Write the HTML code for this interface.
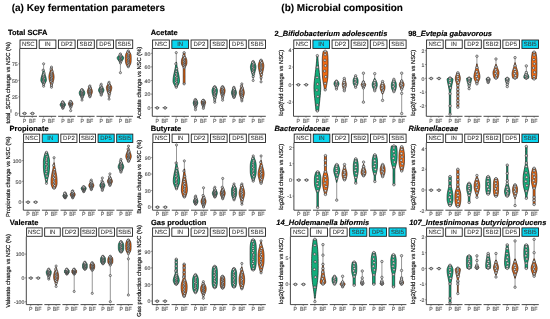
<!DOCTYPE html>
<html><head><meta charset="utf-8"><title>Figure</title><style>
*{margin:0;padding:0}
html,body{width:550px;height:319px;overflow:hidden;background:#fff}
svg{display:block;text-rendering:geometricPrecision;font-family:"Liberation Sans",Arial,sans-serif}
.pt{font-size:7.5px;font-weight:bold;fill:#000;stroke:#000;stroke-width:0.15}
.yl{fill:#111;stroke:#111;stroke-width:0.18;text-anchor:middle}
.ax{stroke:#333;stroke-width:0.9}
.tk{stroke:#444;stroke-width:0.55}
.tl{font-size:5.2px;fill:#555;stroke:#555;stroke-width:0.15;text-anchor:end}
.xl{font-size:5.3px;fill:#666;stroke:#666;stroke-width:0.15;text-anchor:middle}
.sb{stroke:#222;stroke-width:0.9}
.st{font-size:6px;fill:#3a3a3a;stroke:#3a3a3a;stroke-width:0.08;text-anchor:middle}
.vl{stroke:#000;stroke-width:0.6}
.tl2{stroke:#6a6a6a;stroke-width:0.7}
.pp{fill:#d6d6d6;stroke:#2a2a2a;stroke-width:0.55}
.pt0{fill:#d0d0d0;stroke:#2a2a2a;stroke-width:0.7}
</style></head><body>
<svg width="550" height="319" viewBox="0 0 550 319">
<rect width="550" height="319" fill="#fff"/>
<text x="11.7" y="10.9" font-size="10" font-weight="bold" fill="#000" stroke="#000" stroke-width="0.1">(a) Key fermentation parameters</text>
<text x="281.3" y="10.9" font-size="10" font-weight="bold" fill="#000" stroke="#000" stroke-width="0.1">(b) Microbial composition</text>
<text x="8" y="35.3" class="pt">Total SCFA</text>
<text class="yl" font-size="5.8" transform="translate(9.7,82.8) rotate(-90)" x="0" y="0">total_SCFA change vs NSC (%)</text>
<line x1="19.7" y1="48.7" x2="19.7" y2="116.3" class="ax"/>
<line x1="18.3" y1="113.3" x2="19.7" y2="113.3" class="tk"/>
<text x="17.7" y="115.5" class="tl">0</text>
<line x1="18.3" y1="96.8" x2="19.7" y2="96.8" class="tk"/>
<text x="17.7" y="99" class="tl">25</text>
<line x1="18.3" y1="80.3" x2="19.7" y2="80.3" class="tk"/>
<text x="17.7" y="82.5" class="tl">50</text>
<line x1="18.3" y1="63.8" x2="19.7" y2="63.8" class="tk"/>
<text x="17.7" y="66" class="tl">75</text>
<rect x="20" y="40" width="16.7" height="8.4" fill="#fff" class="sb"/>
<text x="28.35" y="46.3" class="st">NSC</text>
<line x1="19.7" y1="116.3" x2="37" y2="116.3" class="ax"/>
<line x1="24.42" y1="116.3" x2="24.42" y2="117.7" class="tk"/>
<text class="xl" transform="translate(24.57,122.5) scale(1,1.12)">P</text>
<line x1="32.28" y1="116.3" x2="32.28" y2="117.7" class="tk"/>
<text class="xl" transform="translate(32.28,122.5) scale(1,1.12)">BF</text>
<line x1="22.02" y1="113.3" x2="26.82" y2="113.3" stroke="#333" stroke-width="0.7"/>
<circle cx="24.62" cy="113.5" r="1.3" class="pt0"/>
<line x1="29.88" y1="113.3" x2="34.68" y2="113.3" stroke="#333" stroke-width="0.7"/>
<circle cx="32.48" cy="113.5" r="1.3" class="pt0"/>
<rect x="39.2" y="40" width="16.7" height="8.4" fill="#fff" class="sb"/>
<text x="47.55" y="46.3" class="st">IN</text>
<line x1="38.9" y1="116.3" x2="56.2" y2="116.3" class="ax"/>
<line x1="43.62" y1="116.3" x2="43.62" y2="117.7" class="tk"/>
<text class="xl" transform="translate(43.77,122.5) scale(1,1.12)">P</text>
<line x1="51.48" y1="116.3" x2="51.48" y2="117.7" class="tk"/>
<text class="xl" transform="translate(51.48,122.5) scale(1,1.12)">BF</text>
<line x1="43.62" y1="86.24" x2="43.62" y2="85.62" class="tl2"/>
<line x1="43.62" y1="69.41" x2="43.62" y2="63.8" class="tl2"/>
<path d="M43.98,85.62 L44.18,84.99 L44.46,84.37 L44.79,83.75 L45.17,83.12 L45.56,82.5 L45.92,81.88 L46.19,81.25 L46.35,80.63 L46.36,80.01 L46.33,79.38 L46.25,78.76 L46.15,78.14 L46.01,77.51 L45.85,76.89 L45.67,76.27 L45.48,75.64 L45.29,75.02 L45.09,74.4 L44.9,73.77 L44.72,73.15 L44.55,72.53 L44.39,71.9 L44.26,71.28 L44.14,70.66 L44.03,70.03 L43.95,69.41 L43.29,69.41 L43.2,70.03 L43.1,70.66 L42.98,71.28 L42.84,71.9 L42.69,72.53 L42.52,73.15 L42.34,73.77 L42.15,74.4 L41.95,75.02 L41.75,75.64 L41.56,76.27 L41.39,76.89 L41.23,77.51 L41.09,78.14 L40.98,78.76 L40.91,79.38 L40.87,80.01 L40.89,80.63 L41.04,81.25 L41.32,81.88 L41.67,82.5 L42.07,83.12 L42.45,83.75 L42.78,84.37 L43.05,84.99 L43.26,85.62Z" fill="#14AD7C" class="vl"/>
<circle cx="43.62" cy="86.24" r="1.1" class="pp"/>
<circle cx="43.62" cy="63.8" r="1.1" class="pp"/>
<circle cx="43.62" cy="84.22" r="1.1" class="pp"/>
<circle cx="44.12" cy="82.69" r="1.1" class="pp"/>
<circle cx="43.12" cy="81.7" r="1.1" class="pp"/>
<circle cx="43.87" cy="80.88" r="1.1" class="pp"/>
<circle cx="43.37" cy="80.12" r="1.1" class="pp"/>
<circle cx="43.62" cy="79.35" r="1.1" class="pp"/>
<circle cx="44.12" cy="78.57" r="1.1" class="pp"/>
<circle cx="43.12" cy="77.74" r="1.1" class="pp"/>
<circle cx="43.87" cy="76.85" r="1.1" class="pp"/>
<circle cx="43.37" cy="75.84" r="1.1" class="pp"/>
<circle cx="43.62" cy="74.64" r="1.1" class="pp"/>
<circle cx="44.12" cy="73.04" r="1.1" class="pp"/>
<circle cx="43.12" cy="70.19" r="1.1" class="pp"/>
<path d="M51.88,87.23 L51.97,86.67 L52.07,86.11 L52.18,85.55 L52.31,84.99 L52.45,84.43 L52.6,83.88 L52.75,83.32 L52.92,82.76 L53.08,82.2 L53.25,81.64 L53.41,81.08 L53.56,80.52 L53.7,79.96 L53.83,79.4 L53.93,78.84 L54.01,78.28 L54.06,77.72 L54.08,77.16 L54.07,76.61 L54.04,76.05 L53.98,75.49 L53.89,74.93 L53.78,74.37 L53.65,73.81 L53.5,73.25 L53.35,72.69 L53.18,72.13 L53.02,71.57 L52.85,71.01 L52.69,70.45 L52.53,69.9 L52.39,69.34 L52.26,68.78 L52.13,68.22 L52.03,67.66 L51.93,67.1 L51.03,67.1 L50.94,67.66 L50.83,68.22 L50.71,68.78 L50.57,69.34 L50.43,69.9 L50.28,70.45 L50.11,71.01 L49.95,71.57 L49.78,72.13 L49.62,72.69 L49.46,73.25 L49.32,73.81 L49.19,74.37 L49.07,74.93 L48.99,75.49 L48.92,76.05 L48.89,76.61 L48.88,77.16 L48.91,77.72 L48.96,78.28 L49.04,78.84 L49.14,79.4 L49.26,79.96 L49.4,80.52 L49.55,81.08 L49.71,81.64 L49.88,82.2 L50.05,82.76 L50.21,83.32 L50.37,83.88 L50.52,84.43 L50.66,84.99 L50.78,85.55 L50.9,86.11 L51,86.67 L51.08,87.23Z" fill="#F06A12" class="vl"/>
<circle cx="51.48" cy="87.23" r="1.1" class="pp"/>
<circle cx="51.48" cy="67.1" r="1.1" class="pp"/>
<circle cx="51.48" cy="85.11" r="1.1" class="pp"/>
<circle cx="51.98" cy="82.84" r="1.1" class="pp"/>
<circle cx="50.98" cy="81.31" r="1.1" class="pp"/>
<circle cx="51.73" cy="80.08" r="1.1" class="pp"/>
<circle cx="51.23" cy="79" r="1.1" class="pp"/>
<circle cx="51.48" cy="78" r="1.1" class="pp"/>
<circle cx="51.98" cy="77.03" r="1.1" class="pp"/>
<circle cx="50.98" cy="76.06" r="1.1" class="pp"/>
<circle cx="51.73" cy="75.06" r="1.1" class="pp"/>
<circle cx="51.23" cy="73.98" r="1.1" class="pp"/>
<circle cx="51.48" cy="72.76" r="1.1" class="pp"/>
<circle cx="51.98" cy="71.26" r="1.1" class="pp"/>
<circle cx="50.98" cy="69.06" r="1.1" class="pp"/>
<rect x="58.4" y="40" width="16.7" height="8.4" fill="#fff" class="sb"/>
<text x="66.75" y="46.3" class="st">DP2</text>
<line x1="58.1" y1="116.3" x2="75.4" y2="116.3" class="ax"/>
<line x1="62.82" y1="116.3" x2="62.82" y2="117.7" class="tk"/>
<text class="xl" transform="translate(62.97,122.5) scale(1,1.12)">P</text>
<line x1="70.68" y1="116.3" x2="70.68" y2="117.7" class="tk"/>
<text class="xl" transform="translate(70.68,122.5) scale(1,1.12)">BF</text>
<path d="M63.32,108.35 L63.41,108.17 L63.51,107.98 L63.62,107.8 L63.74,107.62 L63.87,107.43 L64.01,107.25 L64.16,107.07 L64.3,106.88 L64.46,106.7 L64.61,106.52 L64.76,106.33 L64.9,106.15 L65.03,105.97 L65.16,105.78 L65.26,105.6 L65.36,105.42 L65.43,105.23 L65.48,105.05 L65.51,104.87 L65.52,104.68 L65.5,104.5 L65.46,104.32 L65.4,104.13 L65.32,103.95 L65.22,103.77 L65.11,103.58 L64.98,103.4 L64.84,103.22 L64.7,103.03 L64.55,102.85 L64.4,102.67 L64.24,102.48 L64.1,102.3 L63.96,102.12 L63.82,101.93 L63.69,101.75 L61.94,101.75 L61.82,101.93 L61.68,102.12 L61.54,102.3 L61.39,102.48 L61.24,102.67 L61.09,102.85 L60.94,103.03 L60.79,103.22 L60.66,103.4 L60.53,103.58 L60.41,103.77 L60.31,103.95 L60.23,104.13 L60.17,104.32 L60.13,104.5 L60.12,104.68 L60.13,104.87 L60.16,105.05 L60.21,105.23 L60.28,105.42 L60.37,105.6 L60.48,105.78 L60.6,105.97 L60.74,106.15 L60.88,106.33 L61.03,106.52 L61.18,106.7 L61.33,106.88 L61.48,107.07 L61.62,107.25 L61.76,107.43 L61.89,107.62 L62.01,107.8 L62.12,107.98 L62.22,108.17 L62.32,108.35Z" fill="#14AD7C" class="vl"/>
<circle cx="62.82" cy="108.35" r="1.1" class="pp"/>
<circle cx="62.82" cy="101.75" r="1.1" class="pp"/>
<circle cx="62.82" cy="107.68" r="1.1" class="pp"/>
<circle cx="63.32" cy="106.89" r="1.1" class="pp"/>
<circle cx="62.32" cy="106.35" r="1.1" class="pp"/>
<circle cx="63.07" cy="105.9" r="1.1" class="pp"/>
<circle cx="62.57" cy="105.51" r="1.1" class="pp"/>
<circle cx="62.82" cy="105.15" r="1.1" class="pp"/>
<circle cx="63.32" cy="104.8" r="1.1" class="pp"/>
<circle cx="62.32" cy="104.46" r="1.1" class="pp"/>
<circle cx="63.07" cy="104.11" r="1.1" class="pp"/>
<circle cx="62.57" cy="103.73" r="1.1" class="pp"/>
<circle cx="62.82" cy="103.32" r="1.1" class="pp"/>
<circle cx="63.32" cy="102.83" r="1.1" class="pp"/>
<circle cx="62.32" cy="102.2" r="1.1" class="pp"/>
<line x1="70.68" y1="110.66" x2="70.68" y2="107.58" class="tl2"/>
<path d="M71.02,107.58 L71.12,107.32 L71.23,107.07 L71.35,106.81 L71.5,106.55 L71.65,106.3 L71.82,106.04 L72,105.78 L72.17,105.53 L72.34,105.27 L72.51,105.01 L72.65,104.76 L72.77,104.5 L72.86,104.24 L72.91,103.99 L72.93,103.73 L72.91,103.47 L72.86,103.22 L72.77,102.96 L72.65,102.7 L72.51,102.45 L72.34,102.19 L72.17,101.93 L72,101.68 L71.82,101.42 L69.54,101.42 L69.37,101.68 L69.19,101.93 L69.02,102.19 L68.86,102.45 L68.71,102.7 L68.6,102.96 L68.51,103.22 L68.45,103.47 L68.43,103.73 L68.45,103.99 L68.51,104.24 L68.6,104.5 L68.71,104.76 L68.86,105.01 L69.02,105.27 L69.19,105.53 L69.37,105.78 L69.54,106.04 L69.71,106.3 L69.87,106.55 L70.01,106.81 L70.14,107.07 L70.25,107.32 L70.34,107.58Z" fill="#F06A12" class="vl"/>
<circle cx="70.68" cy="110.66" r="1.1" class="pp"/>
<circle cx="70.68" cy="101.42" r="1.1" class="pp"/>
<circle cx="70.68" cy="107.41" r="1.1" class="pp"/>
<circle cx="71.18" cy="106.28" r="1.1" class="pp"/>
<circle cx="70.18" cy="105.65" r="1.1" class="pp"/>
<circle cx="70.93" cy="105.17" r="1.1" class="pp"/>
<circle cx="70.43" cy="104.76" r="1.1" class="pp"/>
<circle cx="70.68" cy="104.39" r="1.1" class="pp"/>
<circle cx="71.18" cy="104.04" r="1.1" class="pp"/>
<circle cx="70.18" cy="103.7" r="1.1" class="pp"/>
<circle cx="70.93" cy="103.36" r="1.1" class="pp"/>
<circle cx="70.43" cy="103.01" r="1.1" class="pp"/>
<circle cx="70.68" cy="102.64" r="1.1" class="pp"/>
<circle cx="71.18" cy="102.22" r="1.1" class="pp"/>
<circle cx="70.18" cy="101.72" r="1.1" class="pp"/>
<rect x="77.6" y="40" width="16.7" height="8.4" fill="#fff" class="sb"/>
<text x="85.95" y="46.3" class="st">SBI2</text>
<line x1="77.3" y1="116.3" x2="94.6" y2="116.3" class="ax"/>
<line x1="82.02" y1="116.3" x2="82.02" y2="117.7" class="tk"/>
<text class="xl" transform="translate(82.17,122.5) scale(1,1.12)">P</text>
<line x1="89.88" y1="116.3" x2="89.88" y2="117.7" class="tk"/>
<text class="xl" transform="translate(89.88,122.5) scale(1,1.12)">BF</text>
<line x1="82.02" y1="100.1" x2="82.02" y2="98.63" class="tl2"/>
<path d="M82.38,98.63 L82.48,98.34 L82.59,98.05 L82.73,97.75 L82.88,97.46 L83.05,97.17 L83.22,96.87 L83.41,96.58 L83.59,96.29 L83.78,95.99 L83.96,95.7 L84.12,95.41 L84.28,95.11 L84.41,94.82 L84.52,94.53 L84.61,94.23 L84.68,93.94 L84.73,93.65 L84.76,93.35 L84.77,93.06 L84.77,92.77 L84.76,92.47 L84.73,92.18 L84.66,91.89 L84.57,91.59 L84.43,91.3 L84.27,91.01 L84.07,90.71 L83.86,90.42 L83.63,90.13 L83.39,89.83 L83.17,89.54 L80.87,89.54 L80.64,89.83 L80.41,90.13 L80.18,90.42 L79.96,90.71 L79.77,91.01 L79.6,91.3 L79.47,91.59 L79.37,91.89 L79.31,92.18 L79.28,92.47 L79.27,92.77 L79.27,93.06 L79.28,93.35 L79.31,93.65 L79.35,93.94 L79.42,94.23 L79.51,94.53 L79.63,94.82 L79.76,95.11 L79.91,95.41 L80.08,95.7 L80.26,95.99 L80.44,96.29 L80.63,96.58 L80.81,96.87 L80.99,97.17 L81.16,97.46 L81.31,97.75 L81.44,98.05 L81.56,98.34 L81.66,98.63Z" fill="#14AD7C" class="vl"/>
<circle cx="82.02" cy="100.1" r="1.1" class="pp"/>
<circle cx="82.02" cy="89.54" r="1.1" class="pp"/>
<circle cx="82.02" cy="97.86" r="1.1" class="pp"/>
<circle cx="82.52" cy="96.52" r="1.1" class="pp"/>
<circle cx="81.52" cy="95.7" r="1.1" class="pp"/>
<circle cx="82.27" cy="95.06" r="1.1" class="pp"/>
<circle cx="81.77" cy="94.48" r="1.1" class="pp"/>
<circle cx="82.02" cy="93.95" r="1.1" class="pp"/>
<circle cx="82.52" cy="93.44" r="1.1" class="pp"/>
<circle cx="81.52" cy="92.94" r="1.1" class="pp"/>
<circle cx="82.27" cy="92.44" r="1.1" class="pp"/>
<circle cx="81.77" cy="91.93" r="1.1" class="pp"/>
<circle cx="82.02" cy="91.4" r="1.1" class="pp"/>
<circle cx="82.52" cy="90.8" r="1.1" class="pp"/>
<circle cx="81.52" cy="90.05" r="1.1" class="pp"/>
<path d="M90.58,96.8 L90.68,96.5 L90.8,96.19 L90.92,95.89 L91.05,95.59 L91.18,95.29 L91.32,94.98 L91.46,94.68 L91.6,94.38 L91.73,94.08 L91.86,93.78 L91.98,93.47 L92.09,93.17 L92.18,92.87 L92.26,92.56 L92.32,92.26 L92.36,91.96 L92.38,91.66 L92.38,91.35 L92.36,91.05 L92.31,90.75 L92.25,90.45 L92.17,90.14 L92.08,89.84 L91.97,89.54 L91.85,89.24 L91.72,88.94 L91.59,88.63 L91.45,88.33 L91.31,88.03 L91.17,87.72 L91.04,87.42 L90.91,87.12 L90.79,86.82 L90.67,86.51 L90.57,86.21 L90.47,85.91 L89.29,85.91 L89.2,86.21 L89.09,86.51 L88.98,86.82 L88.85,87.12 L88.73,87.42 L88.59,87.72 L88.45,88.03 L88.31,88.33 L88.18,88.63 L88.04,88.94 L87.91,89.24 L87.79,89.54 L87.68,89.84 L87.59,90.14 L87.51,90.45 L87.45,90.75 L87.41,91.05 L87.38,91.35 L87.38,91.66 L87.4,91.96 L87.44,92.26 L87.5,92.56 L87.58,92.87 L87.68,93.17 L87.78,93.47 L87.9,93.78 L88.03,94.08 L88.16,94.38 L88.3,94.68 L88.44,94.98 L88.58,95.29 L88.71,95.59 L88.84,95.89 L88.97,96.19 L89.08,96.5 L89.19,96.8Z" fill="#F06A12" class="vl"/>
<circle cx="89.88" cy="96.8" r="1.1" class="pp"/>
<circle cx="89.88" cy="85.91" r="1.1" class="pp"/>
<circle cx="89.88" cy="95.96" r="1.1" class="pp"/>
<circle cx="90.38" cy="94.82" r="1.1" class="pp"/>
<circle cx="89.38" cy="93.98" r="1.1" class="pp"/>
<circle cx="90.13" cy="93.28" r="1.1" class="pp"/>
<circle cx="89.63" cy="92.65" r="1.1" class="pp"/>
<circle cx="89.88" cy="92.05" r="1.1" class="pp"/>
<circle cx="90.38" cy="91.48" r="1.1" class="pp"/>
<circle cx="89.38" cy="90.9" r="1.1" class="pp"/>
<circle cx="90.13" cy="90.3" r="1.1" class="pp"/>
<circle cx="89.63" cy="89.66" r="1.1" class="pp"/>
<circle cx="89.88" cy="88.94" r="1.1" class="pp"/>
<circle cx="90.38" cy="88.07" r="1.1" class="pp"/>
<circle cx="89.38" cy="86.86" r="1.1" class="pp"/>
<rect x="96.8" y="40" width="16.7" height="8.4" fill="#fff" class="sb"/>
<text x="105.15" y="46.3" class="st">DP5</text>
<line x1="96.5" y1="116.3" x2="113.8" y2="116.3" class="ax"/>
<line x1="101.22" y1="116.3" x2="101.22" y2="117.7" class="tk"/>
<text class="xl" transform="translate(101.37,122.5) scale(1,1.12)">P</text>
<line x1="109.08" y1="116.3" x2="109.08" y2="117.7" class="tk"/>
<text class="xl" transform="translate(109.08,122.5) scale(1,1.12)">BF</text>
<line x1="101.22" y1="84.86" x2="101.22" y2="84.26" class="tl2"/>
<path d="M101.68,95.15 L101.79,94.85 L101.92,94.54 L102.05,94.24 L102.21,93.94 L102.37,93.64 L102.55,93.33 L102.74,93.03 L102.92,92.73 L103.11,92.43 L103.29,92.12 L103.45,91.82 L103.6,91.52 L103.72,91.22 L103.82,90.91 L103.89,90.61 L103.92,90.31 L103.91,90.01 L103.87,89.7 L103.8,89.4 L103.69,89.1 L103.56,88.8 L103.41,88.49 L103.24,88.19 L103.06,87.89 L102.87,87.59 L102.69,87.28 L102.5,86.98 L102.33,86.68 L102.16,86.38 L102.01,86.07 L101.88,85.77 L101.76,85.47 L101.66,85.17 L101.57,84.86 L100.87,84.86 L100.78,85.17 L100.68,85.47 L100.56,85.77 L100.42,86.07 L100.27,86.38 L100.11,86.68 L99.93,86.98 L99.75,87.28 L99.56,87.59 L99.38,87.89 L99.2,88.19 L99.03,88.49 L98.87,88.8 L98.74,89.1 L98.64,89.4 L98.57,89.7 L98.53,90.01 L98.52,90.31 L98.55,90.61 L98.62,90.91 L98.71,91.22 L98.84,91.52 L98.98,91.82 L99.15,92.12 L99.33,92.43 L99.51,92.73 L99.7,93.03 L99.88,93.33 L100.06,93.64 L100.23,93.94 L100.38,94.24 L100.52,94.54 L100.64,94.85 L100.75,95.15Z" fill="#14AD7C" class="vl"/>
<circle cx="101.22" cy="95.15" r="1.1" class="pp"/>
<circle cx="101.22" cy="84.26" r="1.1" class="pp"/>
<circle cx="101.22" cy="94.16" r="1.1" class="pp"/>
<circle cx="101.72" cy="93.05" r="1.1" class="pp"/>
<circle cx="100.72" cy="92.29" r="1.1" class="pp"/>
<circle cx="101.47" cy="91.68" r="1.1" class="pp"/>
<circle cx="100.97" cy="91.13" r="1.1" class="pp"/>
<circle cx="101.22" cy="90.63" r="1.1" class="pp"/>
<circle cx="101.72" cy="90.14" r="1.1" class="pp"/>
<circle cx="100.72" cy="89.65" r="1.1" class="pp"/>
<circle cx="101.47" cy="89.13" r="1.1" class="pp"/>
<circle cx="100.97" cy="88.58" r="1.1" class="pp"/>
<circle cx="101.22" cy="87.93" r="1.1" class="pp"/>
<circle cx="101.72" cy="87.12" r="1.1" class="pp"/>
<circle cx="100.72" cy="85.81" r="1.1" class="pp"/>
<line x1="109.08" y1="99.11" x2="109.08" y2="97.24" class="tl2"/>
<path d="M109.38,97.24 L109.45,96.77 L109.53,96.3 L109.62,95.84 L109.73,95.37 L109.85,94.9 L109.97,94.44 L110.11,93.97 L110.26,93.5 L110.42,93.03 L110.58,92.56 L110.75,92.1 L110.91,91.63 L111.07,91.16 L111.23,90.69 L111.37,90.23 L111.49,89.76 L111.6,89.29 L111.68,88.82 L111.74,88.36 L111.77,87.89 L111.78,87.42 L111.71,86.95 L111.57,86.49 L111.36,86.02 L111.1,85.55 L110.82,85.08 L110.53,84.62 L110.25,84.15 L110,83.68 L109.78,83.22 L109.59,82.75 L109.45,82.28 L108.72,82.28 L108.57,82.75 L108.38,83.22 L108.16,83.68 L107.91,84.15 L107.63,84.62 L107.34,85.08 L107.06,85.55 L106.8,86.02 L106.6,86.49 L106.45,86.95 L106.39,87.42 L106.39,87.89 L106.42,88.36 L106.48,88.82 L106.57,89.29 L106.67,89.76 L106.8,90.23 L106.94,90.69 L107.09,91.16 L107.25,91.63 L107.41,92.1 L107.58,92.56 L107.74,93.03 L107.9,93.5 L108.05,93.97 L108.19,94.44 L108.32,94.9 L108.43,95.37 L108.54,95.84 L108.63,96.3 L108.71,96.77 L108.78,97.24Z" fill="#F06A12" class="vl"/>
<circle cx="109.08" cy="99.11" r="1.1" class="pp"/>
<circle cx="109.08" cy="82.28" r="1.1" class="pp"/>
<circle cx="109.08" cy="95.94" r="1.1" class="pp"/>
<circle cx="109.58" cy="93.66" r="1.1" class="pp"/>
<circle cx="108.58" cy="92.3" r="1.1" class="pp"/>
<circle cx="109.33" cy="91.26" r="1.1" class="pp"/>
<circle cx="108.83" cy="90.38" r="1.1" class="pp"/>
<circle cx="109.08" cy="89.6" r="1.1" class="pp"/>
<circle cx="109.58" cy="88.86" r="1.1" class="pp"/>
<circle cx="108.58" cy="88.16" r="1.1" class="pp"/>
<circle cx="109.33" cy="87.48" r="1.1" class="pp"/>
<circle cx="108.83" cy="86.78" r="1.1" class="pp"/>
<circle cx="109.08" cy="86.02" r="1.1" class="pp"/>
<circle cx="109.58" cy="85.11" r="1.1" class="pp"/>
<circle cx="108.58" cy="83.74" r="1.1" class="pp"/>
<rect x="116" y="40" width="16.7" height="8.4" fill="#fff" class="sb"/>
<text x="124.35" y="46.3" class="st">SBI5</text>
<line x1="115.7" y1="116.3" x2="133" y2="116.3" class="ax"/>
<line x1="120.42" y1="116.3" x2="120.42" y2="117.7" class="tk"/>
<text class="xl" transform="translate(120.57,122.5) scale(1,1.12)">P</text>
<line x1="128.28" y1="116.3" x2="128.28" y2="117.7" class="tk"/>
<text class="xl" transform="translate(128.28,122.5) scale(1,1.12)">BF</text>
<line x1="120.42" y1="72.71" x2="120.42" y2="63.3" class="tl2"/>
<path d="M120.81,63.3 L120.99,62.78 L121.23,62.26 L121.52,61.74 L121.87,61.21 L122.25,60.69 L122.63,60.17 L123,59.65 L123.32,59.12 L123.54,58.6 L123.66,58.08 L123.63,57.56 L123.4,57.03 L123,56.51 L122.5,55.99 L121.98,55.47 L121.52,54.94 L121.14,54.42 L120.86,53.9 L119.98,53.9 L119.7,54.42 L119.32,54.94 L118.85,55.47 L118.34,55.99 L117.84,56.51 L117.44,57.03 L117.21,57.56 L117.18,58.08 L117.29,58.6 L117.52,59.12 L117.83,59.65 L118.2,60.17 L118.59,60.69 L118.97,61.21 L119.31,61.74 L119.61,62.26 L119.85,62.78 L120.03,63.3Z" fill="#14AD7C" class="vl"/>
<circle cx="120.42" cy="72.71" r="1.1" class="pp"/>
<circle cx="120.42" cy="53.9" r="1.1" class="pp"/>
<circle cx="120.42" cy="62.93" r="1.1" class="pp"/>
<circle cx="120.92" cy="61.35" r="1.1" class="pp"/>
<circle cx="119.92" cy="60.49" r="1.1" class="pp"/>
<circle cx="120.67" cy="59.84" r="1.1" class="pp"/>
<circle cx="120.17" cy="59.3" r="1.1" class="pp"/>
<circle cx="120.42" cy="58.81" r="1.1" class="pp"/>
<circle cx="120.92" cy="58.35" r="1.1" class="pp"/>
<circle cx="119.92" cy="57.91" r="1.1" class="pp"/>
<circle cx="120.67" cy="57.47" r="1.1" class="pp"/>
<circle cx="120.17" cy="57" r="1.1" class="pp"/>
<circle cx="120.42" cy="56.48" r="1.1" class="pp"/>
<circle cx="120.92" cy="55.85" r="1.1" class="pp"/>
<circle cx="119.92" cy="54.88" r="1.1" class="pp"/>
<path d="M129.14,66.77 L129.37,66.33 L129.61,65.89 L129.86,65.45 L130.1,65.01 L130.32,64.57 L130.52,64.13 L130.68,63.69 L130.82,63.25 L130.93,62.81 L131.02,62.37 L131.08,61.93 L131.12,61.49 L131.15,61.05 L131.17,60.61 L131.18,60.17 L131.18,59.73 L131.18,59.29 L131.18,58.85 L131.18,58.41 L131.18,57.97 L131.18,57.53 L131.18,57.09 L131.17,56.65 L131.15,56.21 L131.12,55.77 L131.06,55.33 L130.99,54.89 L130.88,54.45 L130.74,54.01 L130.56,53.57 L130.35,53.13 L130.11,52.69 L129.84,52.25 L129.57,51.81 L129.3,51.37 L129.05,50.93 L127.52,50.93 L127.27,51.37 L127,51.81 L126.72,52.25 L126.46,52.69 L126.22,53.13 L126,53.57 L125.83,54.01 L125.68,54.45 L125.58,54.89 L125.5,55.33 L125.45,55.77 L125.41,56.21 L125.4,56.65 L125.39,57.09 L125.38,57.53 L125.38,57.97 L125.38,58.41 L125.38,58.85 L125.38,59.29 L125.38,59.73 L125.39,60.17 L125.4,60.61 L125.41,61.05 L125.44,61.49 L125.48,61.93 L125.54,62.37 L125.63,62.81 L125.74,63.25 L125.88,63.69 L126.05,64.13 L126.24,64.57 L126.46,65.01 L126.7,65.45 L126.95,65.89 L127.19,66.33 L127.43,66.77Z" fill="#F06A12" class="vl"/>
<circle cx="128.28" cy="66.77" r="1.1" class="pp"/>
<circle cx="128.28" cy="50.93" r="1.1" class="pp"/>
<circle cx="128.28" cy="65.56" r="1.1" class="pp"/>
<circle cx="128.78" cy="64.06" r="1.1" class="pp"/>
<circle cx="127.78" cy="62.89" r="1.1" class="pp"/>
<circle cx="128.53" cy="61.84" r="1.1" class="pp"/>
<circle cx="128.03" cy="60.82" r="1.1" class="pp"/>
<circle cx="128.28" cy="59.83" r="1.1" class="pp"/>
<circle cx="128.78" cy="58.84" r="1.1" class="pp"/>
<circle cx="127.78" cy="57.84" r="1.1" class="pp"/>
<circle cx="128.53" cy="56.85" r="1.1" class="pp"/>
<circle cx="128.03" cy="55.85" r="1.1" class="pp"/>
<circle cx="128.28" cy="54.81" r="1.1" class="pp"/>
<circle cx="128.78" cy="53.67" r="1.1" class="pp"/>
<circle cx="127.78" cy="52.19" r="1.1" class="pp"/>
<text x="150.7" y="35.3" class="pt">Acetate</text>
<text class="yl" font-size="5.8" transform="translate(141,82.8) rotate(-90)" x="0" y="0">Acetate change vs NSC (%)</text>
<line x1="152.3" y1="48.7" x2="152.3" y2="116.3" class="ax"/>
<line x1="150.9" y1="107.7" x2="152.3" y2="107.7" class="tk"/>
<text x="150.3" y="109.9" class="tl">0</text>
<line x1="150.9" y1="94.1" x2="152.3" y2="94.1" class="tk"/>
<text x="150.3" y="96.3" class="tl">20</text>
<line x1="150.9" y1="80.5" x2="152.3" y2="80.5" class="tk"/>
<text x="150.3" y="82.7" class="tl">40</text>
<line x1="150.9" y1="66.9" x2="152.3" y2="66.9" class="tk"/>
<text x="150.3" y="69.1" class="tl">60</text>
<line x1="150.9" y1="53.3" x2="152.3" y2="53.3" class="tk"/>
<text x="150.3" y="55.5" class="tl">80</text>
<rect x="152.6" y="40" width="16.73" height="8.4" fill="#fff" class="sb"/>
<text x="160.97" y="46.3" class="st">NSC</text>
<line x1="152.3" y1="116.3" x2="169.63" y2="116.3" class="ax"/>
<line x1="157.03" y1="116.3" x2="157.03" y2="117.7" class="tk"/>
<text class="xl" transform="translate(157.18,122.5) scale(1,1.12)">P</text>
<line x1="164.91" y1="116.3" x2="164.91" y2="117.7" class="tk"/>
<text class="xl" transform="translate(164.91,122.5) scale(1,1.12)">BF</text>
<line x1="154.63" y1="107.7" x2="159.43" y2="107.7" stroke="#333" stroke-width="0.7"/>
<circle cx="157.23" cy="107.9" r="1.3" class="pt0"/>
<line x1="162.51" y1="107.7" x2="167.31" y2="107.7" stroke="#333" stroke-width="0.7"/>
<circle cx="165.11" cy="107.9" r="1.3" class="pt0"/>
<rect x="171.83" y="40" width="16.73" height="8.4" fill="#0AD6F0" class="sb"/>
<text x="180.2" y="46.3" class="st">IN</text>
<line x1="171.53" y1="116.3" x2="188.87" y2="116.3" class="ax"/>
<line x1="176.26" y1="116.3" x2="176.26" y2="117.7" class="tk"/>
<text class="xl" transform="translate(176.41,122.5) scale(1,1.12)">P</text>
<line x1="184.14" y1="116.3" x2="184.14" y2="117.7" class="tk"/>
<text class="xl" transform="translate(184.14,122.5) scale(1,1.12)">BF</text>
<line x1="176.26" y1="62.25" x2="176.26" y2="52.62" class="tl2"/>
<path d="M177.11,87.3 L177.52,86.34 L177.99,85.37 L178.5,84.41 L178.97,83.45 L179.32,82.48 L179.5,81.52 L179.5,80.56 L179.46,79.59 L179.38,78.63 L179.26,77.67 L179.12,76.7 L178.95,75.74 L178.76,74.78 L178.56,73.81 L178.35,72.85 L178.13,71.89 L177.92,70.92 L177.71,69.96 L177.52,69 L177.34,68.03 L177.17,67.07 L177.02,66.11 L176.89,65.14 L176.77,64.18 L176.67,63.22 L176.59,62.25 L175.93,62.25 L175.85,63.22 L175.75,64.18 L175.63,65.14 L175.5,66.11 L175.35,67.07 L175.19,68.03 L175,69 L174.81,69.96 L174.6,70.92 L174.39,71.89 L174.18,72.85 L173.96,73.81 L173.76,74.78 L173.57,75.74 L173.4,76.7 L173.26,77.67 L173.14,78.63 L173.06,79.59 L173.02,80.56 L173.02,81.52 L173.2,82.48 L173.56,83.45 L174.02,84.41 L174.53,85.37 L175,86.34 L175.41,87.3Z" fill="#14AD7C" class="vl"/>
<circle cx="176.26" cy="87.3" r="1.1" class="pp"/>
<circle cx="176.26" cy="52.62" r="1.1" class="pp"/>
<circle cx="176.26" cy="85.7" r="1.1" class="pp"/>
<circle cx="176.76" cy="83.83" r="1.1" class="pp"/>
<circle cx="175.76" cy="82.47" r="1.1" class="pp"/>
<circle cx="176.51" cy="81.26" r="1.1" class="pp"/>
<circle cx="176.01" cy="80.08" r="1.1" class="pp"/>
<circle cx="176.26" cy="78.88" r="1.1" class="pp"/>
<circle cx="176.76" cy="77.63" r="1.1" class="pp"/>
<circle cx="175.76" cy="76.3" r="1.1" class="pp"/>
<circle cx="176.51" cy="74.86" r="1.1" class="pp"/>
<circle cx="176.01" cy="73.23" r="1.1" class="pp"/>
<circle cx="176.26" cy="71.26" r="1.1" class="pp"/>
<circle cx="176.76" cy="68.64" r="1.1" class="pp"/>
<circle cx="175.76" cy="63.9" r="1.1" class="pp"/>
<path d="M185.04,83.9 L185.04,83.03 L185.04,82.16 L185.04,81.29 L185.04,80.42 L185.04,79.56 L185.04,78.69 L185.04,77.82 L185.04,76.95 L185.04,76.08 L185.04,75.21 L185.04,74.34 L185.04,73.47 L185.04,72.6 L185.04,71.74 L185.04,70.87 L185.04,70 L185.04,69.13 L185.04,68.26 L185.09,67.39 L185.62,66.52 L186.14,65.65 L186.54,64.78 L186.78,63.92 L186.87,63.05 L186.89,62.18 L186.88,61.31 L186.83,60.44 L186.68,59.57 L186.42,58.7 L186.04,57.83 L185.59,56.96 L185.13,56.1 L185.04,55.23 L185.04,54.36 L185.04,53.49 L185.04,52.62 L183.24,52.62 L183.24,53.49 L183.24,54.36 L183.24,55.23 L183.15,56.1 L182.69,56.96 L182.24,57.83 L181.86,58.7 L181.6,59.57 L181.45,60.44 L181.4,61.31 L181.39,62.18 L181.4,63.05 L181.5,63.92 L181.74,64.78 L182.14,65.65 L182.66,66.52 L183.19,67.39 L183.24,68.26 L183.24,69.13 L183.24,70 L183.24,70.87 L183.24,71.74 L183.24,72.6 L183.24,73.47 L183.24,74.34 L183.24,75.21 L183.24,76.08 L183.24,76.95 L183.24,77.82 L183.24,78.69 L183.24,79.56 L183.24,80.42 L183.24,81.29 L183.24,82.16 L183.24,83.03 L183.24,83.9Z" fill="#F06A12" class="vl"/>
<circle cx="184.14" cy="83.9" r="1.1" class="pp"/>
<circle cx="184.14" cy="52.62" r="1.1" class="pp"/>
<circle cx="184.14" cy="67.64" r="1.1" class="pp"/>
<circle cx="184.64" cy="66.01" r="1.1" class="pp"/>
<circle cx="183.64" cy="64.99" r="1.1" class="pp"/>
<circle cx="184.39" cy="64.13" r="1.1" class="pp"/>
<circle cx="183.89" cy="63.33" r="1.1" class="pp"/>
<circle cx="184.14" cy="62.56" r="1.1" class="pp"/>
<circle cx="184.64" cy="61.79" r="1.1" class="pp"/>
<circle cx="183.64" cy="61.02" r="1.1" class="pp"/>
<circle cx="184.39" cy="60.23" r="1.1" class="pp"/>
<circle cx="183.89" cy="59.42" r="1.1" class="pp"/>
<circle cx="184.14" cy="58.52" r="1.1" class="pp"/>
<circle cx="184.64" cy="57.44" r="1.1" class="pp"/>
<circle cx="183.64" cy="55.77" r="1.1" class="pp"/>
<rect x="191.07" y="40" width="16.73" height="8.4" fill="#fff" class="sb"/>
<text x="199.43" y="46.3" class="st">DP2</text>
<line x1="190.77" y1="116.3" x2="208.1" y2="116.3" class="ax"/>
<line x1="195.49" y1="116.3" x2="195.49" y2="117.7" class="tk"/>
<text class="xl" transform="translate(195.64,122.5) scale(1,1.12)">P</text>
<line x1="203.37" y1="116.3" x2="203.37" y2="117.7" class="tk"/>
<text class="xl" transform="translate(203.37,122.5) scale(1,1.12)">BF</text>
<line x1="195.49" y1="109.74" x2="195.49" y2="108.32" class="tl2"/>
<path d="M195.81,108.32 L195.88,108.04 L195.96,107.76 L196.05,107.47 L196.16,107.19 L196.27,106.91 L196.39,106.62 L196.52,106.34 L196.66,106.06 L196.8,105.77 L196.94,105.49 L197.08,105.21 L197.22,104.92 L197.34,104.64 L197.46,104.36 L197.56,104.07 L197.64,103.79 L197.7,103.51 L197.73,103.22 L197.74,102.94 L197.73,102.66 L197.7,102.37 L197.64,102.09 L197.56,101.81 L197.46,101.52 L197.34,101.24 L197.22,100.96 L197.08,100.67 L196.94,100.39 L196.8,100.11 L196.66,99.82 L196.52,99.54 L194.46,99.54 L194.33,99.82 L194.19,100.11 L194.04,100.39 L193.9,100.67 L193.77,100.96 L193.64,101.24 L193.53,101.52 L193.43,101.81 L193.35,102.09 L193.29,102.37 L193.26,102.66 L193.24,102.94 L193.26,103.22 L193.29,103.51 L193.35,103.79 L193.43,104.07 L193.53,104.36 L193.64,104.64 L193.77,104.92 L193.9,105.21 L194.04,105.49 L194.19,105.77 L194.33,106.06 L194.46,106.34 L194.59,106.62 L194.72,106.91 L194.83,107.19 L194.93,107.47 L195.02,107.76 L195.11,108.04 L195.18,108.32Z" fill="#14AD7C" class="vl"/>
<circle cx="195.49" cy="109.74" r="1.1" class="pp"/>
<circle cx="195.49" cy="99.54" r="1.1" class="pp"/>
<circle cx="195.49" cy="107.72" r="1.1" class="pp"/>
<circle cx="195.99" cy="106.31" r="1.1" class="pp"/>
<circle cx="194.99" cy="105.48" r="1.1" class="pp"/>
<circle cx="195.74" cy="104.83" r="1.1" class="pp"/>
<circle cx="195.24" cy="104.27" r="1.1" class="pp"/>
<circle cx="195.49" cy="103.76" r="1.1" class="pp"/>
<circle cx="195.99" cy="103.29" r="1.1" class="pp"/>
<circle cx="194.99" cy="102.82" r="1.1" class="pp"/>
<circle cx="195.74" cy="102.35" r="1.1" class="pp"/>
<circle cx="195.24" cy="101.86" r="1.1" class="pp"/>
<circle cx="195.49" cy="101.33" r="1.1" class="pp"/>
<circle cx="195.99" cy="100.73" r="1.1" class="pp"/>
<circle cx="194.99" cy="100" r="1.1" class="pp"/>
<line x1="203.37" y1="108.38" x2="203.37" y2="107.7" class="tl2"/>
<path d="M203.68,107.7 L203.73,107.47 L203.79,107.25 L203.86,107.02 L203.93,106.79 L204.02,106.57 L204.1,106.34 L204.2,106.11 L204.3,105.89 L204.4,105.66 L204.51,105.43 L204.62,105.21 L204.74,104.98 L204.85,104.75 L204.96,104.53 L205.07,104.3 L205.17,104.07 L205.27,103.85 L205.36,103.62 L205.44,103.39 L205.5,103.17 L205.55,102.94 L205.59,102.71 L205.61,102.49 L205.62,102.26 L205.61,102.03 L205.57,101.81 L205.5,101.58 L205.41,101.35 L205.3,101.13 L205.17,100.9 L205.04,100.67 L204.89,100.45 L204.74,100.22 L202.01,100.22 L201.86,100.45 L201.71,100.67 L201.57,100.9 L201.44,101.13 L201.33,101.35 L201.24,101.58 L201.18,101.81 L201.14,102.03 L201.12,102.26 L201.13,102.49 L201.15,102.71 L201.19,102.94 L201.24,103.17 L201.31,103.39 L201.39,103.62 L201.47,103.85 L201.57,104.07 L201.67,104.3 L201.78,104.53 L201.89,104.75 L202.01,104.98 L202.12,105.21 L202.23,105.43 L202.34,105.66 L202.45,105.89 L202.55,106.11 L202.64,106.34 L202.73,106.57 L202.81,106.79 L202.89,107.02 L202.95,107.25 L203.01,107.47 L203.07,107.7Z" fill="#F06A12" class="vl"/>
<circle cx="203.37" cy="108.38" r="1.1" class="pp"/>
<circle cx="203.37" cy="100.22" r="1.1" class="pp"/>
<circle cx="203.37" cy="107.02" r="1.1" class="pp"/>
<circle cx="203.87" cy="105.79" r="1.1" class="pp"/>
<circle cx="202.87" cy="105.03" r="1.1" class="pp"/>
<circle cx="203.62" cy="104.44" r="1.1" class="pp"/>
<circle cx="203.12" cy="103.94" r="1.1" class="pp"/>
<circle cx="203.37" cy="103.49" r="1.1" class="pp"/>
<circle cx="203.87" cy="103.07" r="1.1" class="pp"/>
<circle cx="202.87" cy="102.67" r="1.1" class="pp"/>
<circle cx="203.62" cy="102.27" r="1.1" class="pp"/>
<circle cx="203.12" cy="101.88" r="1.1" class="pp"/>
<circle cx="203.37" cy="101.47" r="1.1" class="pp"/>
<circle cx="203.87" cy="101.03" r="1.1" class="pp"/>
<circle cx="202.87" cy="100.52" r="1.1" class="pp"/>
<rect x="210.3" y="40" width="16.73" height="8.4" fill="#fff" class="sb"/>
<text x="218.67" y="46.3" class="st">SBI2</text>
<line x1="210" y1="116.3" x2="227.33" y2="116.3" class="ax"/>
<line x1="214.73" y1="116.3" x2="214.73" y2="117.7" class="tk"/>
<text class="xl" transform="translate(214.88,122.5) scale(1,1.12)">P</text>
<line x1="222.61" y1="116.3" x2="222.61" y2="117.7" class="tk"/>
<text class="xl" transform="translate(222.61,122.5) scale(1,1.12)">BF</text>
<line x1="214.73" y1="102.26" x2="214.73" y2="101.83" class="tl2"/>
<path d="M215.07,101.83 L215.13,101.39 L215.19,100.96 L215.27,100.52 L215.35,100.09 L215.44,99.65 L215.53,99.22 L215.64,98.78 L215.75,98.35 L215.87,97.92 L215.99,97.48 L216.12,97.05 L216.25,96.61 L216.38,96.18 L216.52,95.74 L216.65,95.31 L216.78,94.87 L216.9,94.44 L217.01,94.01 L217.12,93.57 L217.21,93.14 L217.3,92.7 L217.37,92.27 L217.42,91.83 L217.45,91.4 L217.47,90.96 L217.47,90.53 L217.43,90.1 L217.35,89.66 L217.23,89.23 L217.08,88.79 L216.9,88.36 L216.7,87.92 L216.49,87.49 L216.27,87.05 L216.07,86.62 L213.39,86.62 L213.18,87.05 L212.97,87.49 L212.76,87.92 L212.56,88.36 L212.38,88.79 L212.22,89.23 L212.1,89.66 L212.02,90.1 L211.98,90.53 L211.98,90.96 L212,91.4 L212.04,91.83 L212.09,92.27 L212.16,92.7 L212.24,93.14 L212.33,93.57 L212.44,94.01 L212.56,94.44 L212.68,94.87 L212.81,95.31 L212.94,95.74 L213.07,96.18 L213.2,96.61 L213.33,97.05 L213.46,97.48 L213.59,97.92 L213.7,98.35 L213.82,98.78 L213.92,99.22 L214.02,99.65 L214.11,100.09 L214.19,100.52 L214.26,100.96 L214.33,101.39 L214.39,101.83Z" fill="#14AD7C" class="vl"/>
<circle cx="214.73" cy="102.26" r="1.1" class="pp"/>
<circle cx="214.73" cy="86.62" r="1.1" class="pp"/>
<circle cx="214.73" cy="99.97" r="1.1" class="pp"/>
<circle cx="215.23" cy="97.69" r="1.1" class="pp"/>
<circle cx="214.23" cy="96.22" r="1.1" class="pp"/>
<circle cx="214.98" cy="95.07" r="1.1" class="pp"/>
<circle cx="214.48" cy="94.09" r="1.1" class="pp"/>
<circle cx="214.73" cy="93.21" r="1.1" class="pp"/>
<circle cx="215.23" cy="92.39" r="1.1" class="pp"/>
<circle cx="214.23" cy="91.61" r="1.1" class="pp"/>
<circle cx="214.98" cy="90.84" r="1.1" class="pp"/>
<circle cx="214.48" cy="90.08" r="1.1" class="pp"/>
<circle cx="214.73" cy="89.28" r="1.1" class="pp"/>
<circle cx="215.23" cy="88.39" r="1.1" class="pp"/>
<circle cx="214.23" cy="87.31" r="1.1" class="pp"/>
<line x1="222.61" y1="100.22" x2="222.61" y2="99.09" class="tl2"/>
<path d="M222.91,99.09 L222.97,98.71 L223.04,98.33 L223.12,97.95 L223.21,97.58 L223.31,97.2 L223.42,96.82 L223.53,96.44 L223.66,96.06 L223.79,95.69 L223.93,95.31 L224.07,94.93 L224.21,94.55 L224.35,94.18 L224.48,93.8 L224.61,93.42 L224.73,93.04 L224.83,92.66 L224.92,92.29 L225,91.91 L225.05,91.53 L225.09,91.15 L225.11,90.78 L225.1,90.4 L225.06,90.02 L224.99,89.64 L224.89,89.26 L224.77,88.89 L224.64,88.51 L224.49,88.13 L224.32,87.75 L224.16,87.38 L223.99,87 L223.82,86.62 L221.39,86.62 L221.22,87 L221.06,87.38 L220.89,87.75 L220.73,88.13 L220.57,88.51 L220.44,88.89 L220.32,89.26 L220.22,89.64 L220.16,90.02 L220.12,90.4 L220.11,90.78 L220.12,91.15 L220.16,91.53 L220.21,91.91 L220.29,92.29 L220.38,92.66 L220.49,93.04 L220.6,93.42 L220.73,93.8 L220.87,94.18 L221.01,94.55 L221.15,94.93 L221.29,95.31 L221.42,95.69 L221.55,96.06 L221.68,96.44 L221.79,96.82 L221.9,97.2 L222,97.58 L222.09,97.95 L222.17,98.33 L222.24,98.71 L222.3,99.09Z" fill="#F06A12" class="vl"/>
<circle cx="222.61" cy="100.22" r="1.1" class="pp"/>
<circle cx="222.61" cy="86.62" r="1.1" class="pp"/>
<circle cx="222.61" cy="97.83" r="1.1" class="pp"/>
<circle cx="223.11" cy="95.88" r="1.1" class="pp"/>
<circle cx="222.11" cy="94.68" r="1.1" class="pp"/>
<circle cx="222.86" cy="93.75" r="1.1" class="pp"/>
<circle cx="222.36" cy="92.96" r="1.1" class="pp"/>
<circle cx="222.61" cy="92.25" r="1.1" class="pp"/>
<circle cx="223.11" cy="91.58" r="1.1" class="pp"/>
<circle cx="222.11" cy="90.93" r="1.1" class="pp"/>
<circle cx="222.86" cy="90.29" r="1.1" class="pp"/>
<circle cx="222.36" cy="89.64" r="1.1" class="pp"/>
<circle cx="222.61" cy="88.94" r="1.1" class="pp"/>
<circle cx="223.11" cy="88.16" r="1.1" class="pp"/>
<circle cx="222.11" cy="87.21" r="1.1" class="pp"/>
<rect x="229.53" y="40" width="16.73" height="8.4" fill="#fff" class="sb"/>
<text x="237.9" y="46.3" class="st">DP5</text>
<line x1="229.23" y1="116.3" x2="246.57" y2="116.3" class="ax"/>
<line x1="233.96" y1="116.3" x2="233.96" y2="117.7" class="tk"/>
<text class="xl" transform="translate(234.11,122.5) scale(1,1.12)">P</text>
<line x1="241.84" y1="116.3" x2="241.84" y2="117.7" class="tk"/>
<text class="xl" transform="translate(241.84,122.5) scale(1,1.12)">BF</text>
<path d="M234.9,97.5 L235.01,97.22 L235.13,96.93 L235.25,96.65 L235.38,96.37 L235.5,96.08 L235.63,95.8 L235.75,95.52 L235.87,95.23 L235.98,94.95 L236.09,94.67 L236.19,94.38 L236.27,94.1 L236.34,93.82 L236.39,93.53 L236.43,93.25 L236.46,92.97 L236.46,92.68 L236.45,92.4 L236.42,92.12 L236.37,91.83 L236.31,91.55 L236.24,91.27 L236.15,90.98 L236.05,90.7 L235.94,90.42 L235.82,90.13 L235.7,89.85 L235.58,89.57 L235.45,89.28 L235.33,89 L235.2,88.72 L235.08,88.43 L234.97,88.15 L234.86,87.87 L234.75,87.58 L234.66,87.3 L233.27,87.3 L233.17,87.58 L233.07,87.87 L232.96,88.15 L232.84,88.43 L232.72,88.72 L232.6,89 L232.47,89.28 L232.34,89.57 L232.22,89.85 L232.1,90.13 L231.98,90.42 L231.87,90.7 L231.77,90.98 L231.68,91.27 L231.61,91.55 L231.55,91.83 L231.5,92.12 L231.47,92.4 L231.46,92.68 L231.47,92.97 L231.49,93.25 L231.53,93.53 L231.58,93.82 L231.65,94.1 L231.74,94.38 L231.83,94.67 L231.94,94.95 L232.05,95.23 L232.17,95.52 L232.29,95.8 L232.42,96.08 L232.55,96.37 L232.67,96.65 L232.79,96.93 L232.91,97.22 L233.02,97.5Z" fill="#14AD7C" class="vl"/>
<circle cx="233.96" cy="97.5" r="1.1" class="pp"/>
<circle cx="233.96" cy="87.3" r="1.1" class="pp"/>
<circle cx="233.96" cy="96.84" r="1.1" class="pp"/>
<circle cx="234.46" cy="95.85" r="1.1" class="pp"/>
<circle cx="233.46" cy="95.07" r="1.1" class="pp"/>
<circle cx="234.21" cy="94.39" r="1.1" class="pp"/>
<circle cx="233.71" cy="93.78" r="1.1" class="pp"/>
<circle cx="233.96" cy="93.2" r="1.1" class="pp"/>
<circle cx="234.46" cy="92.63" r="1.1" class="pp"/>
<circle cx="233.46" cy="92.06" r="1.1" class="pp"/>
<circle cx="234.21" cy="91.46" r="1.1" class="pp"/>
<circle cx="233.71" cy="90.83" r="1.1" class="pp"/>
<circle cx="233.96" cy="90.12" r="1.1" class="pp"/>
<circle cx="234.46" cy="89.28" r="1.1" class="pp"/>
<circle cx="233.46" cy="88.14" r="1.1" class="pp"/>
<line x1="241.84" y1="84.37" x2="241.84" y2="83.9" class="tl2"/>
<path d="M242.18,100.9 L242.26,100.43 L242.36,99.96 L242.48,99.48 L242.61,99.01 L242.75,98.54 L242.91,98.07 L243.07,97.59 L243.24,97.12 L243.42,96.65 L243.59,96.18 L243.76,95.71 L243.91,95.23 L244.05,94.76 L244.17,94.29 L244.25,93.82 L244.31,93.34 L244.34,92.87 L244.33,92.4 L244.29,91.93 L244.22,91.46 L244.12,90.98 L243.99,90.51 L243.85,90.04 L243.69,89.57 L243.52,89.09 L243.34,88.62 L243.17,88.15 L243,87.68 L242.84,87.21 L242.69,86.73 L242.55,86.26 L242.43,85.79 L242.32,85.32 L242.22,84.84 L242.14,84.37 L241.53,84.37 L241.46,84.84 L241.36,85.32 L241.25,85.79 L241.13,86.26 L240.99,86.73 L240.84,87.21 L240.68,87.68 L240.51,88.15 L240.34,88.62 L240.16,89.09 L239.99,89.57 L239.83,90.04 L239.69,90.51 L239.56,90.98 L239.46,91.46 L239.39,91.93 L239.35,92.4 L239.34,92.87 L239.37,93.34 L239.42,93.82 L239.51,94.29 L239.63,94.76 L239.77,95.23 L239.92,95.71 L240.09,96.18 L240.26,96.65 L240.44,97.12 L240.61,97.59 L240.77,98.07 L240.93,98.54 L241.07,99.01 L241.2,99.48 L241.32,99.96 L241.42,100.43 L241.5,100.9Z" fill="#F06A12" class="vl"/>
<circle cx="241.84" cy="100.9" r="1.1" class="pp"/>
<circle cx="241.84" cy="83.9" r="1.1" class="pp"/>
<circle cx="241.84" cy="99.11" r="1.1" class="pp"/>
<circle cx="242.34" cy="97.28" r="1.1" class="pp"/>
<circle cx="241.34" cy="96.07" r="1.1" class="pp"/>
<circle cx="242.09" cy="95.1" r="1.1" class="pp"/>
<circle cx="241.59" cy="94.25" r="1.1" class="pp"/>
<circle cx="241.84" cy="93.46" r="1.1" class="pp"/>
<circle cx="242.34" cy="92.7" r="1.1" class="pp"/>
<circle cx="241.34" cy="91.94" r="1.1" class="pp"/>
<circle cx="242.09" cy="91.14" r="1.1" class="pp"/>
<circle cx="241.59" cy="90.28" r="1.1" class="pp"/>
<circle cx="241.84" cy="89.3" r="1.1" class="pp"/>
<circle cx="242.34" cy="88.05" r="1.1" class="pp"/>
<circle cx="241.34" cy="86.09" r="1.1" class="pp"/>
<rect x="248.77" y="40" width="16.73" height="8.4" fill="#fff" class="sb"/>
<text x="257.13" y="46.3" class="st">SBI5</text>
<line x1="248.47" y1="116.3" x2="265.8" y2="116.3" class="ax"/>
<line x1="253.19" y1="116.3" x2="253.19" y2="117.7" class="tk"/>
<text class="xl" transform="translate(253.34,122.5) scale(1,1.12)">P</text>
<line x1="261.07" y1="116.3" x2="261.07" y2="117.7" class="tk"/>
<text class="xl" transform="translate(261.07,122.5) scale(1,1.12)">BF</text>
<line x1="253.19" y1="80.5" x2="253.19" y2="77.86" class="tl2"/>
<path d="M253.56,77.86 L253.63,77.33 L253.72,76.8 L253.82,76.27 L253.93,75.74 L254.05,75.21 L254.18,74.68 L254.32,74.15 L254.47,73.62 L254.63,73.1 L254.79,72.57 L254.95,72.04 L255.11,71.51 L255.27,70.98 L255.42,70.45 L255.55,69.92 L255.67,69.39 L255.77,68.86 L255.85,68.34 L255.91,67.81 L255.94,67.28 L255.94,66.75 L255.91,66.22 L255.83,65.69 L255.71,65.16 L255.55,64.63 L255.37,64.1 L255.17,63.58 L254.95,63.05 L254.74,62.52 L254.53,61.99 L254.32,61.46 L252.06,61.46 L251.86,61.99 L251.65,62.52 L251.43,63.05 L251.22,63.58 L251.02,64.1 L250.84,64.63 L250.68,65.16 L250.56,65.69 L250.48,66.22 L250.45,66.75 L250.45,67.28 L250.48,67.81 L250.54,68.34 L250.62,68.86 L250.72,69.39 L250.84,69.92 L250.97,70.45 L251.12,70.98 L251.27,71.51 L251.43,72.04 L251.6,72.57 L251.76,73.1 L251.91,73.62 L252.06,74.15 L252.21,74.68 L252.34,75.21 L252.46,75.74 L252.57,76.27 L252.67,76.8 L252.76,77.33 L252.83,77.86Z" fill="#14AD7C" class="vl"/>
<circle cx="253.19" cy="80.5" r="1.1" class="pp"/>
<circle cx="253.19" cy="61.46" r="1.1" class="pp"/>
<circle cx="253.19" cy="76.68" r="1.1" class="pp"/>
<circle cx="253.69" cy="73.96" r="1.1" class="pp"/>
<circle cx="252.69" cy="72.34" r="1.1" class="pp"/>
<circle cx="253.44" cy="71.09" r="1.1" class="pp"/>
<circle cx="252.94" cy="70.04" r="1.1" class="pp"/>
<circle cx="253.19" cy="69.09" r="1.1" class="pp"/>
<circle cx="253.69" cy="68.2" r="1.1" class="pp"/>
<circle cx="252.69" cy="67.35" r="1.1" class="pp"/>
<circle cx="253.44" cy="66.5" r="1.1" class="pp"/>
<circle cx="252.94" cy="65.64" r="1.1" class="pp"/>
<circle cx="253.19" cy="64.72" r="1.1" class="pp"/>
<circle cx="253.69" cy="63.67" r="1.1" class="pp"/>
<circle cx="252.69" cy="62.35" r="1.1" class="pp"/>
<line x1="261.07" y1="81.86" x2="261.07" y2="79.44" class="tl2"/>
<path d="M261.41,79.44 L261.48,78.84 L261.55,78.23 L261.64,77.63 L261.73,77.02 L261.84,76.42 L261.95,75.82 L262.07,75.21 L262.2,74.61 L262.34,74 L262.48,73.4 L262.63,72.79 L262.78,72.19 L262.93,71.58 L263.07,70.98 L263.21,70.38 L263.34,69.77 L263.46,69.17 L263.56,68.56 L263.65,67.96 L263.73,67.35 L263.78,66.75 L263.81,66.14 L263.82,65.54 L263.79,64.94 L263.7,64.33 L263.56,63.73 L263.38,63.12 L263.16,62.52 L262.93,61.91 L262.68,61.31 L262.44,60.7 L262.2,60.1 L259.94,60.1 L259.71,60.7 L259.47,61.31 L259.22,61.91 L258.98,62.52 L258.77,63.12 L258.58,63.73 L258.44,64.33 L258.35,64.94 L258.32,65.54 L258.33,66.14 L258.37,66.75 L258.42,67.35 L258.49,67.96 L258.58,68.56 L258.69,69.17 L258.81,69.77 L258.94,70.38 L259.08,70.98 L259.22,71.58 L259.37,72.19 L259.52,72.79 L259.66,73.4 L259.8,74 L259.94,74.61 L260.07,75.21 L260.19,75.82 L260.31,76.42 L260.41,77.02 L260.51,77.63 L260.59,78.23 L260.67,78.84 L260.73,79.44Z" fill="#F06A12" class="vl"/>
<circle cx="261.07" cy="81.86" r="1.1" class="pp"/>
<circle cx="261.07" cy="60.1" r="1.1" class="pp"/>
<circle cx="261.07" cy="77.79" r="1.1" class="pp"/>
<circle cx="261.57" cy="74.57" r="1.1" class="pp"/>
<circle cx="260.57" cy="72.62" r="1.1" class="pp"/>
<circle cx="261.32" cy="71.13" r="1.1" class="pp"/>
<circle cx="260.82" cy="69.87" r="1.1" class="pp"/>
<circle cx="261.07" cy="68.74" r="1.1" class="pp"/>
<circle cx="261.57" cy="67.69" r="1.1" class="pp"/>
<circle cx="260.57" cy="66.69" r="1.1" class="pp"/>
<circle cx="261.32" cy="65.72" r="1.1" class="pp"/>
<circle cx="260.82" cy="64.74" r="1.1" class="pp"/>
<circle cx="261.07" cy="63.72" r="1.1" class="pp"/>
<circle cx="261.57" cy="62.57" r="1.1" class="pp"/>
<circle cx="260.57" cy="61.1" r="1.1" class="pp"/>
<text x="274.4" y="35.7" class="pt">2_<tspan font-style="italic">Bifidobacterium adolescentis</tspan></text>
<text class="yl" font-size="5.8" transform="translate(282.8,82.8) rotate(-90)" x="0" y="0">log2(fold change vs NSC)</text>
<line x1="293.5" y1="48.7" x2="293.5" y2="116.3" class="ax"/>
<line x1="292.1" y1="102.15" x2="293.5" y2="102.15" class="tk"/>
<text x="291.5" y="104.35" class="tl">-2</text>
<line x1="292.1" y1="84.6" x2="293.5" y2="84.6" class="tk"/>
<text x="291.5" y="86.8" class="tl">0</text>
<line x1="292.1" y1="67.05" x2="293.5" y2="67.05" class="tk"/>
<text x="291.5" y="69.25" class="tl">2</text>
<line x1="292.1" y1="49.5" x2="293.5" y2="49.5" class="tk"/>
<text x="291.5" y="51.7" class="tl">4</text>
<rect x="293.8" y="40" width="16.63" height="8.4" fill="#fff" class="sb"/>
<text x="302.12" y="46.3" class="st">NSC</text>
<line x1="293.5" y1="116.3" x2="310.73" y2="116.3" class="ax"/>
<line x1="298.2" y1="116.3" x2="298.2" y2="117.7" class="tk"/>
<text class="xl" transform="translate(298.35,122.5) scale(1,1.12)">P</text>
<line x1="306.03" y1="116.3" x2="306.03" y2="117.7" class="tk"/>
<text class="xl" transform="translate(306.03,122.5) scale(1,1.12)">BF</text>
<line x1="295.8" y1="84.6" x2="300.6" y2="84.6" stroke="#333" stroke-width="0.7"/>
<circle cx="298.4" cy="84.8" r="1.3" class="pt0"/>
<line x1="303.63" y1="84.6" x2="308.43" y2="84.6" stroke="#333" stroke-width="0.7"/>
<circle cx="306.23" cy="84.8" r="1.3" class="pt0"/>
<rect x="312.93" y="40" width="16.63" height="8.4" fill="#0AD6F0" class="sb"/>
<text x="321.25" y="46.3" class="st">IN</text>
<line x1="312.63" y1="116.3" x2="329.87" y2="116.3" class="ax"/>
<line x1="317.33" y1="116.3" x2="317.33" y2="117.7" class="tk"/>
<text class="xl" transform="translate(317.48,122.5) scale(1,1.12)">P</text>
<line x1="325.17" y1="116.3" x2="325.17" y2="117.7" class="tk"/>
<text class="xl" transform="translate(325.17,122.5) scale(1,1.12)">BF</text>
<path d="M318.7,110.92 L318.84,109.39 L318.99,107.85 L319.15,106.32 L319.3,104.78 L319.46,103.25 L319.63,101.71 L319.79,100.18 L319.95,98.64 L320.1,97.1 L320.25,95.57 L320.38,94.03 L320.5,92.5 L320.6,90.96 L320.68,89.43 L320.73,87.89 L320.72,86.35 L320.65,84.82 L320.54,83.28 L320.41,81.75 L320.25,80.21 L320.07,78.68 L319.89,77.14 L319.7,75.61 L319.51,74.07 L319.31,72.53 L319.13,71 L318.95,69.46 L318.77,67.93 L318.61,66.39 L318.46,64.86 L318.32,63.32 L318.19,61.78 L318.08,60.25 L317.97,58.71 L317.88,57.18 L317.8,55.64 L316.87,55.64 L316.78,57.18 L316.69,58.71 L316.59,60.25 L316.47,61.78 L316.35,63.32 L316.21,64.86 L316.06,66.39 L315.89,67.93 L315.72,69.46 L315.54,71 L315.35,72.53 L315.16,74.07 L314.97,75.61 L314.78,77.14 L314.59,78.68 L314.42,80.21 L314.26,81.75 L314.12,83.28 L314.02,84.82 L313.95,86.35 L313.94,87.89 L313.99,89.43 L314.06,90.96 L314.16,92.5 L314.28,94.03 L314.42,95.57 L314.56,97.1 L314.72,98.64 L314.88,100.18 L315.04,101.71 L315.2,103.25 L315.36,104.78 L315.52,106.32 L315.67,107.85 L315.82,109.39 L315.96,110.92Z" fill="#14AD7C" class="vl"/>
<circle cx="317.33" cy="110.92" r="1.22" class="pp"/>
<circle cx="317.33" cy="55.64" r="1.22" class="pp"/>
<circle cx="317.33" cy="104.91" r="1.22" class="pp"/>
<circle cx="317.83" cy="96.56" r="1.22" class="pp"/>
<circle cx="316.83" cy="90.09" r="1.22" class="pp"/>
<circle cx="317.58" cy="84.14" r="1.22" class="pp"/>
<circle cx="317.08" cy="77.37" r="1.22" class="pp"/>
<circle cx="317.33" cy="67.17" r="1.22" class="pp"/>
<path d="M325.81,89.86 L325.98,88.79 L326.17,87.72 L326.37,86.65 L326.58,85.57 L326.78,84.5 L326.98,83.43 L327.16,82.36 L327.33,81.28 L327.48,80.21 L327.62,79.14 L327.73,78.07 L327.82,76.99 L327.89,75.92 L327.95,74.85 L327.99,73.78 L328.02,72.7 L328.04,71.63 L328.05,70.56 L328.06,69.49 L328.06,68.41 L328.07,67.34 L328.07,66.27 L328.07,65.2 L328.07,64.12 L328.07,63.05 L328.07,61.98 L328.06,60.91 L328.05,59.83 L328.03,58.76 L327.99,57.69 L327.93,56.62 L327.84,55.55 L327.72,54.47 L327.57,53.4 L327.37,52.33 L327.14,51.25 L323.2,51.25 L322.96,52.33 L322.77,53.4 L322.61,54.47 L322.49,55.55 L322.4,56.62 L322.34,57.69 L322.3,58.76 L322.28,59.83 L322.27,60.91 L322.27,61.98 L322.27,63.05 L322.27,64.12 L322.27,65.2 L322.27,66.27 L322.27,67.34 L322.27,68.41 L322.27,69.49 L322.28,70.56 L322.29,71.63 L322.32,72.7 L322.35,73.78 L322.39,74.85 L322.44,75.92 L322.52,76.99 L322.61,78.07 L322.72,79.14 L322.85,80.21 L323,81.28 L323.17,82.36 L323.35,83.43 L323.55,84.5 L323.76,85.57 L323.96,86.65 L324.16,87.72 L324.35,88.79 L324.53,89.86Z" fill="#F06A12" class="vl"/>
<circle cx="325.17" cy="89.86" r="1.22" class="pp"/>
<circle cx="325.17" cy="51.25" r="1.22" class="pp"/>
<circle cx="325.17" cy="83.44" r="1.22" class="pp"/>
<circle cx="325.67" cy="76.66" r="1.22" class="pp"/>
<circle cx="324.67" cy="71.07" r="1.22" class="pp"/>
<circle cx="325.42" cy="65.67" r="1.22" class="pp"/>
<circle cx="324.92" cy="60.26" r="1.22" class="pp"/>
<circle cx="325.17" cy="54.65" r="1.22" class="pp"/>
<rect x="332.07" y="40" width="16.63" height="8.4" fill="#fff" class="sb"/>
<text x="340.38" y="46.3" class="st">DP2</text>
<line x1="331.77" y1="116.3" x2="349" y2="116.3" class="ax"/>
<line x1="336.47" y1="116.3" x2="336.47" y2="117.7" class="tk"/>
<text class="xl" transform="translate(336.62,122.5) scale(1,1.12)">P</text>
<line x1="344.3" y1="116.3" x2="344.3" y2="117.7" class="tk"/>
<text class="xl" transform="translate(344.3,122.5) scale(1,1.12)">BF</text>
<path d="M336.81,88.99 L336.86,88.77 L336.93,88.55 L337.01,88.33 L337.09,88.11 L337.18,87.89 L337.28,87.67 L337.38,87.45 L337.49,87.23 L337.61,87.01 L337.73,86.79 L337.86,86.57 L337.98,86.35 L338.11,86.14 L338.23,85.92 L338.35,85.7 L338.47,85.48 L338.58,85.26 L338.67,85.04 L338.76,84.82 L338.83,84.6 L338.89,84.38 L338.93,84.16 L338.96,83.94 L338.97,83.72 L338.96,83.5 L338.93,83.28 L338.89,83.06 L338.83,82.84 L338.76,82.63 L338.67,82.41 L338.58,82.19 L338.47,81.97 L338.35,81.75 L338.23,81.53 L338.11,81.31 L337.98,81.09 L334.95,81.09 L334.82,81.31 L334.7,81.53 L334.58,81.75 L334.46,81.97 L334.36,82.19 L334.26,82.41 L334.17,82.63 L334.1,82.84 L334.04,83.06 L334,83.28 L333.98,83.5 L333.97,83.72 L333.98,83.94 L334,84.16 L334.04,84.38 L334.1,84.6 L334.17,84.82 L334.26,85.04 L334.36,85.26 L334.46,85.48 L334.58,85.7 L334.7,85.92 L334.82,86.14 L334.95,86.35 L335.08,86.57 L335.2,86.79 L335.32,87.01 L335.44,87.23 L335.55,87.45 L335.66,87.67 L335.75,87.89 L335.84,88.11 L335.93,88.33 L336,88.55 L336.07,88.77 L336.13,88.99Z" fill="#14AD7C" class="vl"/>
<circle cx="336.47" cy="88.99" r="1.22" class="pp"/>
<circle cx="336.47" cy="81.09" r="1.22" class="pp"/>
<circle cx="336.47" cy="87.25" r="1.22" class="pp"/>
<circle cx="336.97" cy="85.7" r="1.22" class="pp"/>
<circle cx="335.97" cy="84.64" r="1.22" class="pp"/>
<circle cx="336.72" cy="83.72" r="1.22" class="pp"/>
<circle cx="336.22" cy="82.8" r="1.22" class="pp"/>
<circle cx="336.47" cy="81.75" r="1.22" class="pp"/>
<path d="M344.73,90.74 L344.81,90.4 L344.9,90.06 L344.99,89.72 L345.09,89.38 L345.2,89.04 L345.31,88.69 L345.43,88.35 L345.55,88.01 L345.66,87.67 L345.78,87.33 L345.89,86.99 L345.99,86.65 L346.08,86.31 L346.15,85.96 L346.22,85.62 L346.26,85.28 L346.29,84.94 L346.3,84.6 L346.29,84.26 L346.26,83.92 L346.22,83.58 L346.15,83.23 L346.08,82.89 L345.99,82.55 L345.89,82.21 L345.78,81.87 L345.66,81.53 L345.55,81.19 L345.43,80.85 L345.31,80.5 L345.2,80.16 L345.09,79.82 L344.99,79.48 L344.9,79.14 L344.81,78.8 L344.73,78.46 L343.87,78.46 L343.79,78.8 L343.7,79.14 L343.61,79.48 L343.51,79.82 L343.4,80.16 L343.29,80.5 L343.17,80.85 L343.05,81.19 L342.94,81.53 L342.82,81.87 L342.71,82.21 L342.61,82.55 L342.52,82.89 L342.45,83.23 L342.38,83.58 L342.34,83.92 L342.31,84.26 L342.3,84.6 L342.31,84.94 L342.34,85.28 L342.38,85.62 L342.45,85.96 L342.52,86.31 L342.61,86.65 L342.71,86.99 L342.82,87.33 L342.94,87.67 L343.05,88.01 L343.17,88.35 L343.29,88.69 L343.4,89.04 L343.51,89.38 L343.61,89.72 L343.7,90.06 L343.79,90.4 L343.87,90.74Z" fill="#F06A12" class="vl"/>
<circle cx="344.3" cy="90.74" r="1.22" class="pp"/>
<circle cx="344.3" cy="78.46" r="1.22" class="pp"/>
<circle cx="344.3" cy="88.79" r="1.22" class="pp"/>
<circle cx="344.8" cy="86.76" r="1.22" class="pp"/>
<circle cx="343.8" cy="85.28" r="1.22" class="pp"/>
<circle cx="344.55" cy="83.92" r="1.22" class="pp"/>
<circle cx="344.05" cy="82.44" r="1.22" class="pp"/>
<circle cx="344.3" cy="80.41" r="1.22" class="pp"/>
<rect x="351.2" y="40" width="16.63" height="8.4" fill="#fff" class="sb"/>
<text x="359.52" y="46.3" class="st">SBI2</text>
<line x1="350.9" y1="116.3" x2="368.13" y2="116.3" class="ax"/>
<line x1="355.6" y1="116.3" x2="355.6" y2="117.7" class="tk"/>
<text class="xl" transform="translate(355.75,122.5) scale(1,1.12)">P</text>
<line x1="363.43" y1="116.3" x2="363.43" y2="117.7" class="tk"/>
<text class="xl" transform="translate(363.43,122.5) scale(1,1.12)">BF</text>
<path d="M356.15,87.23 L356.3,86.92 L356.47,86.6 L356.65,86.28 L356.83,85.96 L357.02,85.65 L357.2,85.33 L357.37,85.01 L357.53,84.7 L357.67,84.38 L357.79,84.06 L357.89,83.75 L357.96,83.43 L358.02,83.11 L358.06,82.8 L358.08,82.48 L358.09,82.16 L358.1,81.85 L358.1,81.53 L358.1,81.21 L358.09,80.89 L358.08,80.58 L358.06,80.26 L358.02,79.94 L357.96,79.63 L357.89,79.31 L357.79,78.99 L357.67,78.68 L357.53,78.36 L357.37,78.04 L357.2,77.73 L357.02,77.41 L356.83,77.09 L356.65,76.78 L356.47,76.46 L356.3,76.14 L356.15,75.82 L355.05,75.82 L354.9,76.14 L354.73,76.46 L354.55,76.78 L354.37,77.09 L354.18,77.41 L354,77.73 L353.83,78.04 L353.67,78.36 L353.53,78.68 L353.41,78.99 L353.31,79.31 L353.24,79.63 L353.18,79.94 L353.14,80.26 L353.12,80.58 L353.11,80.89 L353.1,81.21 L353.1,81.53 L353.1,81.85 L353.11,82.16 L353.12,82.48 L353.14,82.8 L353.18,83.11 L353.24,83.43 L353.31,83.75 L353.41,84.06 L353.53,84.38 L353.67,84.7 L353.83,85.01 L354,85.33 L354.18,85.65 L354.37,85.96 L354.55,86.28 L354.73,86.6 L354.9,86.92 L355.05,87.23Z" fill="#14AD7C" class="vl"/>
<circle cx="355.6" cy="87.23" r="1.22" class="pp"/>
<circle cx="355.6" cy="75.82" r="1.22" class="pp"/>
<circle cx="355.6" cy="85.49" r="1.22" class="pp"/>
<circle cx="356.1" cy="83.69" r="1.22" class="pp"/>
<circle cx="355.1" cy="82.24" r="1.22" class="pp"/>
<circle cx="355.85" cy="80.82" r="1.22" class="pp"/>
<circle cx="355.35" cy="79.37" r="1.22" class="pp"/>
<circle cx="355.6" cy="77.56" r="1.22" class="pp"/>
<line x1="363.43" y1="102.15" x2="363.43" y2="88.48" class="tl2"/>
<line x1="363.43" y1="81.24" x2="363.43" y2="73.19" class="tl2"/>
<path d="M363.91,88.48 L364.28,87.67 L364.75,86.87 L365.23,86.06 L365.58,85.26 L365.68,84.45 L365.38,83.65 L364.8,82.84 L364.21,82.04 L363.79,81.24 L363.07,81.24 L362.66,82.04 L362.07,82.84 L361.49,83.65 L361.19,84.45 L361.28,85.26 L361.63,86.06 L362.11,86.87 L362.59,87.67 L362.96,88.48Z" fill="#F06A12" class="vl"/>
<circle cx="363.43" cy="102.15" r="1.22" class="pp"/>
<circle cx="363.43" cy="73.19" r="1.22" class="pp"/>
<circle cx="363.43" cy="81.97" r="1.22" class="pp"/>
<circle cx="363.43" cy="87.9" r="1.22" class="pp"/>
<circle cx="363.93" cy="86.3" r="1.22" class="pp"/>
<circle cx="362.93" cy="85.32" r="1.22" class="pp"/>
<circle cx="363.68" cy="84.47" r="1.22" class="pp"/>
<circle cx="363.18" cy="83.57" r="1.22" class="pp"/>
<circle cx="363.43" cy="82.22" r="1.22" class="pp"/>
<rect x="370.33" y="40" width="16.63" height="8.4" fill="#fff" class="sb"/>
<text x="378.65" y="46.3" class="st">DP5</text>
<line x1="370.03" y1="116.3" x2="387.27" y2="116.3" class="ax"/>
<line x1="374.73" y1="116.3" x2="374.73" y2="117.7" class="tk"/>
<text class="xl" transform="translate(374.88,122.5) scale(1,1.12)">P</text>
<line x1="382.57" y1="116.3" x2="382.57" y2="117.7" class="tk"/>
<text class="xl" transform="translate(382.57,122.5) scale(1,1.12)">BF</text>
<line x1="374.73" y1="78.38" x2="374.73" y2="73.63" class="tl2"/>
<path d="M375.29,90.74 L375.46,90.27 L375.66,89.79 L375.88,89.32 L376.11,88.84 L376.34,88.37 L376.55,87.89 L376.75,87.42 L376.92,86.94 L377.05,86.46 L377.14,85.99 L377.2,85.51 L377.23,85.04 L377.23,84.56 L377.22,84.09 L377.18,83.61 L377.1,83.14 L376.97,82.66 L376.79,82.19 L376.57,81.71 L376.33,81.24 L376.07,80.76 L375.82,80.29 L375.58,79.81 L375.36,79.33 L375.19,78.86 L375.04,78.38 L374.42,78.38 L374.28,78.86 L374.1,79.33 L373.89,79.81 L373.65,80.29 L373.4,80.76 L373.14,81.24 L372.89,81.71 L372.68,82.19 L372.5,82.66 L372.37,83.14 L372.29,83.61 L372.24,84.09 L372.23,84.56 L372.24,85.04 L372.27,85.51 L372.32,85.99 L372.42,86.46 L372.55,86.94 L372.72,87.42 L372.91,87.89 L373.13,88.37 L373.36,88.84 L373.59,89.32 L373.81,89.79 L374.01,90.27 L374.18,90.74Z" fill="#14AD7C" class="vl"/>
<circle cx="374.73" cy="90.74" r="1.22" class="pp"/>
<circle cx="374.73" cy="73.63" r="1.22" class="pp"/>
<circle cx="374.73" cy="88.86" r="1.22" class="pp"/>
<circle cx="375.23" cy="86.91" r="1.22" class="pp"/>
<circle cx="374.23" cy="85.42" r="1.22" class="pp"/>
<circle cx="374.98" cy="84" r="1.22" class="pp"/>
<circle cx="374.48" cy="82.51" r="1.22" class="pp"/>
<circle cx="374.73" cy="80.43" r="1.22" class="pp"/>
<line x1="382.57" y1="100.39" x2="382.57" y2="94.11" class="tl2"/>
<path d="M382.89,94.11 L383.03,93.58 L383.21,93.06 L383.41,92.53 L383.64,92.01 L383.88,91.49 L384.12,90.96 L384.35,90.44 L384.55,89.91 L384.72,89.39 L384.84,88.87 L384.92,88.34 L384.96,87.82 L384.97,87.29 L384.96,86.77 L384.92,86.25 L384.83,85.72 L384.68,85.2 L384.48,84.67 L384.24,84.15 L383.97,83.62 L383.7,83.1 L383.44,82.58 L383.21,82.05 L383.01,81.53 L382.12,81.53 L381.93,82.05 L381.7,82.58 L381.43,83.1 L381.16,83.62 L380.9,84.15 L380.65,84.67 L380.46,85.2 L380.31,85.72 L380.22,86.25 L380.17,86.77 L380.17,87.29 L380.18,87.82 L380.22,88.34 L380.3,88.87 L380.42,89.39 L380.58,89.91 L380.78,90.44 L381.01,90.96 L381.25,91.49 L381.49,92.01 L381.72,92.53 L381.93,93.06 L382.1,93.58 L382.24,94.11Z" fill="#F06A12" class="vl"/>
<circle cx="382.57" cy="100.39" r="1.22" class="pp"/>
<circle cx="382.57" cy="81.53" r="1.22" class="pp"/>
<circle cx="382.57" cy="92.11" r="1.22" class="pp"/>
<circle cx="383.07" cy="89.88" r="1.22" class="pp"/>
<circle cx="382.07" cy="88.32" r="1.22" class="pp"/>
<circle cx="382.82" cy="86.89" r="1.22" class="pp"/>
<circle cx="382.32" cy="85.41" r="1.22" class="pp"/>
<circle cx="382.57" cy="83.51" r="1.22" class="pp"/>
<rect x="389.47" y="40" width="16.63" height="8.4" fill="#fff" class="sb"/>
<text x="397.78" y="46.3" class="st">SBI5</text>
<line x1="389.17" y1="116.3" x2="406.4" y2="116.3" class="ax"/>
<line x1="393.87" y1="116.3" x2="393.87" y2="117.7" class="tk"/>
<text class="xl" transform="translate(394.02,122.5) scale(1,1.12)">P</text>
<line x1="401.7" y1="116.3" x2="401.7" y2="117.7" class="tk"/>
<text class="xl" transform="translate(401.7,122.5) scale(1,1.12)">BF</text>
<path d="M394.76,91.62 L394.92,91.28 L395.08,90.94 L395.24,90.6 L395.41,90.25 L395.56,89.91 L395.71,89.57 L395.84,89.23 L395.96,88.89 L396.06,88.55 L396.15,88.21 L396.22,87.87 L396.27,87.52 L396.31,87.18 L396.34,86.84 L396.35,86.5 L396.36,86.16 L396.37,85.82 L396.37,85.48 L396.37,85.14 L396.36,84.79 L396.35,84.45 L396.33,84.11 L396.29,83.77 L396.24,83.43 L396.17,83.09 L396.08,82.75 L395.97,82.41 L395.84,82.06 L395.69,81.72 L395.53,81.38 L395.36,81.04 L395.18,80.7 L395,80.36 L394.82,80.02 L394.65,79.68 L394.5,79.33 L393.23,79.33 L393.08,79.68 L392.91,80.02 L392.74,80.36 L392.56,80.7 L392.38,81.04 L392.2,81.38 L392.04,81.72 L391.89,82.06 L391.76,82.41 L391.65,82.75 L391.56,83.09 L391.49,83.43 L391.44,83.77 L391.4,84.11 L391.38,84.45 L391.37,84.79 L391.37,85.14 L391.37,85.48 L391.37,85.82 L391.37,86.16 L391.38,86.5 L391.39,86.84 L391.42,87.18 L391.46,87.52 L391.51,87.87 L391.58,88.21 L391.67,88.55 L391.77,88.89 L391.89,89.23 L392.02,89.57 L392.17,89.91 L392.33,90.25 L392.49,90.6 L392.65,90.94 L392.82,91.28 L392.97,91.62Z" fill="#14AD7C" class="vl"/>
<circle cx="393.87" cy="91.62" r="1.22" class="pp"/>
<circle cx="393.87" cy="79.33" r="1.22" class="pp"/>
<circle cx="393.87" cy="90.04" r="1.22" class="pp"/>
<circle cx="394.37" cy="88.06" r="1.22" class="pp"/>
<circle cx="393.37" cy="86.42" r="1.22" class="pp"/>
<circle cx="394.12" cy="84.82" r="1.22" class="pp"/>
<circle cx="393.62" cy="83.18" r="1.22" class="pp"/>
<circle cx="393.87" cy="81.17" r="1.22" class="pp"/>
<line x1="401.7" y1="113.56" x2="401.7" y2="90.01" class="tl2"/>
<line x1="401.7" y1="79.92" x2="401.7" y2="73.19" class="tl2"/>
<path d="M402.21,90.01 L402.6,88.89 L403.11,87.77 L403.62,86.65 L403.99,85.53 L404.09,84.41 L403.82,83.28 L403.26,82.16 L402.66,81.04 L402.19,79.92 L401.21,79.92 L400.74,81.04 L400.14,82.16 L399.58,83.28 L399.31,84.41 L399.41,85.53 L399.78,86.65 L400.29,87.77 L400.8,88.89 L401.19,90.01Z" fill="#F06A12" class="vl"/>
<circle cx="401.7" cy="113.56" r="1.22" class="pp"/>
<circle cx="401.7" cy="73.19" r="1.22" class="pp"/>
<circle cx="401.7" cy="93.38" r="1.22" class="pp"/>
<circle cx="401.7" cy="89.22" r="1.22" class="pp"/>
<circle cx="402.2" cy="86.94" r="1.22" class="pp"/>
<circle cx="401.2" cy="85.53" r="1.22" class="pp"/>
<circle cx="401.95" cy="84.3" r="1.22" class="pp"/>
<circle cx="401.45" cy="82.99" r="1.22" class="pp"/>
<circle cx="401.7" cy="81.03" r="1.22" class="pp"/>
<text x="408.2" y="35.7" class="pt">98_<tspan font-style="italic">Evtepia gabavorous</tspan></text>
<text class="yl" font-size="5.8" transform="translate(415,82.8) rotate(-90)" x="0" y="0">log2(fold change vs NSC)</text>
<line x1="426.3" y1="48.7" x2="426.3" y2="116.3" class="ax"/>
<line x1="424.9" y1="105.9" x2="426.3" y2="105.9" class="tk"/>
<text x="424.3" y="108.1" class="tl">-2</text>
<line x1="424.9" y1="92.1" x2="426.3" y2="92.1" class="tk"/>
<text x="424.3" y="94.3" class="tl">-1</text>
<line x1="424.9" y1="78.3" x2="426.3" y2="78.3" class="tk"/>
<text x="424.3" y="80.5" class="tl">0</text>
<line x1="424.9" y1="64.5" x2="426.3" y2="64.5" class="tk"/>
<text x="424.3" y="66.7" class="tl">1</text>
<line x1="424.9" y1="50.7" x2="426.3" y2="50.7" class="tk"/>
<text x="424.3" y="52.9" class="tl">2</text>
<rect x="426.6" y="40" width="16.57" height="8.4" fill="#fff" class="sb"/>
<text x="434.88" y="46.3" class="st">NSC</text>
<line x1="426.3" y1="116.3" x2="443.47" y2="116.3" class="ax"/>
<line x1="430.98" y1="116.3" x2="430.98" y2="117.7" class="tk"/>
<text class="xl" transform="translate(431.13,122.5) scale(1,1.12)">P</text>
<line x1="438.78" y1="116.3" x2="438.78" y2="117.7" class="tk"/>
<text class="xl" transform="translate(438.78,122.5) scale(1,1.12)">BF</text>
<line x1="428.58" y1="78.3" x2="433.38" y2="78.3" stroke="#333" stroke-width="0.7"/>
<circle cx="431.18" cy="78.5" r="1.3" class="pt0"/>
<line x1="436.38" y1="78.3" x2="441.18" y2="78.3" stroke="#333" stroke-width="0.7"/>
<circle cx="438.98" cy="78.5" r="1.3" class="pt0"/>
<rect x="445.67" y="40" width="16.57" height="8.4" fill="#fff" class="sb"/>
<text x="453.95" y="46.3" class="st">IN</text>
<line x1="445.37" y1="116.3" x2="462.53" y2="116.3" class="ax"/>
<line x1="450.05" y1="116.3" x2="450.05" y2="117.7" class="tk"/>
<text class="xl" transform="translate(450.2,122.5) scale(1,1.12)">P</text>
<line x1="457.85" y1="116.3" x2="457.85" y2="117.7" class="tk"/>
<text class="xl" transform="translate(457.85,122.5) scale(1,1.12)">BF</text>
<path d="M450.75,114.18 L450.75,113.17 L450.75,112.16 L450.75,111.16 L450.75,110.15 L450.75,109.14 L450.75,108.13 L450.75,107.12 L450.75,106.11 L450.75,105.11 L450.75,104.1 L450.75,103.09 L450.75,102.08 L450.75,101.07 L450.75,100.07 L450.75,99.06 L450.75,98.05 L450.75,97.04 L450.75,96.03 L450.75,95.02 L450.75,94.02 L450.75,93.01 L450.75,92 L450.85,90.99 L450.99,89.98 L451.15,88.98 L451.32,87.97 L451.51,86.96 L451.71,85.95 L451.92,84.94 L452.14,83.94 L452.35,82.93 L452.56,81.92 L452.75,80.91 L452.91,79.9 L453.02,78.89 L451.87,77.89 L448.23,77.89 L447.08,78.89 L447.19,79.9 L447.35,80.91 L447.54,81.92 L447.74,82.93 L447.96,83.94 L448.17,84.94 L448.39,85.95 L448.59,86.96 L448.78,87.97 L448.95,88.98 L449.11,89.98 L449.25,90.99 L449.35,92 L449.35,93.01 L449.35,94.02 L449.35,95.02 L449.35,96.03 L449.35,97.04 L449.35,98.05 L449.35,99.06 L449.35,100.07 L449.35,101.07 L449.35,102.08 L449.35,103.09 L449.35,104.1 L449.35,105.11 L449.35,106.11 L449.35,107.12 L449.35,108.13 L449.35,109.14 L449.35,110.15 L449.35,111.16 L449.35,112.16 L449.35,113.17 L449.35,114.18Z" fill="#14AD7C" class="vl"/>
<circle cx="450.05" cy="114.18" r="1.22" class="pp"/>
<circle cx="450.05" cy="77.89" r="1.22" class="pp"/>
<circle cx="450.05" cy="105.9" r="1.22" class="pp"/>
<circle cx="450.05" cy="93.73" r="1.22" class="pp"/>
<circle cx="450.55" cy="87.88" r="1.22" class="pp"/>
<circle cx="449.55" cy="84.75" r="1.22" class="pp"/>
<circle cx="450.3" cy="82.45" r="1.22" class="pp"/>
<circle cx="449.8" cy="80.52" r="1.22" class="pp"/>
<circle cx="450.05" cy="78.79" r="1.22" class="pp"/>
<path d="M458.75,107.28 L458.75,106.32 L458.75,105.36 L458.75,104.41 L458.75,103.45 L458.75,102.49 L458.75,101.53 L458.75,100.57 L458.75,99.61 L458.75,98.66 L458.75,97.7 L458.75,96.74 L458.75,95.78 L458.75,94.82 L458.75,93.86 L458.75,92.91 L458.75,91.95 L458.75,90.99 L458.75,90.03 L458.75,89.07 L458.75,88.11 L458.75,87.16 L458.75,86.2 L458.75,85.24 L459.01,84.28 L459.31,83.32 L459.61,82.36 L459.88,81.41 L460.12,80.45 L460.28,79.49 L460.35,78.53 L460.31,77.57 L460.15,76.61 L459.89,75.66 L459.56,74.7 L459.21,73.74 L458.88,72.78 L456.82,72.78 L456.49,73.74 L456.14,74.7 L455.81,75.66 L455.55,76.61 L455.39,77.57 L455.35,78.53 L455.43,79.49 L455.59,80.45 L455.82,81.41 L456.1,82.36 L456.4,83.32 L456.69,84.28 L456.95,85.24 L456.95,86.2 L456.95,87.16 L456.95,88.11 L456.95,89.07 L456.95,90.03 L456.95,90.99 L456.95,91.95 L456.95,92.91 L456.95,93.86 L456.95,94.82 L456.95,95.78 L456.95,96.74 L456.95,97.7 L456.95,98.66 L456.95,99.61 L456.95,100.57 L456.95,101.53 L456.95,102.49 L456.95,103.45 L456.95,104.41 L456.95,105.36 L456.95,106.32 L456.95,107.28Z" fill="#F06A12" class="vl"/>
<circle cx="457.85" cy="107.28" r="1.22" class="pp"/>
<circle cx="457.85" cy="72.78" r="1.22" class="pp"/>
<circle cx="457.85" cy="89.34" r="1.22" class="pp"/>
<circle cx="457.85" cy="92.79" r="1.22" class="pp"/>
<circle cx="457.85" cy="96.24" r="1.22" class="pp"/>
<circle cx="457.85" cy="100.38" r="1.22" class="pp"/>
<circle cx="457.85" cy="103.83" r="1.22" class="pp"/>
<circle cx="457.85" cy="85.63" r="1.22" class="pp"/>
<circle cx="458.35" cy="82.24" r="1.22" class="pp"/>
<circle cx="457.35" cy="80.16" r="1.22" class="pp"/>
<circle cx="458.1" cy="78.38" r="1.22" class="pp"/>
<circle cx="457.6" cy="76.6" r="1.22" class="pp"/>
<circle cx="457.85" cy="74.42" r="1.22" class="pp"/>
<rect x="464.73" y="40" width="16.57" height="8.4" fill="#fff" class="sb"/>
<text x="473.02" y="46.3" class="st">DP2</text>
<line x1="464.43" y1="116.3" x2="481.6" y2="116.3" class="ax"/>
<line x1="469.12" y1="116.3" x2="469.12" y2="117.7" class="tk"/>
<text class="xl" transform="translate(469.27,122.5) scale(1,1.12)">P</text>
<line x1="476.92" y1="116.3" x2="476.92" y2="117.7" class="tk"/>
<text class="xl" transform="translate(476.92,122.5) scale(1,1.12)">BF</text>
<line x1="469.12" y1="88.65" x2="469.12" y2="88.06" class="tl2"/>
<path d="M469.44,88.06 L469.48,87.76 L469.53,87.47 L469.58,87.17 L469.63,86.88 L469.69,86.58 L469.75,86.29 L469.82,85.99 L469.89,85.7 L469.96,85.4 L470.04,85.11 L470.12,84.81 L470.21,84.52 L470.29,84.22 L470.38,83.93 L470.47,83.63 L470.57,83.34 L470.66,83.04 L470.75,82.75 L470.84,82.45 L470.93,82.16 L471.02,81.86 L471.1,81.57 L471.18,81.27 L471.26,80.98 L471.33,80.68 L471.39,80.39 L471.45,80.09 L471.5,79.8 L471.54,79.5 L471.57,79.2 L471.6,78.91 L471.61,78.61 L471.62,78.32 L471.42,78.02 L466.81,78.02 L466.62,78.32 L466.62,78.61 L466.63,78.91 L466.66,79.2 L466.69,79.5 L466.73,79.8 L466.78,80.09 L466.84,80.39 L466.9,80.68 L466.97,80.98 L467.05,81.27 L467.13,81.57 L467.21,81.86 L467.3,82.16 L467.39,82.45 L467.48,82.75 L467.57,83.04 L467.66,83.34 L467.76,83.63 L467.85,83.93 L467.94,84.22 L468.02,84.52 L468.11,84.81 L468.19,85.11 L468.27,85.4 L468.34,85.7 L468.41,85.99 L468.48,86.29 L468.54,86.58 L468.6,86.88 L468.65,87.17 L468.7,87.47 L468.75,87.76 L468.79,88.06Z" fill="#14AD7C" class="vl"/>
<circle cx="469.12" cy="88.65" r="1.22" class="pp"/>
<circle cx="469.12" cy="78.02" r="1.22" class="pp"/>
<circle cx="469.12" cy="85.91" r="1.22" class="pp"/>
<circle cx="469.62" cy="83.48" r="1.22" class="pp"/>
<circle cx="468.62" cy="81.93" r="1.22" class="pp"/>
<circle cx="469.37" cy="80.69" r="1.22" class="pp"/>
<circle cx="468.87" cy="79.58" r="1.22" class="pp"/>
<circle cx="469.12" cy="78.54" r="1.22" class="pp"/>
<line x1="476.92" y1="63.89" x2="476.92" y2="56.22" class="tl2"/>
<path d="M477.67,83.82 L477.92,83.05 L478.21,82.29 L478.54,81.52 L478.87,80.75 L479.2,79.99 L479.49,79.22 L479.72,78.45 L479.87,77.69 L479.92,76.92 L479.9,76.15 L479.83,75.39 L479.72,74.62 L479.57,73.85 L479.4,73.09 L479.2,72.32 L478.98,71.55 L478.76,70.79 L478.54,70.02 L478.32,69.25 L478.11,68.49 L477.92,67.72 L477.75,66.95 L477.59,66.19 L477.46,65.42 L477.34,64.65 L477.25,63.89 L476.59,63.89 L476.49,64.65 L476.38,65.42 L476.24,66.19 L476.09,66.95 L475.92,67.72 L475.73,68.49 L475.52,69.25 L475.3,70.02 L475.08,70.79 L474.85,71.55 L474.64,72.32 L474.44,73.09 L474.26,73.85 L474.12,74.62 L474.01,75.39 L473.94,76.15 L473.92,76.92 L473.97,77.69 L474.12,78.45 L474.35,79.22 L474.64,79.99 L474.96,80.75 L475.3,81.52 L475.62,82.29 L475.92,83.05 L476.17,83.82Z" fill="#F06A12" class="vl"/>
<circle cx="476.92" cy="83.82" r="1.22" class="pp"/>
<circle cx="476.92" cy="56.22" r="1.22" class="pp"/>
<circle cx="476.92" cy="81.25" r="1.22" class="pp"/>
<circle cx="477.42" cy="78.53" r="1.22" class="pp"/>
<circle cx="476.42" cy="76.4" r="1.22" class="pp"/>
<circle cx="477.17" cy="74.23" r="1.22" class="pp"/>
<circle cx="476.67" cy="71.66" r="1.22" class="pp"/>
<circle cx="476.92" cy="67.51" r="1.22" class="pp"/>
<rect x="483.8" y="40" width="16.57" height="8.4" fill="#fff" class="sb"/>
<text x="492.08" y="46.3" class="st">SBI2</text>
<line x1="483.5" y1="116.3" x2="500.67" y2="116.3" class="ax"/>
<line x1="488.18" y1="116.3" x2="488.18" y2="117.7" class="tk"/>
<text class="xl" transform="translate(488.33,122.5) scale(1,1.12)">P</text>
<line x1="495.98" y1="116.3" x2="495.98" y2="117.7" class="tk"/>
<text class="xl" transform="translate(495.98,122.5) scale(1,1.12)">BF</text>
<path d="M488.68,82.44 L488.73,82.33 L488.78,82.21 L488.83,82.09 L488.89,81.98 L488.94,81.86 L489,81.75 L489.07,81.63 L489.13,81.52 L489.19,81.41 L489.26,81.29 L489.33,81.17 L489.39,81.06 L489.46,80.94 L489.53,80.83 L489.6,80.72 L489.66,80.6 L489.72,80.48 L489.78,80.37 L489.84,80.25 L489.9,80.14 L489.95,80.02 L489.99,79.91 L490.04,79.8 L490.07,79.68 L490.11,79.56 L490.13,79.45 L490.15,79.33 L490.17,79.22 L490.18,79.11 L490.18,78.99 L490.17,78.88 L490.15,78.76 L490.12,78.64 L490.07,78.53 L490.02,78.41 L489.95,78.3 L486.42,78.3 L486.35,78.41 L486.29,78.53 L486.24,78.64 L486.21,78.76 L486.19,78.88 L486.18,78.99 L486.18,79.11 L486.19,79.22 L486.21,79.33 L486.23,79.45 L486.26,79.56 L486.29,79.68 L486.33,79.8 L486.37,79.91 L486.42,80.02 L486.47,80.14 L486.52,80.25 L486.58,80.37 L486.64,80.48 L486.7,80.6 L486.77,80.72 L486.83,80.83 L486.9,80.94 L486.97,81.06 L487.04,81.17 L487.1,81.29 L487.17,81.41 L487.23,81.52 L487.3,81.63 L487.36,81.75 L487.42,81.86 L487.48,81.98 L487.53,82.09 L487.59,82.21 L487.64,82.33 L487.68,82.44Z" fill="#14AD7C" class="vl"/>
<circle cx="488.18" cy="82.44" r="1.22" class="pp"/>
<circle cx="488.18" cy="78.3" r="1.22" class="pp"/>
<circle cx="488.18" cy="81.69" r="1.22" class="pp"/>
<circle cx="488.68" cy="80.79" r="1.22" class="pp"/>
<circle cx="487.68" cy="80.14" r="1.22" class="pp"/>
<circle cx="488.43" cy="79.59" r="1.22" class="pp"/>
<circle cx="487.93" cy="79.08" r="1.22" class="pp"/>
<circle cx="488.18" cy="78.57" r="1.22" class="pp"/>
<line x1="495.98" y1="64.35" x2="495.98" y2="58.98" class="tl2"/>
<path d="M497.8,78.3 L497.98,77.76 L498.15,77.23 L498.32,76.69 L498.47,76.15 L498.61,75.62 L498.74,75.08 L498.84,74.54 L498.91,74.01 L498.96,73.47 L498.98,72.93 L498.97,72.4 L498.91,71.86 L498.8,71.32 L498.66,70.79 L498.47,70.25 L498.27,69.71 L498.04,69.18 L497.8,68.64 L497.57,68.1 L497.34,67.57 L497.13,67.03 L496.93,66.49 L496.76,65.96 L496.6,65.42 L496.47,64.88 L496.36,64.35 L495.61,64.35 L495.5,64.88 L495.37,65.42 L495.21,65.96 L495.04,66.49 L494.84,67.03 L494.63,67.57 L494.4,68.1 L494.17,68.64 L493.93,69.18 L493.7,69.71 L493.5,70.25 L493.31,70.79 L493.16,71.32 L493.06,71.86 L493,72.4 L492.99,72.93 L493.01,73.47 L493.06,74.01 L493.13,74.54 L493.23,75.08 L493.36,75.62 L493.5,76.15 L493.65,76.69 L493.82,77.23 L493.99,77.76 L494.17,78.3Z" fill="#F06A12" class="vl"/>
<circle cx="495.98" cy="78.3" r="1.22" class="pp"/>
<circle cx="495.98" cy="58.98" r="1.22" class="pp"/>
<circle cx="495.98" cy="77.07" r="1.22" class="pp"/>
<circle cx="496.48" cy="75.09" r="1.22" class="pp"/>
<circle cx="495.48" cy="73.36" r="1.22" class="pp"/>
<circle cx="496.23" cy="71.69" r="1.22" class="pp"/>
<circle cx="495.73" cy="69.81" r="1.22" class="pp"/>
<circle cx="495.98" cy="66.89" r="1.22" class="pp"/>
<rect x="502.87" y="40" width="16.57" height="8.4" fill="#fff" class="sb"/>
<text x="511.15" y="46.3" class="st">DP5</text>
<line x1="502.57" y1="116.3" x2="519.73" y2="116.3" class="ax"/>
<line x1="507.25" y1="116.3" x2="507.25" y2="117.7" class="tk"/>
<text class="xl" transform="translate(507.4,122.5) scale(1,1.12)">P</text>
<line x1="515.05" y1="116.3" x2="515.05" y2="117.7" class="tk"/>
<text class="xl" transform="translate(515.05,122.5) scale(1,1.12)">BF</text>
<line x1="507.25" y1="86.58" x2="507.25" y2="85.66" class="tl2"/>
<path d="M507.56,85.66 L507.6,85.43 L507.64,85.2 L507.69,84.97 L507.75,84.74 L507.8,84.51 L507.87,84.28 L507.93,84.05 L508,83.82 L508.07,83.59 L508.15,83.36 L508.22,83.13 L508.3,82.9 L508.38,82.67 L508.46,82.44 L508.54,82.21 L508.62,81.98 L508.7,81.75 L508.78,81.52 L508.85,81.29 L508.92,81.06 L508.98,80.83 L509.04,80.6 L509.09,80.37 L509.14,80.14 L509.18,79.91 L509.21,79.68 L509.23,79.45 L509.24,79.22 L509.25,78.99 L509.24,78.76 L509.22,78.53 L509.19,78.3 L505.31,78.3 L505.28,78.53 L505.26,78.76 L505.25,78.99 L505.25,79.22 L505.27,79.45 L505.29,79.68 L505.32,79.91 L505.36,80.14 L505.4,80.37 L505.45,80.6 L505.51,80.83 L505.58,81.06 L505.65,81.29 L505.72,81.52 L505.8,81.75 L505.87,81.98 L505.95,82.21 L506.04,82.44 L506.12,82.67 L506.2,82.9 L506.27,83.13 L506.35,83.36 L506.43,83.59 L506.5,83.82 L506.57,84.05 L506.63,84.28 L506.69,84.51 L506.75,84.74 L506.8,84.97 L506.85,85.2 L506.9,85.43 L506.94,85.66Z" fill="#14AD7C" class="vl"/>
<circle cx="507.25" cy="86.58" r="1.22" class="pp"/>
<circle cx="507.25" cy="78.3" r="1.22" class="pp"/>
<circle cx="507.25" cy="84.35" r="1.22" class="pp"/>
<circle cx="507.75" cy="82.5" r="1.22" class="pp"/>
<circle cx="506.75" cy="81.33" r="1.22" class="pp"/>
<circle cx="507.5" cy="80.39" r="1.22" class="pp"/>
<circle cx="507" cy="79.53" r="1.22" class="pp"/>
<circle cx="507.25" cy="78.71" r="1.22" class="pp"/>
<line x1="515.05" y1="62.77" x2="515.05" y2="57.6" class="tl2"/>
<path d="M517.32,78.3 L517.49,77.72 L517.64,77.15 L517.78,76.58 L517.89,76 L517.97,75.42 L518.03,74.85 L518.05,74.27 L518.04,73.7 L518,73.12 L517.93,72.55 L517.83,71.97 L517.7,71.4 L517.55,70.83 L517.39,70.25 L517.21,69.67 L517.02,69.1 L516.83,68.52 L516.64,67.95 L516.46,67.38 L516.28,66.8 L516.12,66.22 L515.97,65.65 L515.83,65.07 L515.7,64.5 L515.59,63.92 L515.49,63.35 L515.41,62.77 L514.69,62.77 L514.61,63.35 L514.51,63.92 L514.4,64.5 L514.28,65.07 L514.14,65.65 L513.98,66.22 L513.82,66.8 L513.64,67.38 L513.46,67.95 L513.27,68.52 L513.08,69.1 L512.89,69.67 L512.72,70.25 L512.55,70.83 L512.4,71.4 L512.28,71.97 L512.18,72.55 L512.1,73.12 L512.06,73.7 L512.05,74.27 L512.07,74.85 L512.13,75.42 L512.21,76 L512.33,76.58 L512.46,77.15 L512.62,77.72 L512.79,78.3Z" fill="#F06A12" class="vl"/>
<circle cx="515.05" cy="78.3" r="1.22" class="pp"/>
<circle cx="515.05" cy="57.6" r="1.22" class="pp"/>
<circle cx="515.05" cy="77.2" r="1.22" class="pp"/>
<circle cx="515.55" cy="75.27" r="1.22" class="pp"/>
<circle cx="514.55" cy="73.47" r="1.22" class="pp"/>
<circle cx="515.3" cy="71.6" r="1.22" class="pp"/>
<circle cx="514.8" cy="69.36" r="1.22" class="pp"/>
<circle cx="515.05" cy="65.75" r="1.22" class="pp"/>
<rect x="521.93" y="40" width="16.57" height="8.4" fill="#0AD6F0" class="sb"/>
<text x="530.22" y="46.3" class="st">SBI5</text>
<line x1="521.63" y1="116.3" x2="538.8" y2="116.3" class="ax"/>
<line x1="526.32" y1="116.3" x2="526.32" y2="117.7" class="tk"/>
<text class="xl" transform="translate(526.47,122.5) scale(1,1.12)">P</text>
<line x1="534.12" y1="116.3" x2="534.12" y2="117.7" class="tk"/>
<text class="xl" transform="translate(534.12,122.5) scale(1,1.12)">BF</text>
<line x1="526.32" y1="71.4" x2="526.32" y2="65.88" class="tl2"/>
<path d="M528.52,78.3 L528.65,77.95 L528.74,77.61 L528.8,77.27 L528.82,76.92 L528.8,76.58 L528.74,76.23 L528.65,75.88 L528.52,75.54 L528.37,75.19 L528.2,74.85 L528.02,74.5 L527.83,74.16 L527.64,73.81 L527.46,73.47 L527.29,73.12 L527.13,72.78 L526.98,72.44 L526.86,72.09 L526.75,71.74 L526.65,71.4 L525.98,71.4 L525.88,71.74 L525.77,72.09 L525.65,72.44 L525.5,72.78 L525.34,73.12 L525.17,73.47 L524.99,73.81 L524.8,74.16 L524.61,74.5 L524.43,74.85 L524.26,75.19 L524.11,75.54 L523.98,75.88 L523.89,76.23 L523.83,76.58 L523.82,76.92 L523.83,77.27 L523.89,77.61 L523.98,77.95 L524.11,78.3Z" fill="#14AD7C" class="vl"/>
<circle cx="526.32" cy="78.3" r="1.22" class="pp"/>
<circle cx="526.32" cy="65.88" r="1.22" class="pp"/>
<circle cx="526.32" cy="77.86" r="1.22" class="pp"/>
<circle cx="526.82" cy="77.04" r="1.22" class="pp"/>
<circle cx="525.82" cy="76.23" r="1.22" class="pp"/>
<circle cx="526.57" cy="75.36" r="1.22" class="pp"/>
<circle cx="526.07" cy="74.28" r="1.22" class="pp"/>
<circle cx="526.32" cy="72.49" r="1.22" class="pp"/>
<path d="M536.27,78.99 L536.41,78.24 L536.53,77.49 L536.62,76.75 L536.7,76 L536.77,75.25 L536.81,74.5 L536.85,73.76 L536.88,73.01 L536.89,72.26 L536.91,71.52 L536.91,70.77 L536.92,70.02 L536.92,69.27 L536.92,68.52 L536.92,67.78 L536.92,67.03 L536.92,66.28 L536.92,65.53 L536.92,64.79 L536.92,64.04 L536.91,63.29 L536.91,62.54 L536.89,61.8 L536.88,61.05 L536.86,60.3 L536.83,59.55 L536.79,58.81 L536.74,58.06 L536.67,57.31 L536.59,56.56 L536.5,55.82 L536.39,55.07 L536.27,54.32 L536.13,53.58 L535.98,52.83 L535.82,52.08 L532.42,52.08 L532.26,52.83 L532.11,53.58 L531.97,54.32 L531.84,55.07 L531.74,55.82 L531.64,56.56 L531.56,57.31 L531.5,58.06 L531.45,58.81 L531.41,59.55 L531.38,60.3 L531.36,61.05 L531.34,61.8 L531.33,62.54 L531.32,63.29 L531.32,64.04 L531.32,64.79 L531.32,65.53 L531.32,66.28 L531.32,67.03 L531.32,67.78 L531.32,68.52 L531.32,69.27 L531.32,70.02 L531.32,70.77 L531.33,71.52 L531.34,72.26 L531.36,73.01 L531.39,73.76 L531.42,74.5 L531.47,75.25 L531.53,76 L531.61,76.75 L531.71,77.49 L531.83,78.24 L531.96,78.99Z" fill="#F06A12" class="vl"/>
<circle cx="534.12" cy="78.99" r="1.22" class="pp"/>
<circle cx="534.12" cy="52.08" r="1.22" class="pp"/>
<circle cx="534.12" cy="76.52" r="1.22" class="pp"/>
<circle cx="534.62" cy="72.18" r="1.22" class="pp"/>
<circle cx="533.62" cy="68" r="1.22" class="pp"/>
<circle cx="534.37" cy="63.83" r="1.22" class="pp"/>
<circle cx="533.87" cy="59.61" r="1.22" class="pp"/>
<circle cx="534.12" cy="55" r="1.22" class="pp"/>
<text x="9.5" y="130.8" class="pt">Propionate</text>
<text class="yl" font-size="5.8" transform="translate(9.7,176.8) rotate(-90)" x="0" y="0">Propionate change vs NSC (%)</text>
<line x1="23.3" y1="142.8" x2="23.3" y2="210.2" class="ax"/>
<line x1="21.9" y1="202" x2="23.3" y2="202" class="tk"/>
<text x="21.3" y="204.2" class="tl">0</text>
<line x1="21.9" y1="181.3" x2="23.3" y2="181.3" class="tk"/>
<text x="21.3" y="183.5" class="tl">50</text>
<line x1="21.9" y1="160.6" x2="23.3" y2="160.6" class="tk"/>
<text x="21.3" y="162.8" class="tl">100</text>
<rect x="23.6" y="134.1" width="16.12" height="8.4" fill="#fff" class="sb"/>
<text x="31.66" y="140.4" class="st">NSC</text>
<line x1="23.3" y1="210.2" x2="40.02" y2="210.2" class="ax"/>
<line x1="27.86" y1="210.2" x2="27.86" y2="211.6" class="tk"/>
<text class="xl" transform="translate(28.01,216.4) scale(1,1.12)">P</text>
<line x1="35.46" y1="210.2" x2="35.46" y2="211.6" class="tk"/>
<text class="xl" transform="translate(35.46,216.4) scale(1,1.12)">BF</text>
<line x1="25.46" y1="202" x2="30.26" y2="202" stroke="#333" stroke-width="0.7"/>
<circle cx="28.06" cy="202.2" r="1.3" class="pt0"/>
<line x1="33.06" y1="202" x2="37.86" y2="202" stroke="#333" stroke-width="0.7"/>
<circle cx="35.66" cy="202.2" r="1.3" class="pt0"/>
<rect x="42.22" y="134.1" width="16.12" height="8.4" fill="#0AD6F0" class="sb"/>
<text x="50.27" y="140.4" class="st">IN</text>
<line x1="41.92" y1="210.2" x2="58.63" y2="210.2" class="ax"/>
<line x1="46.48" y1="210.2" x2="46.48" y2="211.6" class="tk"/>
<text class="xl" transform="translate(46.63,216.4) scale(1,1.12)">P</text>
<line x1="54.07" y1="210.2" x2="54.07" y2="211.6" class="tk"/>
<text class="xl" transform="translate(54.07,216.4) scale(1,1.12)">BF</text>
<path d="M46.93,183.37 L47.05,182.51 L47.2,181.65 L47.36,180.78 L47.54,179.92 L47.73,179.06 L47.92,178.19 L48.13,177.33 L48.32,176.47 L48.52,175.61 L48.7,174.75 L48.87,173.88 L49.02,173.02 L49.15,172.16 L49.27,171.29 L49.36,170.43 L49.43,169.57 L49.49,168.71 L49.53,167.84 L49.55,166.98 L49.57,166.12 L49.57,165.26 L49.58,164.39 L49.58,163.53 L49.57,162.67 L49.56,161.81 L49.52,160.94 L49.46,160.08 L49.37,159.22 L49.24,158.36 L49.08,157.5 L48.88,156.63 L48.64,155.77 L48.39,154.91 L48.12,154.05 L47.84,153.18 L47.58,152.32 L45.37,152.32 L45.11,153.18 L44.83,154.05 L44.56,154.91 L44.31,155.77 L44.07,156.63 L43.87,157.5 L43.71,158.36 L43.58,159.22 L43.49,160.08 L43.43,160.94 L43.39,161.81 L43.38,162.67 L43.38,163.53 L43.38,164.39 L43.38,165.26 L43.38,166.12 L43.4,166.98 L43.42,167.84 L43.46,168.71 L43.52,169.57 L43.59,170.43 L43.68,171.29 L43.8,172.16 L43.93,173.02 L44.08,173.88 L44.25,174.75 L44.43,175.61 L44.63,176.47 L44.83,177.33 L45.03,178.19 L45.22,179.06 L45.41,179.92 L45.59,180.78 L45.75,181.65 L45.9,182.51 L46.02,183.37Z" fill="#14AD7C" class="vl"/>
<circle cx="46.48" cy="183.37" r="1.1" class="pp"/>
<circle cx="46.48" cy="152.32" r="1.1" class="pp"/>
<circle cx="46.48" cy="179.77" r="1.1" class="pp"/>
<circle cx="46.98" cy="176.15" r="1.1" class="pp"/>
<circle cx="45.98" cy="173.66" r="1.1" class="pp"/>
<circle cx="46.73" cy="171.56" r="1.1" class="pp"/>
<circle cx="46.23" cy="169.65" r="1.1" class="pp"/>
<circle cx="46.48" cy="167.83" r="1.1" class="pp"/>
<circle cx="46.98" cy="166.06" r="1.1" class="pp"/>
<circle cx="45.98" cy="164.29" r="1.1" class="pp"/>
<circle cx="46.73" cy="162.53" r="1.1" class="pp"/>
<circle cx="46.23" cy="160.75" r="1.1" class="pp"/>
<circle cx="46.48" cy="158.9" r="1.1" class="pp"/>
<circle cx="46.98" cy="156.86" r="1.1" class="pp"/>
<circle cx="45.98" cy="154.26" r="1.1" class="pp"/>
<line x1="54.07" y1="162.81" x2="54.07" y2="157.7" class="tl2"/>
<path d="M55.51,188.34 L55.9,187.49 L56.28,186.64 L56.6,185.78 L56.84,184.93 L56.99,184.08 L57.06,183.23 L57.07,182.38 L57.07,181.53 L57.06,180.68 L57.03,179.83 L56.98,178.98 L56.92,178.13 L56.83,177.28 L56.73,176.42 L56.61,175.57 L56.47,174.72 L56.32,173.87 L56.15,173.02 L55.98,172.17 L55.8,171.32 L55.61,170.47 L55.44,169.62 L55.26,168.77 L55.1,167.91 L54.94,167.06 L54.8,166.21 L54.67,165.36 L54.56,164.51 L54.47,163.66 L54.38,162.81 L53.77,162.81 L53.68,163.66 L53.59,164.51 L53.47,165.36 L53.35,166.21 L53.21,167.06 L53.05,167.91 L52.89,168.77 L52.71,169.62 L52.53,170.47 L52.35,171.32 L52.17,172.17 L52,173.02 L51.83,173.87 L51.68,174.72 L51.54,175.57 L51.42,176.42 L51.32,177.28 L51.23,178.13 L51.17,178.98 L51.12,179.83 L51.09,180.68 L51.08,181.53 L51.07,182.38 L51.09,183.23 L51.15,184.08 L51.31,184.93 L51.55,185.78 L51.87,186.64 L52.24,187.49 L52.64,188.34Z" fill="#F06A12" class="vl"/>
<circle cx="54.07" cy="188.34" r="1.1" class="pp"/>
<circle cx="54.07" cy="157.7" r="1.1" class="pp"/>
<circle cx="54.07" cy="187.17" r="1.1" class="pp"/>
<circle cx="54.57" cy="185.44" r="1.1" class="pp"/>
<circle cx="53.57" cy="184.01" r="1.1" class="pp"/>
<circle cx="54.32" cy="182.66" r="1.1" class="pp"/>
<circle cx="53.82" cy="181.32" r="1.1" class="pp"/>
<circle cx="54.07" cy="179.97" r="1.1" class="pp"/>
<circle cx="54.57" cy="178.59" r="1.1" class="pp"/>
<circle cx="53.57" cy="177.17" r="1.1" class="pp"/>
<circle cx="54.32" cy="175.65" r="1.1" class="pp"/>
<circle cx="53.82" cy="173.98" r="1.1" class="pp"/>
<circle cx="54.07" cy="172.05" r="1.1" class="pp"/>
<circle cx="54.57" cy="169.57" r="1.1" class="pp"/>
<circle cx="53.57" cy="165.39" r="1.1" class="pp"/>
<rect x="60.83" y="134.1" width="16.12" height="8.4" fill="#fff" class="sb"/>
<text x="68.89" y="140.4" class="st">DP2</text>
<line x1="60.53" y1="210.2" x2="77.25" y2="210.2" class="ax"/>
<line x1="65.09" y1="210.2" x2="65.09" y2="211.6" class="tk"/>
<text class="xl" transform="translate(65.24,216.4) scale(1,1.12)">P</text>
<line x1="72.69" y1="210.2" x2="72.69" y2="211.6" class="tk"/>
<text class="xl" transform="translate(72.69,216.4) scale(1,1.12)">BF</text>
<path d="M66.12,197.86 L66.23,197.72 L66.34,197.58 L66.46,197.45 L66.57,197.31 L66.68,197.17 L66.79,197.03 L66.89,196.89 L66.99,196.76 L67.08,196.62 L67.16,196.48 L67.22,196.34 L67.27,196.2 L67.31,196.07 L67.33,195.93 L67.34,195.79 L67.33,195.65 L67.31,195.51 L67.27,195.38 L67.22,195.24 L67.16,195.1 L67.08,194.96 L66.99,194.82 L66.89,194.69 L66.79,194.55 L66.68,194.41 L66.57,194.27 L66.46,194.13 L66.34,194 L66.23,193.86 L66.12,193.72 L66.02,193.58 L65.92,193.44 L65.82,193.31 L65.73,193.17 L65.65,193.03 L65.58,192.89 L64.61,192.89 L64.53,193.03 L64.45,193.17 L64.36,193.31 L64.27,193.44 L64.17,193.58 L64.06,193.72 L63.95,193.86 L63.84,194 L63.73,194.13 L63.61,194.27 L63.5,194.41 L63.39,194.55 L63.29,194.69 L63.19,194.82 L63.11,194.96 L63.03,195.1 L62.96,195.24 L62.91,195.38 L62.87,195.51 L62.85,195.65 L62.84,195.79 L62.85,195.93 L62.87,196.07 L62.91,196.2 L62.96,196.34 L63.03,196.48 L63.11,196.62 L63.19,196.76 L63.29,196.89 L63.39,197.03 L63.5,197.17 L63.61,197.31 L63.73,197.45 L63.84,197.58 L63.95,197.72 L64.06,197.86Z" fill="#14AD7C" class="vl"/>
<circle cx="65.09" cy="197.86" r="1.1" class="pp"/>
<circle cx="65.09" cy="192.89" r="1.1" class="pp"/>
<circle cx="65.09" cy="197.59" r="1.1" class="pp"/>
<circle cx="65.59" cy="197.16" r="1.1" class="pp"/>
<circle cx="64.59" cy="196.81" r="1.1" class="pp"/>
<circle cx="65.34" cy="196.49" r="1.1" class="pp"/>
<circle cx="64.84" cy="196.2" r="1.1" class="pp"/>
<circle cx="65.09" cy="195.93" r="1.1" class="pp"/>
<circle cx="65.59" cy="195.65" r="1.1" class="pp"/>
<circle cx="64.59" cy="195.38" r="1.1" class="pp"/>
<circle cx="65.34" cy="195.09" r="1.1" class="pp"/>
<circle cx="64.84" cy="194.77" r="1.1" class="pp"/>
<circle cx="65.09" cy="194.42" r="1.1" class="pp"/>
<circle cx="65.59" cy="193.99" r="1.1" class="pp"/>
<circle cx="64.59" cy="193.38" r="1.1" class="pp"/>
<path d="M73.39,197.86 L73.5,197.66 L73.61,197.47 L73.74,197.27 L73.88,197.08 L74.01,196.88 L74.16,196.69 L74.3,196.49 L74.44,196.3 L74.58,196.1 L74.71,195.91 L74.83,195.71 L74.93,195.51 L75.02,195.32 L75.1,195.12 L75.15,194.93 L75.18,194.73 L75.19,194.54 L75.18,194.34 L75.14,194.15 L75.09,193.95 L75.01,193.75 L74.92,193.56 L74.81,193.36 L74.69,193.17 L74.56,192.97 L74.42,192.78 L74.28,192.58 L74.14,192.39 L74,192.19 L73.86,192 L73.73,191.8 L73.6,191.6 L73.48,191.41 L73.37,191.21 L73.27,191.02 L73.19,190.82 L72.2,190.82 L72.11,191.02 L72.01,191.21 L71.9,191.41 L71.78,191.6 L71.66,191.8 L71.52,192 L71.38,192.19 L71.24,192.39 L71.1,192.58 L70.96,192.78 L70.82,192.97 L70.69,193.17 L70.57,193.36 L70.46,193.56 L70.37,193.75 L70.29,193.95 L70.24,194.15 L70.2,194.34 L70.19,194.54 L70.2,194.73 L70.23,194.93 L70.29,195.12 L70.36,195.32 L70.45,195.51 L70.56,195.71 L70.67,195.91 L70.8,196.1 L70.94,196.3 L71.08,196.49 L71.23,196.69 L71.37,196.88 L71.51,197.08 L71.64,197.27 L71.77,197.47 L71.89,197.66 L72,197.86Z" fill="#F06A12" class="vl"/>
<circle cx="72.69" cy="197.86" r="1.1" class="pp"/>
<circle cx="72.69" cy="190.82" r="1.1" class="pp"/>
<circle cx="72.69" cy="197.33" r="1.1" class="pp"/>
<circle cx="73.19" cy="196.61" r="1.1" class="pp"/>
<circle cx="72.19" cy="196.08" r="1.1" class="pp"/>
<circle cx="72.94" cy="195.64" r="1.1" class="pp"/>
<circle cx="72.44" cy="195.24" r="1.1" class="pp"/>
<circle cx="72.69" cy="194.86" r="1.1" class="pp"/>
<circle cx="73.19" cy="194.5" r="1.1" class="pp"/>
<circle cx="72.19" cy="194.13" r="1.1" class="pp"/>
<circle cx="72.94" cy="193.75" r="1.1" class="pp"/>
<circle cx="72.44" cy="193.34" r="1.1" class="pp"/>
<circle cx="72.69" cy="192.88" r="1.1" class="pp"/>
<circle cx="73.19" cy="192.31" r="1.1" class="pp"/>
<circle cx="72.19" cy="191.5" r="1.1" class="pp"/>
<rect x="79.45" y="134.1" width="16.12" height="8.4" fill="#fff" class="sb"/>
<text x="87.51" y="140.4" class="st">SBI2</text>
<line x1="79.15" y1="210.2" x2="95.87" y2="210.2" class="ax"/>
<line x1="83.71" y1="210.2" x2="83.71" y2="211.6" class="tk"/>
<text class="xl" transform="translate(83.86,216.4) scale(1,1.12)">P</text>
<line x1="91.31" y1="210.2" x2="91.31" y2="211.6" class="tk"/>
<text class="xl" transform="translate(91.31,216.4) scale(1,1.12)">BF</text>
<path d="M84.4,191.65 L84.48,191.51 L84.56,191.37 L84.65,191.24 L84.74,191.1 L84.83,190.96 L84.93,190.82 L85.02,190.68 L85.12,190.55 L85.23,190.41 L85.33,190.27 L85.43,190.13 L85.52,189.99 L85.62,189.86 L85.71,189.72 L85.8,189.58 L85.88,189.44 L85.95,189.3 L86.02,189.17 L86.07,189.03 L86.12,188.89 L86.16,188.75 L86.19,188.61 L86.2,188.48 L86.21,188.34 L86.2,188.2 L86.17,188.06 L86.13,187.92 L86.07,187.79 L86,187.65 L85.92,187.51 L85.82,187.37 L85.71,187.23 L85.6,187.1 L85.48,186.96 L85.35,186.82 L85.23,186.68 L82.19,186.68 L82.07,186.82 L81.94,186.96 L81.82,187.1 L81.71,187.23 L81.6,187.37 L81.5,187.51 L81.42,187.65 L81.34,187.79 L81.29,187.92 L81.24,188.06 L81.22,188.2 L81.21,188.34 L81.21,188.48 L81.23,188.61 L81.26,188.75 L81.3,188.89 L81.34,189.03 L81.4,189.17 L81.47,189.3 L81.54,189.44 L81.62,189.58 L81.71,189.72 L81.8,189.86 L81.89,189.99 L81.99,190.13 L82.09,190.27 L82.19,190.41 L82.29,190.55 L82.39,190.68 L82.49,190.82 L82.59,190.96 L82.68,191.1 L82.77,191.24 L82.86,191.37 L82.94,191.51 L83.01,191.65Z" fill="#14AD7C" class="vl"/>
<circle cx="83.71" cy="191.65" r="1.1" class="pp"/>
<circle cx="83.71" cy="186.68" r="1.1" class="pp"/>
<circle cx="83.71" cy="191.22" r="1.1" class="pp"/>
<circle cx="84.21" cy="190.6" r="1.1" class="pp"/>
<circle cx="83.21" cy="190.14" r="1.1" class="pp"/>
<circle cx="83.96" cy="189.75" r="1.1" class="pp"/>
<circle cx="83.46" cy="189.41" r="1.1" class="pp"/>
<circle cx="83.71" cy="189.09" r="1.1" class="pp"/>
<circle cx="84.21" cy="188.79" r="1.1" class="pp"/>
<circle cx="83.21" cy="188.5" r="1.1" class="pp"/>
<circle cx="83.96" cy="188.21" r="1.1" class="pp"/>
<circle cx="83.46" cy="187.92" r="1.1" class="pp"/>
<circle cx="83.71" cy="187.62" r="1.1" class="pp"/>
<circle cx="84.21" cy="187.28" r="1.1" class="pp"/>
<circle cx="83.21" cy="186.9" r="1.1" class="pp"/>
<line x1="91.31" y1="180.59" x2="91.31" y2="180.06" class="tl2"/>
<path d="M91.93,189.58 L92.05,189.32 L92.18,189.05 L92.32,188.79 L92.47,188.52 L92.62,188.26 L92.78,187.99 L92.94,187.73 L93.1,187.46 L93.25,187.2 L93.39,186.94 L93.52,186.67 L93.63,186.41 L93.71,186.14 L93.77,185.88 L93.8,185.61 L93.81,185.35 L93.78,185.08 L93.73,184.82 L93.65,184.55 L93.55,184.29 L93.43,184.03 L93.3,183.76 L93.15,183.5 L92.99,183.23 L92.83,182.97 L92.67,182.7 L92.51,182.44 L92.36,182.17 L92.22,181.91 L92.09,181.65 L91.97,181.38 L91.86,181.12 L91.76,180.85 L91.68,180.59 L90.94,180.59 L90.85,180.85 L90.76,181.12 L90.65,181.38 L90.53,181.65 L90.4,181.91 L90.25,182.17 L90.1,182.44 L89.95,182.7 L89.78,182.97 L89.62,183.23 L89.47,183.5 L89.32,183.76 L89.18,184.03 L89.06,184.29 L88.96,184.55 L88.88,184.82 L88.83,185.08 L88.81,185.35 L88.81,185.61 L88.85,185.88 L88.91,186.14 L88.99,186.41 L89.1,186.67 L89.22,186.94 L89.36,187.2 L89.51,187.46 L89.67,187.73 L89.83,187.99 L89.99,188.26 L90.15,188.52 L90.3,188.79 L90.44,189.05 L90.57,189.32 L90.68,189.58Z" fill="#F06A12" class="vl"/>
<circle cx="91.31" cy="189.58" r="1.1" class="pp"/>
<circle cx="91.31" cy="180.06" r="1.1" class="pp"/>
<circle cx="91.31" cy="188.87" r="1.1" class="pp"/>
<circle cx="91.81" cy="187.96" r="1.1" class="pp"/>
<circle cx="90.81" cy="187.29" r="1.1" class="pp"/>
<circle cx="91.56" cy="186.74" r="1.1" class="pp"/>
<circle cx="91.06" cy="186.25" r="1.1" class="pp"/>
<circle cx="91.31" cy="185.79" r="1.1" class="pp"/>
<circle cx="91.81" cy="185.34" r="1.1" class="pp"/>
<circle cx="90.81" cy="184.88" r="1.1" class="pp"/>
<circle cx="91.56" cy="184.41" r="1.1" class="pp"/>
<circle cx="91.06" cy="183.89" r="1.1" class="pp"/>
<circle cx="91.31" cy="183.3" r="1.1" class="pp"/>
<circle cx="91.81" cy="182.55" r="1.1" class="pp"/>
<circle cx="90.81" cy="181.37" r="1.1" class="pp"/>
<rect x="98.07" y="134.1" width="16.12" height="8.4" fill="#0AD6F0" class="sb"/>
<text x="106.12" y="140.4" class="st">DP5</text>
<line x1="97.77" y1="210.2" x2="114.48" y2="210.2" class="ax"/>
<line x1="102.33" y1="210.2" x2="102.33" y2="211.6" class="tk"/>
<text class="xl" transform="translate(102.48,216.4) scale(1,1.12)">P</text>
<line x1="109.92" y1="210.2" x2="109.92" y2="211.6" class="tk"/>
<text class="xl" transform="translate(109.92,216.4) scale(1,1.12)">BF</text>
<line x1="102.33" y1="180.4" x2="102.33" y2="177.99" class="tl2"/>
<path d="M102.66,190.41 L102.77,190.06 L102.89,189.72 L103.04,189.37 L103.21,189.03 L103.39,188.68 L103.59,188.34 L103.8,187.99 L104.01,187.65 L104.21,187.3 L104.4,186.96 L104.56,186.61 L104.69,186.27 L104.78,185.92 L104.82,185.58 L104.82,185.23 L104.76,184.89 L104.67,184.54 L104.53,184.2 L104.36,183.85 L104.17,183.51 L103.97,183.16 L103.76,182.82 L103.55,182.47 L103.35,182.13 L103.17,181.78 L103.01,181.44 L102.87,181.09 L102.75,180.75 L102.65,180.4 L102.01,180.4 L101.91,180.75 L101.79,181.09 L101.64,181.44 L101.48,181.78 L101.3,182.13 L101.1,182.47 L100.89,182.82 L100.68,183.16 L100.48,183.51 L100.29,183.85 L100.12,184.2 L99.98,184.54 L99.89,184.89 L99.83,185.23 L99.83,185.58 L99.87,185.92 L99.96,186.27 L100.09,186.61 L100.25,186.96 L100.44,187.3 L100.64,187.65 L100.85,187.99 L101.06,188.34 L101.26,188.68 L101.44,189.03 L101.61,189.37 L101.76,189.72 L101.88,190.06 L101.99,190.41Z" fill="#14AD7C" class="vl"/>
<circle cx="102.33" cy="190.41" r="1.1" class="pp"/>
<circle cx="102.33" cy="177.99" r="1.1" class="pp"/>
<circle cx="102.33" cy="189.3" r="1.1" class="pp"/>
<circle cx="102.83" cy="188.18" r="1.1" class="pp"/>
<circle cx="101.83" cy="187.44" r="1.1" class="pp"/>
<circle cx="102.58" cy="186.85" r="1.1" class="pp"/>
<circle cx="102.08" cy="186.33" r="1.1" class="pp"/>
<circle cx="102.33" cy="185.84" r="1.1" class="pp"/>
<circle cx="102.83" cy="185.37" r="1.1" class="pp"/>
<circle cx="101.83" cy="184.89" r="1.1" class="pp"/>
<circle cx="102.58" cy="184.4" r="1.1" class="pp"/>
<circle cx="102.08" cy="183.86" r="1.1" class="pp"/>
<circle cx="102.33" cy="183.23" r="1.1" class="pp"/>
<circle cx="102.83" cy="182.42" r="1.1" class="pp"/>
<circle cx="101.83" cy="181.01" r="1.1" class="pp"/>
<line x1="109.92" y1="176.42" x2="109.92" y2="173.85" class="tl2"/>
<path d="M110.55,185.44 L110.69,185.12 L110.85,184.8 L111.03,184.47 L111.22,184.15 L111.41,183.83 L111.61,183.51 L111.8,183.19 L111.97,182.86 L112.13,182.54 L112.26,182.22 L112.35,181.9 L112.41,181.58 L112.42,181.25 L112.4,180.93 L112.33,180.61 L112.23,180.29 L112.09,179.97 L111.93,179.64 L111.74,179.32 L111.55,179 L111.36,178.68 L111.16,178.36 L110.98,178.03 L110.81,177.71 L110.65,177.39 L110.51,177.07 L110.39,176.75 L110.29,176.42 L109.56,176.42 L109.46,176.75 L109.34,177.07 L109.2,177.39 L109.04,177.71 L108.87,178.03 L108.69,178.36 L108.49,178.68 L108.3,179 L108.1,179.32 L107.92,179.64 L107.76,179.97 L107.62,180.29 L107.52,180.61 L107.45,180.93 L107.42,181.25 L107.44,181.58 L107.5,181.9 L107.59,182.22 L107.72,182.54 L107.87,182.86 L108.05,183.19 L108.24,183.51 L108.44,183.83 L108.63,184.15 L108.82,184.47 L109,184.8 L109.16,185.12 L109.3,185.44Z" fill="#F06A12" class="vl"/>
<circle cx="109.92" cy="185.44" r="1.1" class="pp"/>
<circle cx="109.92" cy="173.85" r="1.1" class="pp"/>
<circle cx="109.92" cy="184.72" r="1.1" class="pp"/>
<circle cx="110.42" cy="183.8" r="1.1" class="pp"/>
<circle cx="109.42" cy="183.13" r="1.1" class="pp"/>
<circle cx="110.17" cy="182.57" r="1.1" class="pp"/>
<circle cx="109.67" cy="182.08" r="1.1" class="pp"/>
<circle cx="109.92" cy="181.61" r="1.1" class="pp"/>
<circle cx="110.42" cy="181.15" r="1.1" class="pp"/>
<circle cx="109.42" cy="180.69" r="1.1" class="pp"/>
<circle cx="110.17" cy="180.2" r="1.1" class="pp"/>
<circle cx="109.67" cy="179.67" r="1.1" class="pp"/>
<circle cx="109.92" cy="179.05" r="1.1" class="pp"/>
<circle cx="110.42" cy="178.24" r="1.1" class="pp"/>
<circle cx="109.42" cy="176.84" r="1.1" class="pp"/>
<rect x="116.68" y="134.1" width="16.12" height="8.4" fill="#0AD6F0" class="sb"/>
<text x="124.74" y="140.4" class="st">SBI5</text>
<line x1="116.38" y1="210.2" x2="133.1" y2="210.2" class="ax"/>
<line x1="120.94" y1="210.2" x2="120.94" y2="211.6" class="tk"/>
<text class="xl" transform="translate(121.09,216.4) scale(1,1.12)">P</text>
<line x1="128.54" y1="210.2" x2="128.54" y2="211.6" class="tk"/>
<text class="xl" transform="translate(128.54,216.4) scale(1,1.12)">BF</text>
<line x1="120.94" y1="160.07" x2="120.94" y2="159.36" class="tl2"/>
<path d="M121.43,172.19 L121.55,171.84 L121.69,171.48 L121.85,171.12 L122.03,170.77 L122.21,170.41 L122.41,170.05 L122.62,169.7 L122.82,169.34 L123.02,168.98 L123.2,168.63 L123.36,168.27 L123.5,167.91 L123.6,167.56 L123.67,167.2 L123.69,166.84 L123.68,166.49 L123.64,166.13 L123.56,165.78 L123.46,165.42 L123.33,165.06 L123.19,164.71 L123.03,164.35 L122.86,163.99 L122.68,163.64 L122.5,163.28 L122.32,162.92 L122.15,162.57 L121.99,162.21 L121.84,161.85 L121.7,161.5 L121.58,161.14 L121.47,160.78 L121.37,160.43 L121.29,160.07 L120.6,160.07 L120.51,160.43 L120.42,160.78 L120.31,161.14 L120.18,161.5 L120.04,161.85 L119.89,162.21 L119.73,162.57 L119.56,162.92 L119.38,163.28 L119.21,163.64 L119.03,163.99 L118.86,164.35 L118.7,164.71 L118.55,165.06 L118.42,165.42 L118.32,165.78 L118.25,166.13 L118.21,166.49 L118.19,166.84 L118.22,167.2 L118.28,167.56 L118.38,167.91 L118.52,168.27 L118.68,168.63 L118.87,168.98 L119.06,169.34 L119.27,169.7 L119.47,170.05 L119.67,170.41 L119.86,170.77 L120.03,171.12 L120.19,171.48 L120.33,171.84 L120.45,172.19Z" fill="#14AD7C" class="vl"/>
<circle cx="120.94" cy="172.19" r="1.1" class="pp"/>
<circle cx="120.94" cy="159.36" r="1.1" class="pp"/>
<circle cx="120.94" cy="171.07" r="1.1" class="pp"/>
<circle cx="121.44" cy="169.82" r="1.1" class="pp"/>
<circle cx="120.44" cy="168.97" r="1.1" class="pp"/>
<circle cx="121.19" cy="168.27" r="1.1" class="pp"/>
<circle cx="120.69" cy="167.64" r="1.1" class="pp"/>
<circle cx="120.94" cy="167.06" r="1.1" class="pp"/>
<circle cx="121.44" cy="166.48" r="1.1" class="pp"/>
<circle cx="120.44" cy="165.9" r="1.1" class="pp"/>
<circle cx="121.19" cy="165.28" r="1.1" class="pp"/>
<circle cx="120.69" cy="164.61" r="1.1" class="pp"/>
<circle cx="120.94" cy="163.83" r="1.1" class="pp"/>
<circle cx="121.44" cy="162.83" r="1.1" class="pp"/>
<circle cx="120.44" cy="161.23" r="1.1" class="pp"/>
<line x1="128.54" y1="147.81" x2="128.54" y2="146.11" class="tl2"/>
<path d="M129.43,161.43 L129.61,161 L129.81,160.58 L130.02,160.15 L130.23,159.73 L130.44,159.3 L130.65,158.88 L130.84,158.45 L131,158.02 L131.13,157.6 L131.23,157.17 L131.28,156.75 L131.29,156.32 L131.27,155.9 L131.21,155.47 L131.13,155.05 L131.03,154.62 L130.91,154.19 L130.77,153.77 L130.61,153.34 L130.45,152.92 L130.28,152.49 L130.11,152.07 L129.94,151.64 L129.77,151.22 L129.62,150.79 L129.47,150.37 L129.34,149.94 L129.21,149.51 L129.1,149.09 L129.01,148.66 L128.92,148.24 L128.85,147.81 L128.23,147.81 L128.16,148.24 L128.07,148.66 L127.98,149.09 L127.87,149.51 L127.75,149.94 L127.61,150.37 L127.46,150.79 L127.31,151.22 L127.14,151.64 L126.97,152.07 L126.8,152.49 L126.63,152.92 L126.47,153.34 L126.31,153.77 L126.17,154.19 L126.05,154.62 L125.95,155.05 L125.87,155.47 L125.82,155.9 L125.79,156.32 L125.8,156.75 L125.85,157.17 L125.95,157.6 L126.08,158.02 L126.24,158.45 L126.43,158.88 L126.64,159.3 L126.85,159.73 L127.06,160.15 L127.27,160.58 L127.47,161 L127.65,161.43Z" fill="#F06A12" class="vl"/>
<circle cx="128.54" cy="161.43" r="1.1" class="pp"/>
<circle cx="128.54" cy="146.11" r="1.1" class="pp"/>
<circle cx="128.54" cy="160.57" r="1.1" class="pp"/>
<circle cx="129.04" cy="159.39" r="1.1" class="pp"/>
<circle cx="128.04" cy="158.5" r="1.1" class="pp"/>
<circle cx="128.79" cy="157.74" r="1.1" class="pp"/>
<circle cx="128.29" cy="157.04" r="1.1" class="pp"/>
<circle cx="128.54" cy="156.36" r="1.1" class="pp"/>
<circle cx="129.04" cy="155.68" r="1.1" class="pp"/>
<circle cx="128.04" cy="154.98" r="1.1" class="pp"/>
<circle cx="128.79" cy="154.24" r="1.1" class="pp"/>
<circle cx="128.29" cy="153.42" r="1.1" class="pp"/>
<circle cx="128.54" cy="152.45" r="1.1" class="pp"/>
<circle cx="129.04" cy="151.2" r="1.1" class="pp"/>
<circle cx="128.04" cy="149.09" r="1.1" class="pp"/>
<text x="150.8" y="130.8" class="pt">Butyrate</text>
<text class="yl" font-size="5.8" transform="translate(141,176.8) rotate(-90)" x="0" y="0">Butyrate change vs NSC (%)</text>
<line x1="152.6" y1="142.8" x2="152.6" y2="210.2" class="ax"/>
<line x1="151.2" y1="207" x2="152.6" y2="207" class="tk"/>
<text x="150.6" y="209.2" class="tl">0</text>
<line x1="151.2" y1="190.53" x2="152.6" y2="190.53" class="tk"/>
<text x="150.6" y="192.73" class="tl">30</text>
<line x1="151.2" y1="174.06" x2="152.6" y2="174.06" class="tk"/>
<text x="150.6" y="176.26" class="tl">60</text>
<line x1="151.2" y1="157.59" x2="152.6" y2="157.59" class="tk"/>
<text x="150.6" y="159.79" class="tl">90</text>
<rect x="152.9" y="134.1" width="16.68" height="8.4" fill="#fff" class="sb"/>
<text x="161.24" y="140.4" class="st">NSC</text>
<line x1="152.6" y1="210.2" x2="169.88" y2="210.2" class="ax"/>
<line x1="157.31" y1="210.2" x2="157.31" y2="211.6" class="tk"/>
<text class="xl" transform="translate(157.46,216.4) scale(1,1.12)">P</text>
<line x1="165.17" y1="210.2" x2="165.17" y2="211.6" class="tk"/>
<text class="xl" transform="translate(165.17,216.4) scale(1,1.12)">BF</text>
<line x1="154.91" y1="207" x2="159.71" y2="207" stroke="#333" stroke-width="0.7"/>
<circle cx="157.51" cy="207.2" r="1.3" class="pt0"/>
<line x1="162.77" y1="207" x2="167.57" y2="207" stroke="#333" stroke-width="0.7"/>
<circle cx="165.37" cy="207.2" r="1.3" class="pt0"/>
<rect x="172.08" y="134.1" width="16.68" height="8.4" fill="#fff" class="sb"/>
<text x="180.43" y="140.4" class="st">IN</text>
<line x1="171.78" y1="210.2" x2="189.07" y2="210.2" class="ax"/>
<line x1="176.5" y1="210.2" x2="176.5" y2="211.6" class="tk"/>
<text class="xl" transform="translate(176.65,216.4) scale(1,1.12)">P</text>
<line x1="184.35" y1="210.2" x2="184.35" y2="211.6" class="tk"/>
<text class="xl" transform="translate(184.35,216.4) scale(1,1.12)">BF</text>
<line x1="176.5" y1="162.04" x2="176.5" y2="144.96" class="tl2"/>
<path d="M177.47,188.88 L177.88,187.66 L178.35,186.44 L178.83,185.22 L179.26,184 L179.58,182.78 L179.74,181.56 L179.73,180.34 L179.67,179.12 L179.55,177.9 L179.39,176.68 L179.19,175.46 L178.96,174.24 L178.71,173.02 L178.46,171.8 L178.2,170.58 L177.95,169.36 L177.72,168.14 L177.51,166.92 L177.32,165.7 L177.15,164.48 L177.01,163.26 L176.89,162.04 L176.1,162.04 L175.98,163.26 L175.84,164.48 L175.68,165.7 L175.49,166.92 L175.27,168.14 L175.04,169.36 L174.79,170.58 L174.54,171.8 L174.28,173.02 L174.03,174.24 L173.81,175.46 L173.61,176.68 L173.44,177.9 L173.33,179.12 L173.26,180.34 L173.26,181.56 L173.41,182.78 L173.73,184 L174.17,185.22 L174.65,186.44 L175.12,187.66 L175.53,188.88Z" fill="#14AD7C" class="vl"/>
<circle cx="176.5" cy="188.88" r="1.1" class="pp"/>
<circle cx="176.5" cy="144.96" r="1.1" class="pp"/>
<circle cx="176.5" cy="187.18" r="1.1" class="pp"/>
<circle cx="177" cy="185.01" r="1.1" class="pp"/>
<circle cx="176" cy="183.41" r="1.1" class="pp"/>
<circle cx="176.75" cy="182.02" r="1.1" class="pp"/>
<circle cx="176.25" cy="180.68" r="1.1" class="pp"/>
<circle cx="176.5" cy="179.34" r="1.1" class="pp"/>
<circle cx="177" cy="177.97" r="1.1" class="pp"/>
<circle cx="176" cy="176.51" r="1.1" class="pp"/>
<circle cx="176.75" cy="174.94" r="1.1" class="pp"/>
<circle cx="176.25" cy="173.16" r="1.1" class="pp"/>
<circle cx="176.5" cy="171.03" r="1.1" class="pp"/>
<circle cx="177" cy="168.18" r="1.1" class="pp"/>
<circle cx="176" cy="162.98" r="1.1" class="pp"/>
<line x1="184.35" y1="168.94" x2="184.35" y2="160.88" class="tl2"/>
<path d="M185.64,197.12 L185.96,196.11 L186.29,195.1 L186.62,194.1 L186.91,193.09 L187.14,192.09 L187.29,191.08 L187.35,190.07 L187.34,189.07 L187.3,188.06 L187.22,187.05 L187.12,186.05 L187,185.04 L186.86,184.03 L186.7,183.03 L186.52,182.02 L186.34,181.01 L186.16,180.01 L185.97,179 L185.79,177.99 L185.62,176.99 L185.45,175.98 L185.3,174.97 L185.16,173.97 L185.03,172.96 L184.92,171.96 L184.82,170.95 L184.74,169.94 L184.66,168.94 L184.04,168.94 L183.97,169.94 L183.88,170.95 L183.78,171.96 L183.67,172.96 L183.55,173.97 L183.41,174.97 L183.25,175.98 L183.09,176.99 L182.92,177.99 L182.73,179 L182.55,180.01 L182.37,181.01 L182.18,182.02 L182.01,183.03 L181.85,184.03 L181.71,185.04 L181.58,186.05 L181.48,187.05 L181.41,188.06 L181.37,189.07 L181.35,190.07 L181.41,191.08 L181.57,192.09 L181.8,193.09 L182.09,194.1 L182.41,195.1 L182.74,196.11 L183.06,197.12Z" fill="#F06A12" class="vl"/>
<circle cx="184.35" cy="197.12" r="1.1" class="pp"/>
<circle cx="184.35" cy="160.88" r="1.1" class="pp"/>
<circle cx="184.35" cy="195.75" r="1.1" class="pp"/>
<circle cx="184.85" cy="193.74" r="1.1" class="pp"/>
<circle cx="183.85" cy="192.13" r="1.1" class="pp"/>
<circle cx="184.6" cy="190.7" r="1.1" class="pp"/>
<circle cx="184.1" cy="189.32" r="1.1" class="pp"/>
<circle cx="184.35" cy="187.92" r="1.1" class="pp"/>
<circle cx="184.85" cy="186.48" r="1.1" class="pp"/>
<circle cx="183.85" cy="184.96" r="1.1" class="pp"/>
<circle cx="184.6" cy="183.32" r="1.1" class="pp"/>
<circle cx="184.1" cy="181.46" r="1.1" class="pp"/>
<circle cx="184.35" cy="179.25" r="1.1" class="pp"/>
<circle cx="184.85" cy="176.3" r="1.1" class="pp"/>
<circle cx="183.85" cy="171.09" r="1.1" class="pp"/>
<rect x="191.27" y="134.1" width="16.68" height="8.4" fill="#fff" class="sb"/>
<text x="199.61" y="140.4" class="st">DP2</text>
<line x1="190.97" y1="210.2" x2="208.25" y2="210.2" class="ax"/>
<line x1="195.68" y1="210.2" x2="195.68" y2="211.6" class="tk"/>
<text class="xl" transform="translate(195.83,216.4) scale(1,1.12)">P</text>
<line x1="203.54" y1="210.2" x2="203.54" y2="211.6" class="tk"/>
<text class="xl" transform="translate(203.54,216.4) scale(1,1.12)">BF</text>
<path d="M196.71,204.25 L196.85,204.03 L196.99,203.8 L197.13,203.57 L197.27,203.34 L197.41,203.11 L197.53,202.88 L197.64,202.65 L197.74,202.43 L197.82,202.2 L197.88,201.97 L197.92,201.74 L197.93,201.51 L197.92,201.28 L197.9,201.05 L197.86,200.82 L197.81,200.59 L197.74,200.37 L197.67,200.14 L197.58,199.91 L197.48,199.68 L197.38,199.45 L197.27,199.22 L197.16,198.99 L197.04,198.76 L196.93,198.54 L196.82,198.31 L196.71,198.08 L196.61,197.85 L196.51,197.62 L196.41,197.39 L196.32,197.16 L196.24,196.94 L196.17,196.71 L196.1,196.48 L196.04,196.25 L195.98,196.02 L195.38,196.02 L195.32,196.25 L195.26,196.48 L195.19,196.71 L195.12,196.94 L195.04,197.16 L194.95,197.39 L194.86,197.62 L194.76,197.85 L194.65,198.08 L194.54,198.31 L194.43,198.54 L194.32,198.76 L194.2,198.99 L194.09,199.22 L193.98,199.45 L193.88,199.68 L193.78,199.91 L193.69,200.14 L193.62,200.37 L193.55,200.59 L193.5,200.82 L193.46,201.05 L193.44,201.28 L193.43,201.51 L193.44,201.74 L193.48,201.97 L193.54,202.2 L193.62,202.43 L193.72,202.65 L193.83,202.88 L193.96,203.11 L194.09,203.34 L194.23,203.57 L194.37,203.8 L194.51,204.03 L194.65,204.25Z" fill="#14AD7C" class="vl"/>
<circle cx="195.68" cy="204.25" r="1.1" class="pp"/>
<circle cx="195.68" cy="196.02" r="1.1" class="pp"/>
<circle cx="195.68" cy="203.85" r="1.1" class="pp"/>
<circle cx="196.18" cy="203.21" r="1.1" class="pp"/>
<circle cx="195.18" cy="202.69" r="1.1" class="pp"/>
<circle cx="195.93" cy="202.22" r="1.1" class="pp"/>
<circle cx="195.43" cy="201.79" r="1.1" class="pp"/>
<circle cx="195.68" cy="201.37" r="1.1" class="pp"/>
<circle cx="196.18" cy="200.95" r="1.1" class="pp"/>
<circle cx="195.18" cy="200.51" r="1.1" class="pp"/>
<circle cx="195.93" cy="200.04" r="1.1" class="pp"/>
<circle cx="195.43" cy="199.53" r="1.1" class="pp"/>
<circle cx="195.68" cy="198.94" r="1.1" class="pp"/>
<circle cx="196.18" cy="198.19" r="1.1" class="pp"/>
<circle cx="195.18" cy="197.07" r="1.1" class="pp"/>
<line x1="203.54" y1="195.26" x2="203.54" y2="187.78" class="tl2"/>
<path d="M204.16,207 L204.34,206.47 L204.55,205.93 L204.78,205.4 L205.02,204.87 L205.27,204.33 L205.5,203.8 L205.71,203.26 L205.87,202.73 L205.98,202.2 L206.03,201.66 L206.02,201.13 L205.94,200.59 L205.81,200.06 L205.62,199.53 L205.4,198.99 L205.16,198.46 L204.92,197.93 L204.68,197.39 L204.46,196.86 L204.26,196.32 L204.09,195.79 L203.95,195.26 L203.12,195.26 L202.98,195.79 L202.81,196.32 L202.61,196.86 L202.39,197.39 L202.15,197.93 L201.91,198.46 L201.67,198.99 L201.45,199.53 L201.27,200.06 L201.13,200.59 L201.05,201.13 L201.04,201.66 L201.09,202.2 L201.2,202.73 L201.37,203.26 L201.57,203.8 L201.8,204.33 L202.05,204.87 L202.29,205.4 L202.52,205.93 L202.73,206.47 L202.91,207Z" fill="#F06A12" class="vl"/>
<circle cx="203.54" cy="207" r="1.1" class="pp"/>
<circle cx="203.54" cy="187.78" r="1.1" class="pp"/>
<circle cx="203.54" cy="206.04" r="1.1" class="pp"/>
<circle cx="204.04" cy="204.82" r="1.1" class="pp"/>
<circle cx="203.04" cy="203.93" r="1.1" class="pp"/>
<circle cx="203.79" cy="203.19" r="1.1" class="pp"/>
<circle cx="203.29" cy="202.53" r="1.1" class="pp"/>
<circle cx="203.54" cy="201.91" r="1.1" class="pp"/>
<circle cx="204.04" cy="201.3" r="1.1" class="pp"/>
<circle cx="203.04" cy="200.68" r="1.1" class="pp"/>
<circle cx="203.79" cy="200.03" r="1.1" class="pp"/>
<circle cx="203.29" cy="199.32" r="1.1" class="pp"/>
<circle cx="203.54" cy="198.49" r="1.1" class="pp"/>
<circle cx="204.04" cy="197.4" r="1.1" class="pp"/>
<circle cx="203.04" cy="195.47" r="1.1" class="pp"/>
<rect x="210.45" y="134.1" width="16.68" height="8.4" fill="#fff" class="sb"/>
<text x="218.79" y="140.4" class="st">SBI2</text>
<line x1="210.15" y1="210.2" x2="227.43" y2="210.2" class="ax"/>
<line x1="214.86" y1="210.2" x2="214.86" y2="211.6" class="tk"/>
<text class="xl" transform="translate(215.01,216.4) scale(1,1.12)">P</text>
<line x1="222.72" y1="210.2" x2="222.72" y2="211.6" class="tk"/>
<text class="xl" transform="translate(222.72,216.4) scale(1,1.12)">BF</text>
<line x1="214.86" y1="187.78" x2="214.86" y2="187.24" class="tl2"/>
<path d="M215.8,197.12 L215.94,196.84 L216.08,196.57 L216.23,196.29 L216.38,196.02 L216.53,195.75 L216.68,195.47 L216.82,195.2 L216.95,194.92 L217.07,194.65 L217.17,194.37 L217.25,194.1 L217.31,193.82 L217.35,193.55 L217.36,193.28 L217.35,193 L217.31,192.73 L217.25,192.45 L217.17,192.18 L217.07,191.9 L216.95,191.63 L216.82,191.35 L216.68,191.08 L216.53,190.8 L216.38,190.53 L216.23,190.26 L216.08,189.98 L215.94,189.71 L215.8,189.43 L215.68,189.16 L215.56,188.88 L215.45,188.61 L215.36,188.33 L215.27,188.06 L215.2,187.78 L214.53,187.78 L214.45,188.06 L214.37,188.33 L214.27,188.61 L214.17,188.88 L214.05,189.16 L213.93,189.43 L213.79,189.71 L213.65,189.98 L213.5,190.26 L213.35,190.53 L213.2,190.8 L213.05,191.08 L212.91,191.35 L212.78,191.63 L212.66,191.9 L212.56,192.18 L212.47,192.45 L212.41,192.73 L212.38,193 L212.36,193.28 L212.38,193.55 L212.41,193.82 L212.47,194.1 L212.56,194.37 L212.66,194.65 L212.78,194.92 L212.91,195.2 L213.05,195.47 L213.2,195.75 L213.35,196.02 L213.5,196.29 L213.65,196.57 L213.79,196.84 L213.93,197.12Z" fill="#14AD7C" class="vl"/>
<circle cx="214.86" cy="197.12" r="1.1" class="pp"/>
<circle cx="214.86" cy="187.24" r="1.1" class="pp"/>
<circle cx="214.86" cy="196.56" r="1.1" class="pp"/>
<circle cx="215.36" cy="195.74" r="1.1" class="pp"/>
<circle cx="214.36" cy="195.09" r="1.1" class="pp"/>
<circle cx="215.11" cy="194.52" r="1.1" class="pp"/>
<circle cx="214.61" cy="194.01" r="1.1" class="pp"/>
<circle cx="214.86" cy="193.52" r="1.1" class="pp"/>
<circle cx="215.36" cy="193.04" r="1.1" class="pp"/>
<circle cx="214.36" cy="192.55" r="1.1" class="pp"/>
<circle cx="215.11" cy="192.04" r="1.1" class="pp"/>
<circle cx="214.61" cy="191.48" r="1.1" class="pp"/>
<circle cx="214.86" cy="190.83" r="1.1" class="pp"/>
<circle cx="215.36" cy="190.01" r="1.1" class="pp"/>
<circle cx="214.36" cy="188.71" r="1.1" class="pp"/>
<line x1="222.72" y1="186.92" x2="222.72" y2="178.45" class="tl2"/>
<path d="M223.34,198.76 L223.54,198.2 L223.76,197.64 L224.01,197.07 L224.26,196.51 L224.52,195.94 L224.76,195.38 L224.96,194.82 L225.11,194.25 L225.2,193.69 L225.22,193.12 L225.16,192.56 L225.04,191.99 L224.86,191.43 L224.63,190.87 L224.38,190.3 L224.12,189.74 L223.87,189.17 L223.64,188.61 L223.43,188.04 L223.25,187.48 L223.11,186.92 L222.33,186.92 L222.19,187.48 L222.01,188.04 L221.8,188.61 L221.57,189.17 L221.32,189.74 L221.06,190.3 L220.81,190.87 L220.58,191.43 L220.4,191.99 L220.28,192.56 L220.22,193.12 L220.24,193.69 L220.33,194.25 L220.48,194.82 L220.68,195.38 L220.92,195.94 L221.18,196.51 L221.43,197.07 L221.68,197.64 L221.9,198.2 L222.1,198.76Z" fill="#F06A12" class="vl"/>
<circle cx="222.72" cy="198.76" r="1.1" class="pp"/>
<circle cx="222.72" cy="178.45" r="1.1" class="pp"/>
<circle cx="222.72" cy="197.81" r="1.1" class="pp"/>
<circle cx="223.22" cy="196.58" r="1.1" class="pp"/>
<circle cx="222.22" cy="195.69" r="1.1" class="pp"/>
<circle cx="222.97" cy="194.96" r="1.1" class="pp"/>
<circle cx="222.47" cy="194.29" r="1.1" class="pp"/>
<circle cx="222.72" cy="193.67" r="1.1" class="pp"/>
<circle cx="223.22" cy="193.06" r="1.1" class="pp"/>
<circle cx="222.22" cy="192.44" r="1.1" class="pp"/>
<circle cx="222.97" cy="191.79" r="1.1" class="pp"/>
<circle cx="222.47" cy="191.08" r="1.1" class="pp"/>
<circle cx="222.72" cy="190.25" r="1.1" class="pp"/>
<circle cx="223.22" cy="189.16" r="1.1" class="pp"/>
<circle cx="222.22" cy="187.21" r="1.1" class="pp"/>
<rect x="229.63" y="134.1" width="16.68" height="8.4" fill="#fff" class="sb"/>
<text x="237.97" y="140.4" class="st">DP5</text>
<line x1="229.33" y1="210.2" x2="246.62" y2="210.2" class="ax"/>
<line x1="234.05" y1="210.2" x2="234.05" y2="211.6" class="tk"/>
<text class="xl" transform="translate(234.2,216.4) scale(1,1.12)">P</text>
<line x1="241.9" y1="210.2" x2="241.9" y2="211.6" class="tk"/>
<text class="xl" transform="translate(241.9,216.4) scale(1,1.12)">BF</text>
<line x1="234.05" y1="184.38" x2="234.05" y2="183.94" class="tl2"/>
<path d="M234.64,199.86 L234.81,199.42 L235.01,198.98 L235.21,198.54 L235.42,198.09 L235.63,197.65 L235.83,197.21 L236,196.77 L236.16,196.32 L236.29,195.88 L236.4,195.44 L236.48,195 L236.55,194.56 L236.59,194.11 L236.62,193.67 L236.63,193.23 L236.64,192.79 L236.65,192.34 L236.65,191.9 L236.65,191.46 L236.65,191.02 L236.64,190.58 L236.63,190.13 L236.6,189.69 L236.55,189.25 L236.47,188.81 L236.36,188.36 L236.21,187.92 L236.03,187.48 L235.81,187.04 L235.57,186.6 L235.32,186.15 L235.06,185.71 L234.82,185.27 L234.61,184.83 L234.43,184.38 L233.66,184.38 L233.48,184.83 L233.27,185.27 L233.03,185.71 L232.78,186.15 L232.52,186.6 L232.28,187.04 L232.06,187.48 L231.88,187.92 L231.73,188.36 L231.62,188.81 L231.55,189.25 L231.5,189.69 L231.47,190.13 L231.45,190.58 L231.45,191.02 L231.45,191.46 L231.45,191.9 L231.45,192.34 L231.45,192.79 L231.46,193.23 L231.48,193.67 L231.5,194.11 L231.55,194.56 L231.61,195 L231.69,195.44 L231.8,195.88 L231.93,196.32 L232.09,196.77 L232.27,197.21 L232.46,197.65 L232.67,198.09 L232.88,198.54 L233.09,198.98 L233.28,199.42 L233.46,199.86Z" fill="#14AD7C" class="vl"/>
<circle cx="234.05" cy="199.86" r="1.1" class="pp"/>
<circle cx="234.05" cy="183.94" r="1.1" class="pp"/>
<circle cx="234.05" cy="198.53" r="1.1" class="pp"/>
<circle cx="234.55" cy="197" r="1.1" class="pp"/>
<circle cx="233.55" cy="195.87" r="1.1" class="pp"/>
<circle cx="234.3" cy="194.88" r="1.1" class="pp"/>
<circle cx="233.8" cy="193.94" r="1.1" class="pp"/>
<circle cx="234.05" cy="193.03" r="1.1" class="pp"/>
<circle cx="234.55" cy="192.13" r="1.1" class="pp"/>
<circle cx="233.55" cy="191.23" r="1.1" class="pp"/>
<circle cx="234.3" cy="190.33" r="1.1" class="pp"/>
<circle cx="233.8" cy="189.41" r="1.1" class="pp"/>
<circle cx="234.05" cy="188.45" r="1.1" class="pp"/>
<circle cx="234.55" cy="187.36" r="1.1" class="pp"/>
<circle cx="233.55" cy="185.82" r="1.1" class="pp"/>
<path d="M242.28,204.25 L242.36,203.69 L242.45,203.13 L242.56,202.56 L242.68,202 L242.81,201.43 L242.96,200.87 L243.11,200.31 L243.28,199.74 L243.45,199.18 L243.62,198.61 L243.79,198.05 L243.95,197.48 L244.11,196.92 L244.25,196.36 L244.38,195.79 L244.48,195.23 L244.57,194.66 L244.62,194.1 L244.65,193.53 L244.65,192.97 L244.62,192.41 L244.56,191.84 L244.48,191.28 L244.37,190.71 L244.24,190.15 L244.1,189.58 L243.94,189.02 L243.77,188.46 L243.6,187.89 L243.43,187.33 L243.26,186.76 L243.1,186.2 L242.95,185.63 L242.8,185.07 L242.67,184.51 L242.55,183.94 L241.25,183.94 L241.14,184.51 L241,185.07 L240.86,185.63 L240.7,186.2 L240.54,186.76 L240.37,187.33 L240.2,187.89 L240.03,188.46 L239.87,189.02 L239.71,189.58 L239.56,190.15 L239.44,190.71 L239.33,191.28 L239.25,191.84 L239.19,192.41 L239.16,192.97 L239.16,193.53 L239.18,194.1 L239.24,194.66 L239.32,195.23 L239.43,195.79 L239.55,196.36 L239.7,196.92 L239.85,197.48 L240.02,198.05 L240.19,198.61 L240.36,199.18 L240.53,199.74 L240.69,200.31 L240.85,200.87 L240.99,201.43 L241.12,202 L241.25,202.56 L241.35,203.13 L241.45,203.69 L241.53,204.25Z" fill="#F06A12" class="vl"/>
<circle cx="241.9" cy="204.25" r="1.1" class="pp"/>
<circle cx="241.9" cy="183.94" r="1.1" class="pp"/>
<circle cx="241.9" cy="201.9" r="1.1" class="pp"/>
<circle cx="242.4" cy="199.47" r="1.1" class="pp"/>
<circle cx="241.4" cy="197.87" r="1.1" class="pp"/>
<circle cx="242.15" cy="196.59" r="1.1" class="pp"/>
<circle cx="241.65" cy="195.46" r="1.1" class="pp"/>
<circle cx="241.9" cy="194.43" r="1.1" class="pp"/>
<circle cx="242.4" cy="193.43" r="1.1" class="pp"/>
<circle cx="241.4" cy="192.43" r="1.1" class="pp"/>
<circle cx="242.15" cy="191.41" r="1.1" class="pp"/>
<circle cx="241.65" cy="190.32" r="1.1" class="pp"/>
<circle cx="241.9" cy="189.1" r="1.1" class="pp"/>
<circle cx="242.4" cy="187.63" r="1.1" class="pp"/>
<circle cx="241.4" cy="185.57" r="1.1" class="pp"/>
<rect x="248.82" y="134.1" width="16.68" height="8.4" fill="#fff" class="sb"/>
<text x="257.16" y="140.4" class="st">SBI5</text>
<line x1="248.52" y1="210.2" x2="265.8" y2="210.2" class="ax"/>
<line x1="253.23" y1="210.2" x2="253.23" y2="211.6" class="tk"/>
<text class="xl" transform="translate(253.38,216.4) scale(1,1.12)">P</text>
<line x1="261.09" y1="210.2" x2="261.09" y2="211.6" class="tk"/>
<text class="xl" transform="translate(261.09,216.4) scale(1,1.12)">BF</text>
<path d="M253.94,181.2 L254.15,180.5 L254.39,179.79 L254.63,179.09 L254.88,178.39 L255.12,177.69 L255.35,176.99 L255.55,176.29 L255.73,175.59 L255.87,174.88 L255.99,174.18 L256.08,173.48 L256.14,172.78 L256.18,172.08 L256.21,171.38 L256.22,170.67 L256.23,169.97 L256.23,169.27 L256.23,168.57 L256.23,167.87 L256.23,167.17 L256.22,166.47 L256.2,165.76 L256.17,165.06 L256.12,164.36 L256.04,163.66 L255.93,162.96 L255.79,162.26 L255.62,161.56 L255.41,160.85 L255.18,160.15 L254.93,159.45 L254.66,158.75 L254.4,158.05 L254.15,157.35 L253.93,156.64 L253.74,155.94 L252.72,155.94 L252.53,156.64 L252.31,157.35 L252.06,158.05 L251.8,158.75 L251.53,159.45 L251.28,160.15 L251.05,160.85 L250.84,161.56 L250.67,162.26 L250.53,162.96 L250.42,163.66 L250.34,164.36 L250.29,165.06 L250.26,165.76 L250.24,166.47 L250.23,167.17 L250.23,167.87 L250.23,168.57 L250.23,169.27 L250.23,169.97 L250.24,170.67 L250.25,171.38 L250.28,172.08 L250.32,172.78 L250.38,173.48 L250.47,174.18 L250.59,174.88 L250.73,175.59 L250.91,176.29 L251.11,176.99 L251.34,177.69 L251.58,178.39 L251.83,179.09 L252.07,179.79 L252.31,180.5 L252.52,181.2Z" fill="#14AD7C" class="vl"/>
<circle cx="253.23" cy="181.2" r="1.1" class="pp"/>
<circle cx="253.23" cy="155.94" r="1.1" class="pp"/>
<circle cx="253.23" cy="179.09" r="1.1" class="pp"/>
<circle cx="253.73" cy="176.67" r="1.1" class="pp"/>
<circle cx="252.73" cy="174.86" r="1.1" class="pp"/>
<circle cx="253.48" cy="173.26" r="1.1" class="pp"/>
<circle cx="252.98" cy="171.74" r="1.1" class="pp"/>
<circle cx="253.23" cy="170.26" r="1.1" class="pp"/>
<circle cx="253.73" cy="168.78" r="1.1" class="pp"/>
<circle cx="252.73" cy="167.31" r="1.1" class="pp"/>
<circle cx="253.48" cy="165.82" r="1.1" class="pp"/>
<circle cx="252.98" cy="164.32" r="1.1" class="pp"/>
<circle cx="253.23" cy="162.73" r="1.1" class="pp"/>
<circle cx="253.73" cy="160.92" r="1.1" class="pp"/>
<circle cx="252.73" cy="158.43" r="1.1" class="pp"/>
<line x1="261.09" y1="160.52" x2="261.09" y2="155.94" class="tl2"/>
<path d="M262,183.39 L262.18,182.63 L262.39,181.87 L262.61,181.11 L262.83,180.34 L263.06,179.58 L263.29,178.82 L263.5,178.06 L263.69,177.29 L263.85,176.53 L263.97,175.77 L264.05,175.01 L264.08,174.24 L264.07,173.48 L264.02,172.72 L263.94,171.96 L263.82,171.19 L263.66,170.43 L263.49,169.67 L263.3,168.91 L263.09,168.14 L262.88,167.38 L262.67,166.62 L262.47,165.86 L262.27,165.09 L262.09,164.33 L261.93,163.57 L261.78,162.81 L261.65,162.04 L261.54,161.28 L261.45,160.52 L260.72,160.52 L260.63,161.28 L260.52,162.04 L260.39,162.81 L260.24,163.57 L260.08,164.33 L259.9,165.09 L259.7,165.86 L259.5,166.62 L259.29,167.38 L259.08,168.14 L258.88,168.91 L258.68,169.67 L258.51,170.43 L258.36,171.19 L258.24,171.96 L258.15,172.72 L258.1,173.48 L258.09,174.24 L258.12,175.01 L258.2,175.77 L258.33,176.53 L258.49,177.29 L258.68,178.06 L258.89,178.82 L259.11,179.58 L259.34,180.34 L259.57,181.11 L259.79,181.87 L259.99,182.63 L260.18,183.39Z" fill="#F06A12" class="vl"/>
<circle cx="261.09" cy="183.39" r="1.1" class="pp"/>
<circle cx="261.09" cy="155.94" r="1.1" class="pp"/>
<circle cx="261.09" cy="181.84" r="1.1" class="pp"/>
<circle cx="261.59" cy="179.72" r="1.1" class="pp"/>
<circle cx="260.59" cy="178.14" r="1.1" class="pp"/>
<circle cx="261.34" cy="176.79" r="1.1" class="pp"/>
<circle cx="260.84" cy="175.57" r="1.1" class="pp"/>
<circle cx="261.09" cy="174.41" r="1.1" class="pp"/>
<circle cx="261.59" cy="173.26" r="1.1" class="pp"/>
<circle cx="260.59" cy="172.09" r="1.1" class="pp"/>
<circle cx="261.34" cy="170.85" r="1.1" class="pp"/>
<circle cx="260.84" cy="169.48" r="1.1" class="pp"/>
<circle cx="261.09" cy="167.89" r="1.1" class="pp"/>
<circle cx="261.59" cy="165.81" r="1.1" class="pp"/>
<circle cx="260.59" cy="162.23" r="1.1" class="pp"/>
<text x="274.4" y="131.4" class="pt"><tspan font-style="italic">Bacteroidaceae</tspan></text>
<text class="yl" font-size="5.8" transform="translate(282.8,176.8) rotate(-90)" x="0" y="0">log2(fold change vs NSC)</text>
<line x1="293.9" y1="142.8" x2="293.9" y2="210.2" class="ax"/>
<line x1="292.5" y1="196.1" x2="293.9" y2="196.1" class="tk"/>
<text x="291.9" y="198.3" class="tl">-1</text>
<line x1="292.5" y1="179.9" x2="293.9" y2="179.9" class="tk"/>
<text x="291.9" y="182.1" class="tl">0</text>
<line x1="292.5" y1="163.7" x2="293.9" y2="163.7" class="tk"/>
<text x="291.9" y="165.9" class="tl">1</text>
<line x1="292.5" y1="147.5" x2="293.9" y2="147.5" class="tk"/>
<text x="291.9" y="149.7" class="tl">2</text>
<rect x="294.2" y="134.1" width="16.57" height="8.4" fill="#fff" class="sb"/>
<text x="302.48" y="140.4" class="st">NSC</text>
<line x1="293.9" y1="210.2" x2="311.07" y2="210.2" class="ax"/>
<line x1="298.58" y1="210.2" x2="298.58" y2="211.6" class="tk"/>
<text class="xl" transform="translate(298.73,216.4) scale(1,1.12)">P</text>
<line x1="306.38" y1="210.2" x2="306.38" y2="211.6" class="tk"/>
<text class="xl" transform="translate(306.38,216.4) scale(1,1.12)">BF</text>
<line x1="296.18" y1="179.9" x2="300.98" y2="179.9" stroke="#333" stroke-width="0.7"/>
<circle cx="298.78" cy="180.1" r="1.3" class="pt0"/>
<line x1="303.98" y1="179.9" x2="308.78" y2="179.9" stroke="#333" stroke-width="0.7"/>
<circle cx="306.58" cy="180.1" r="1.3" class="pt0"/>
<rect x="313.27" y="134.1" width="16.57" height="8.4" fill="#0AD6F0" class="sb"/>
<text x="321.55" y="140.4" class="st">IN</text>
<line x1="312.97" y1="210.2" x2="330.13" y2="210.2" class="ax"/>
<line x1="317.65" y1="210.2" x2="317.65" y2="211.6" class="tk"/>
<text class="xl" transform="translate(317.8,216.4) scale(1,1.12)">P</text>
<line x1="325.45" y1="210.2" x2="325.45" y2="211.6" class="tk"/>
<text class="xl" transform="translate(325.45,216.4) scale(1,1.12)">BF</text>
<path d="M318.45,207.44 L318.45,206.45 L318.45,205.46 L318.45,204.47 L318.45,203.48 L318.45,202.49 L318.45,201.5 L318.45,200.51 L318.45,199.52 L318.45,198.53 L318.45,197.54 L318.45,196.55 L318.45,195.56 L318.45,194.57 L318.45,193.58 L318.64,192.59 L318.95,191.6 L319.29,190.61 L319.62,189.62 L319.94,188.63 L320.22,187.64 L320.45,186.65 L320.63,185.66 L320.76,184.67 L320.84,183.68 L320.88,182.69 L320.9,181.7 L320.9,180.71 L320.9,179.72 L320.87,178.73 L320.82,177.74 L320.71,176.75 L320.55,175.76 L320.32,174.77 L320.02,173.78 L319.69,172.79 L319.32,171.8 L315.98,171.8 L315.61,172.79 L315.27,173.78 L314.98,174.77 L314.75,175.76 L314.58,176.75 L314.48,177.74 L314.42,178.73 L314.4,179.72 L314.4,180.71 L314.4,181.7 L314.42,182.69 L314.46,183.68 L314.54,184.67 L314.67,185.66 L314.85,186.65 L315.08,187.64 L315.36,188.63 L315.68,189.62 L316.01,190.61 L316.34,191.6 L316.65,192.59 L316.85,193.58 L316.85,194.57 L316.85,195.56 L316.85,196.55 L316.85,197.54 L316.85,198.53 L316.85,199.52 L316.85,200.51 L316.85,201.5 L316.85,202.49 L316.85,203.48 L316.85,204.47 L316.85,205.46 L316.85,206.45 L316.85,207.44Z" fill="#14AD7C" class="vl"/>
<circle cx="317.65" cy="207.44" r="1.22" class="pp"/>
<circle cx="317.65" cy="171.8" r="1.22" class="pp"/>
<circle cx="317.65" cy="190.85" r="1.22" class="pp"/>
<circle cx="318.15" cy="186.56" r="1.22" class="pp"/>
<circle cx="317.15" cy="183.41" r="1.22" class="pp"/>
<circle cx="317.9" cy="180.44" r="1.22" class="pp"/>
<circle cx="317.4" cy="177.45" r="1.22" class="pp"/>
<circle cx="317.65" cy="174.1" r="1.22" class="pp"/>
<path d="M326.45,194.48 L326.49,193.4 L326.74,192.32 L327.01,191.24 L327.28,190.16 L327.53,189.08 L327.77,188 L327.97,186.92 L328.12,185.84 L328.24,184.76 L328.31,183.68 L328.34,182.6 L328.35,181.52 L328.34,180.44 L328.3,179.36 L328.21,178.28 L328.07,177.2 L327.87,176.12 L327.63,175.04 L327.36,173.96 L327.06,172.88 L326.77,171.8 L326.49,170.72 L326.45,169.64 L326.45,168.56 L326.45,167.48 L326.45,166.4 L326.45,165.32 L326.45,164.24 L326.45,163.16 L326.45,162.08 L326.45,161 L326.45,159.92 L326.45,158.84 L326.45,157.76 L326.45,156.68 L326.45,155.6 L324.45,155.6 L324.45,156.68 L324.45,157.76 L324.45,158.84 L324.45,159.92 L324.45,161 L324.45,162.08 L324.45,163.16 L324.45,164.24 L324.45,165.32 L324.45,166.4 L324.45,167.48 L324.45,168.56 L324.45,169.64 L324.41,170.72 L324.13,171.8 L323.84,172.88 L323.55,173.96 L323.27,175.04 L323.03,176.12 L322.84,177.2 L322.69,178.28 L322.6,179.36 L322.56,180.44 L322.55,181.52 L322.56,182.6 L322.59,183.68 L322.66,184.76 L322.78,185.84 L322.94,186.92 L323.14,188 L323.37,189.08 L323.63,190.16 L323.89,191.24 L324.16,192.32 L324.41,193.4 L324.45,194.48Z" fill="#F06A12" class="vl"/>
<circle cx="325.45" cy="194.48" r="1.22" class="pp"/>
<circle cx="325.45" cy="155.6" r="1.22" class="pp"/>
<circle cx="325.45" cy="160.46" r="1.22" class="pp"/>
<circle cx="325.45" cy="165.32" r="1.22" class="pp"/>
<circle cx="325.45" cy="190.74" r="1.22" class="pp"/>
<circle cx="325.95" cy="186.48" r="1.22" class="pp"/>
<circle cx="324.95" cy="183.14" r="1.22" class="pp"/>
<circle cx="325.7" cy="179.94" r="1.22" class="pp"/>
<circle cx="325.2" cy="176.56" r="1.22" class="pp"/>
<circle cx="325.45" cy="171.81" r="1.22" class="pp"/>
<rect x="332.33" y="134.1" width="16.57" height="8.4" fill="#fff" class="sb"/>
<text x="340.62" y="140.4" class="st">DP2</text>
<line x1="332.03" y1="210.2" x2="349.2" y2="210.2" class="ax"/>
<line x1="336.72" y1="210.2" x2="336.72" y2="211.6" class="tk"/>
<text class="xl" transform="translate(336.87,216.4) scale(1,1.12)">P</text>
<line x1="344.52" y1="210.2" x2="344.52" y2="211.6" class="tk"/>
<text class="xl" transform="translate(344.52,216.4) scale(1,1.12)">BF</text>
<line x1="336.72" y1="200.15" x2="336.72" y2="182.33" class="tl2"/>
<path d="M337.02,182.33 L337.15,181.34 L337.32,180.35 L337.52,179.36 L337.77,178.37 L338.05,177.38 L338.36,176.39 L338.68,175.4 L338.99,174.41 L339.26,173.42 L339.49,172.43 L339.64,171.44 L339.71,170.45 L339.68,169.46 L339.54,168.47 L339.29,167.48 L338.96,166.49 L338.6,165.5 L338.23,164.51 L335.2,164.51 L334.83,165.5 L334.47,166.49 L334.14,167.48 L333.9,168.47 L333.75,169.46 L333.72,170.45 L333.79,171.44 L333.94,172.43 L334.17,173.42 L334.44,174.41 L334.75,175.4 L335.07,176.39 L335.38,177.38 L335.66,178.37 L335.91,179.36 L336.11,180.35 L336.28,181.34 L336.41,182.33Z" fill="#14AD7C" class="vl"/>
<circle cx="336.72" cy="200.15" r="1.22" class="pp"/>
<circle cx="336.72" cy="164.51" r="1.22" class="pp"/>
<circle cx="336.72" cy="178.83" r="1.22" class="pp"/>
<circle cx="337.22" cy="174.92" r="1.22" class="pp"/>
<circle cx="336.22" cy="172.52" r="1.22" class="pp"/>
<circle cx="336.97" cy="170.49" r="1.22" class="pp"/>
<circle cx="336.47" cy="168.49" r="1.22" class="pp"/>
<circle cx="336.72" cy="166.13" r="1.22" class="pp"/>
<path d="M345.78,179.9 L345.92,179.47 L346.05,179.05 L346.18,178.62 L346.31,178.19 L346.44,177.76 L346.56,177.34 L346.67,176.91 L346.76,176.48 L346.85,176.05 L346.92,175.62 L346.97,175.2 L347,174.77 L347.02,174.34 L347.01,173.92 L346.99,173.49 L346.95,173.06 L346.89,172.63 L346.81,172.21 L346.72,171.78 L346.62,171.35 L346.5,170.92 L346.38,170.5 L346.25,170.07 L346.12,169.64 L345.99,169.21 L345.85,168.78 L345.72,168.36 L345.6,167.93 L345.48,167.5 L345.36,167.08 L345.26,166.65 L345.16,166.22 L345.07,165.79 L344.99,165.37 L344.92,164.94 L344.86,164.51 L344.18,164.51 L344.12,164.94 L344.04,165.37 L343.96,165.79 L343.88,166.22 L343.78,166.65 L343.67,167.08 L343.56,167.5 L343.44,167.93 L343.31,168.36 L343.18,168.78 L343.05,169.21 L342.92,169.64 L342.79,170.07 L342.66,170.5 L342.53,170.92 L342.42,171.35 L342.32,171.78 L342.23,172.21 L342.15,172.63 L342.09,173.06 L342.05,173.49 L342.02,173.92 L342.02,174.34 L342.03,174.77 L342.07,175.2 L342.12,175.62 L342.19,176.05 L342.27,176.48 L342.37,176.91 L342.48,177.34 L342.6,177.76 L342.72,178.19 L342.85,178.62 L342.99,179.05 L343.12,179.47 L343.25,179.9Z" fill="#F06A12" class="vl"/>
<circle cx="344.52" cy="179.9" r="1.22" class="pp"/>
<circle cx="344.52" cy="164.51" r="1.22" class="pp"/>
<circle cx="344.52" cy="178.44" r="1.22" class="pp"/>
<circle cx="345.02" cy="176.29" r="1.22" class="pp"/>
<circle cx="344.02" cy="174.49" r="1.22" class="pp"/>
<circle cx="344.77" cy="172.73" r="1.22" class="pp"/>
<circle cx="344.27" cy="170.73" r="1.22" class="pp"/>
<circle cx="344.52" cy="167.81" r="1.22" class="pp"/>
<rect x="351.4" y="134.1" width="16.57" height="8.4" fill="#fff" class="sb"/>
<text x="359.68" y="140.4" class="st">SBI2</text>
<line x1="351.1" y1="210.2" x2="368.27" y2="210.2" class="ax"/>
<line x1="355.78" y1="210.2" x2="355.78" y2="211.6" class="tk"/>
<text class="xl" transform="translate(355.93,216.4) scale(1,1.12)">P</text>
<line x1="363.58" y1="210.2" x2="363.58" y2="211.6" class="tk"/>
<text class="xl" transform="translate(363.58,216.4) scale(1,1.12)">BF</text>
<path d="M356.58,183.14 L356.58,182.47 L356.58,181.79 L356.58,181.12 L356.58,180.44 L356.58,179.77 L356.67,179.09 L356.84,178.41 L357.02,177.74 L357.19,177.06 L357.37,176.39 L357.53,175.72 L357.68,175.04 L357.82,174.37 L357.94,173.69 L358.04,173.02 L358.12,172.34 L358.18,171.67 L358.22,170.99 L358.25,170.31 L358.27,169.64 L358.28,168.97 L358.28,168.29 L358.28,167.62 L358.28,166.94 L358.27,166.27 L358.26,165.59 L358.23,164.92 L358.18,164.24 L358.12,163.56 L358.03,162.89 L357.91,162.22 L357.78,161.54 L357.62,160.87 L357.45,160.19 L357.26,159.52 L357.07,158.84 L354.5,158.84 L354.3,159.52 L354.12,160.19 L353.94,160.87 L353.79,161.54 L353.65,162.22 L353.54,162.89 L353.45,163.56 L353.38,164.24 L353.33,164.92 L353.31,165.59 L353.29,166.27 L353.28,166.94 L353.28,167.62 L353.28,168.29 L353.28,168.97 L353.29,169.64 L353.31,170.31 L353.34,170.99 L353.39,171.67 L353.45,172.34 L353.53,173.02 L353.63,173.69 L353.74,174.37 L353.88,175.04 L354.03,175.72 L354.2,176.39 L354.37,177.06 L354.55,177.74 L354.72,178.41 L354.89,179.09 L354.98,179.77 L354.98,180.44 L354.98,181.12 L354.98,181.79 L354.98,182.47 L354.98,183.14Z" fill="#14AD7C" class="vl"/>
<circle cx="355.78" cy="183.14" r="1.22" class="pp"/>
<circle cx="355.78" cy="158.84" r="1.22" class="pp"/>
<circle cx="355.78" cy="177.57" r="1.22" class="pp"/>
<circle cx="356.28" cy="173.45" r="1.22" class="pp"/>
<circle cx="355.28" cy="170.35" r="1.22" class="pp"/>
<circle cx="356.03" cy="167.41" r="1.22" class="pp"/>
<circle cx="355.53" cy="164.45" r="1.22" class="pp"/>
<circle cx="355.78" cy="161.12" r="1.22" class="pp"/>
<line x1="363.58" y1="164.38" x2="363.58" y2="162.08" class="tl2"/>
<path d="M364.93,175.85 L365.13,175.47 L365.33,175.09 L365.52,174.7 L365.69,174.32 L365.84,173.94 L365.96,173.56 L366.04,173.17 L366.08,172.79 L366.08,172.41 L366.06,172.03 L366.01,171.64 L365.95,171.26 L365.87,170.88 L365.77,170.5 L365.65,170.11 L365.53,169.73 L365.39,169.35 L365.25,168.97 L365.11,168.58 L364.97,168.2 L364.83,167.82 L364.69,167.44 L364.56,167.05 L364.44,166.67 L364.32,166.29 L364.22,165.91 L364.13,165.52 L364.04,165.14 L363.97,164.76 L363.9,164.38 L363.27,164.38 L363.2,164.76 L363.13,165.14 L363.04,165.52 L362.95,165.91 L362.85,166.29 L362.73,166.67 L362.61,167.05 L362.48,167.44 L362.34,167.82 L362.2,168.2 L362.06,168.58 L361.92,168.97 L361.78,169.35 L361.64,169.73 L361.52,170.11 L361.4,170.5 L361.3,170.88 L361.22,171.26 L361.16,171.64 L361.11,172.03 L361.09,172.41 L361.09,172.79 L361.13,173.17 L361.21,173.56 L361.33,173.94 L361.48,174.32 L361.65,174.7 L361.84,175.09 L362.04,175.47 L362.24,175.85Z" fill="#F06A12" class="vl"/>
<circle cx="363.58" cy="175.85" r="1.22" class="pp"/>
<circle cx="363.58" cy="162.08" r="1.22" class="pp"/>
<circle cx="363.58" cy="166.94" r="1.22" class="pp"/>
<circle cx="363.58" cy="174.85" r="1.22" class="pp"/>
<circle cx="364.08" cy="173.37" r="1.22" class="pp"/>
<circle cx="363.08" cy="172.07" r="1.22" class="pp"/>
<circle cx="363.83" cy="170.71" r="1.22" class="pp"/>
<circle cx="363.33" cy="169.1" r="1.22" class="pp"/>
<circle cx="363.58" cy="166.53" r="1.22" class="pp"/>
<rect x="370.47" y="134.1" width="16.57" height="8.4" fill="#fff" class="sb"/>
<text x="378.75" y="140.4" class="st">DP5</text>
<line x1="370.17" y1="210.2" x2="387.33" y2="210.2" class="ax"/>
<line x1="374.85" y1="210.2" x2="374.85" y2="211.6" class="tk"/>
<text class="xl" transform="translate(375,216.4) scale(1,1.12)">P</text>
<line x1="382.65" y1="210.2" x2="382.65" y2="211.6" class="tk"/>
<text class="xl" transform="translate(382.65,216.4) scale(1,1.12)">BF</text>
<path d="M375.55,181.52 L375.55,180.78 L375.55,180.03 L375.55,179.29 L375.55,178.55 L375.55,177.81 L375.55,177.06 L375.55,176.32 L375.67,175.58 L375.87,174.84 L376.07,174.09 L376.28,173.35 L376.49,172.61 L376.69,171.87 L376.87,171.12 L377.04,170.38 L377.18,169.64 L377.29,168.9 L377.38,168.16 L377.45,167.41 L377.5,166.67 L377.53,165.93 L377.54,165.19 L377.55,164.44 L377.55,163.7 L377.55,162.96 L377.54,162.22 L377.52,161.47 L377.48,160.73 L377.42,159.99 L377.33,159.25 L377.21,158.5 L377.07,157.76 L376.89,157.02 L376.69,156.28 L376.47,155.53 L376.24,154.79 L373.46,154.79 L373.23,155.53 L373.01,156.28 L372.81,157.02 L372.63,157.76 L372.48,158.5 L372.36,159.25 L372.28,159.99 L372.21,160.73 L372.18,161.47 L372.16,162.22 L372.15,162.96 L372.15,163.7 L372.15,164.44 L372.15,165.19 L372.17,165.93 L372.2,166.67 L372.24,167.41 L372.31,168.16 L372.4,168.9 L372.52,169.64 L372.66,170.38 L372.83,171.12 L373.01,171.87 L373.21,172.61 L373.42,173.35 L373.63,174.09 L373.83,174.84 L374.02,175.58 L374.15,176.32 L374.15,177.06 L374.15,177.81 L374.15,178.55 L374.15,179.29 L374.15,180.03 L374.15,180.78 L374.15,181.52Z" fill="#14AD7C" class="vl"/>
<circle cx="374.85" cy="181.52" r="1.22" class="pp"/>
<circle cx="374.85" cy="154.79" r="1.22" class="pp"/>
<circle cx="374.85" cy="173.73" r="1.22" class="pp"/>
<circle cx="375.35" cy="169.5" r="1.22" class="pp"/>
<circle cx="374.35" cy="166.36" r="1.22" class="pp"/>
<circle cx="375.1" cy="163.4" r="1.22" class="pp"/>
<circle cx="374.6" cy="160.42" r="1.22" class="pp"/>
<circle cx="374.85" cy="157.08" r="1.22" class="pp"/>
<path d="M383.55,176.66 L383.67,176.32 L383.8,175.99 L383.93,175.65 L384.06,175.31 L384.19,174.97 L384.32,174.64 L384.45,174.3 L384.57,173.96 L384.68,173.62 L384.78,173.28 L384.86,172.95 L384.94,172.61 L385,172.27 L385.06,171.94 L385.09,171.6 L385.12,171.26 L385.14,170.92 L385.15,170.59 L385.15,170.25 L385.15,169.91 L385.14,169.57 L385.13,169.24 L385.11,168.9 L385.07,168.56 L385.03,168.22 L384.97,167.88 L384.9,167.55 L384.81,167.21 L384.72,166.87 L384.61,166.53 L384.5,166.2 L384.37,165.86 L384.25,165.52 L384.12,165.19 L383.98,164.85 L383.85,164.51 L381.45,164.51 L381.32,164.85 L381.19,165.19 L381.06,165.52 L380.93,165.86 L380.81,166.2 L380.69,166.53 L380.59,166.87 L380.49,167.21 L380.41,167.55 L380.34,167.88 L380.28,168.22 L380.23,168.56 L380.2,168.9 L380.17,169.24 L380.16,169.57 L380.15,169.91 L380.15,170.25 L380.15,170.59 L380.16,170.92 L380.18,171.26 L380.21,171.6 L380.25,171.94 L380.3,172.27 L380.36,172.61 L380.44,172.95 L380.53,173.28 L380.63,173.62 L380.74,173.96 L380.85,174.3 L380.98,174.64 L381.11,174.97 L381.24,175.31 L381.37,175.65 L381.51,175.99 L381.63,176.32 L381.76,176.66Z" fill="#F06A12" class="vl"/>
<circle cx="382.65" cy="176.66" r="1.22" class="pp"/>
<circle cx="382.65" cy="164.51" r="1.22" class="pp"/>
<circle cx="382.65" cy="174.99" r="1.22" class="pp"/>
<circle cx="383.15" cy="172.87" r="1.22" class="pp"/>
<circle cx="382.15" cy="171.16" r="1.22" class="pp"/>
<circle cx="382.9" cy="169.54" r="1.22" class="pp"/>
<circle cx="382.4" cy="167.86" r="1.22" class="pp"/>
<circle cx="382.65" cy="165.89" r="1.22" class="pp"/>
<rect x="389.53" y="134.1" width="16.57" height="8.4" fill="#fff" class="sb"/>
<text x="397.82" y="140.4" class="st">SBI5</text>
<line x1="389.23" y1="210.2" x2="406.4" y2="210.2" class="ax"/>
<line x1="393.92" y1="210.2" x2="393.92" y2="211.6" class="tk"/>
<text class="xl" transform="translate(394.07,216.4) scale(1,1.12)">P</text>
<line x1="401.72" y1="210.2" x2="401.72" y2="211.6" class="tk"/>
<text class="xl" transform="translate(401.72,216.4) scale(1,1.12)">BF</text>
<path d="M394.82,184.76 L394.82,183.68 L394.82,182.6 L394.82,181.52 L394.82,180.44 L394.82,179.36 L394.82,178.28 L394.82,177.2 L394.82,176.12 L394.82,175.04 L394.82,173.96 L394.82,172.88 L394.82,171.8 L394.82,170.72 L394.82,169.64 L395.04,168.56 L395.31,167.48 L395.6,166.4 L395.89,165.32 L396.16,164.24 L396.41,163.16 L396.62,162.08 L396.8,161 L396.94,159.92 L397.04,158.84 L397.11,157.76 L397.14,156.68 L397.16,155.6 L397.16,154.52 L397.16,153.44 L397.16,152.36 L397.13,151.28 L397.07,150.2 L396.97,149.12 L396.81,148.04 L396.61,146.96 L396.35,145.88 L391.48,145.88 L391.22,146.96 L391.02,148.04 L390.86,149.12 L390.76,150.2 L390.7,151.28 L390.67,152.36 L390.67,153.44 L390.67,154.52 L390.67,155.6 L390.69,156.68 L390.72,157.76 L390.79,158.84 L390.89,159.92 L391.03,161 L391.21,162.08 L391.42,163.16 L391.67,164.24 L391.94,165.32 L392.23,166.4 L392.52,167.48 L392.79,168.56 L393.02,169.64 L393.02,170.72 L393.02,171.8 L393.02,172.88 L393.02,173.96 L393.02,175.04 L393.02,176.12 L393.02,177.2 L393.02,178.28 L393.02,179.36 L393.02,180.44 L393.02,181.52 L393.02,182.6 L393.02,183.68 L393.02,184.76Z" fill="#14AD7C" class="vl"/>
<circle cx="393.92" cy="184.76" r="1.22" class="pp"/>
<circle cx="393.92" cy="145.88" r="1.22" class="pp"/>
<circle cx="393.92" cy="167.25" r="1.22" class="pp"/>
<circle cx="394.42" cy="162.06" r="1.22" class="pp"/>
<circle cx="393.42" cy="158.34" r="1.22" class="pp"/>
<circle cx="394.17" cy="154.92" r="1.22" class="pp"/>
<circle cx="393.67" cy="151.51" r="1.22" class="pp"/>
<circle cx="393.92" cy="147.94" r="1.22" class="pp"/>
<path d="M402.77,170.99 L402.95,170.31 L403.13,169.64 L403.31,168.97 L403.49,168.29 L403.66,167.62 L403.81,166.94 L403.96,166.27 L404.09,165.59 L404.2,164.92 L404.29,164.24 L404.36,163.56 L404.42,162.89 L404.46,162.22 L404.49,161.54 L404.51,160.87 L404.51,160.19 L404.52,159.52 L404.52,158.84 L404.52,158.17 L404.52,157.49 L404.51,156.81 L404.49,156.14 L404.47,155.47 L404.44,154.79 L404.39,154.12 L404.34,153.44 L404.26,152.77 L404.17,152.09 L404.07,151.42 L403.95,150.74 L403.81,150.06 L403.67,149.39 L403.51,148.72 L403.35,148.04 L403.18,147.37 L403.02,146.69 L400.42,146.69 L400.25,147.37 L400.09,148.04 L399.92,148.72 L399.77,149.39 L399.62,150.06 L399.49,150.74 L399.37,151.42 L399.26,152.09 L399.17,152.77 L399.1,153.44 L399.04,154.12 L399,154.79 L398.96,155.47 L398.94,156.14 L398.93,156.81 L398.92,157.49 L398.92,158.17 L398.92,158.84 L398.92,159.52 L398.92,160.19 L398.93,160.87 L398.95,161.54 L398.98,162.22 L399.02,162.89 L399.07,163.56 L399.15,164.24 L399.24,164.92 L399.35,165.59 L399.48,166.27 L399.62,166.94 L399.78,167.62 L399.95,168.29 L400.13,168.97 L400.31,169.64 L400.49,170.31 L400.66,170.99Z" fill="#F06A12" class="vl"/>
<circle cx="401.72" cy="170.99" r="1.22" class="pp"/>
<circle cx="401.72" cy="146.69" r="1.22" class="pp"/>
<circle cx="401.72" cy="167.82" r="1.22" class="pp"/>
<circle cx="402.22" cy="163.75" r="1.22" class="pp"/>
<circle cx="401.22" cy="160.32" r="1.22" class="pp"/>
<circle cx="401.97" cy="156.96" r="1.22" class="pp"/>
<circle cx="401.47" cy="153.53" r="1.22" class="pp"/>
<circle cx="401.72" cy="149.53" r="1.22" class="pp"/>
<text x="408.5" y="131.4" class="pt"><tspan font-style="italic">Rikenellaceae</tspan></text>
<text class="yl" font-size="5.8" transform="translate(415,176.8) rotate(-90)" x="0" y="0">log2(fold change vs NSC)</text>
<line x1="426.3" y1="142.8" x2="426.3" y2="210.2" class="ax"/>
<line x1="424.9" y1="210.75" x2="426.3" y2="210.75" class="tk"/>
<text x="424.3" y="212.95" class="tl">-2</text>
<line x1="424.9" y1="190" x2="426.3" y2="190" class="tk"/>
<text x="424.3" y="192.2" class="tl">0</text>
<line x1="424.9" y1="169.25" x2="426.3" y2="169.25" class="tk"/>
<text x="424.3" y="171.45" class="tl">2</text>
<line x1="424.9" y1="148.5" x2="426.3" y2="148.5" class="tk"/>
<text x="424.3" y="150.7" class="tl">4</text>
<rect x="426.6" y="134.1" width="16.57" height="8.4" fill="#fff" class="sb"/>
<text x="434.88" y="140.4" class="st">NSC</text>
<line x1="426.3" y1="210.2" x2="443.47" y2="210.2" class="ax"/>
<line x1="430.98" y1="210.2" x2="430.98" y2="211.6" class="tk"/>
<text class="xl" transform="translate(431.13,216.4) scale(1,1.12)">P</text>
<line x1="438.78" y1="210.2" x2="438.78" y2="211.6" class="tk"/>
<text class="xl" transform="translate(438.78,216.4) scale(1,1.12)">BF</text>
<line x1="428.58" y1="190" x2="433.38" y2="190" stroke="#333" stroke-width="0.7"/>
<circle cx="431.18" cy="190.2" r="1.3" class="pt0"/>
<line x1="436.38" y1="190" x2="441.18" y2="190" stroke="#333" stroke-width="0.7"/>
<circle cx="438.98" cy="190.2" r="1.3" class="pt0"/>
<rect x="445.67" y="134.1" width="16.57" height="8.4" fill="#fff" class="sb"/>
<text x="453.95" y="140.4" class="st">IN</text>
<line x1="445.37" y1="210.2" x2="462.53" y2="210.2" class="ax"/>
<line x1="450.05" y1="210.2" x2="450.05" y2="211.6" class="tk"/>
<text class="xl" transform="translate(450.2,216.4) scale(1,1.12)">P</text>
<line x1="457.85" y1="210.2" x2="457.85" y2="211.6" class="tk"/>
<text class="xl" transform="translate(457.85,216.4) scale(1,1.12)">BF</text>
<path d="M451.49,205.56 L451.78,204.76 L452.08,203.95 L452.35,203.14 L452.58,202.33 L452.77,201.53 L452.91,200.72 L453,199.91 L453.04,199.11 L453.05,198.3 L453.05,197.49 L453.03,196.69 L453,195.88 L452.94,195.07 L452.87,194.27 L452.77,193.46 L452.65,192.65 L452.51,191.84 L452.35,191.04 L452.17,190.23 L451.98,189.42 L451.78,188.62 L451.59,187.81 L451.39,187 L451.25,186.2 L451.25,185.39 L451.25,184.58 L451.25,183.78 L451.25,182.97 L451.25,182.16 L451.25,181.35 L451.25,180.55 L451.25,179.74 L451.25,178.93 L451.25,178.13 L451.25,177.32 L451.25,176.51 L448.85,176.51 L448.85,177.32 L448.85,178.13 L448.85,178.93 L448.85,179.74 L448.85,180.55 L448.85,181.35 L448.85,182.16 L448.85,182.97 L448.85,183.78 L448.85,184.58 L448.85,185.39 L448.85,186.2 L448.71,187 L448.51,187.81 L448.31,188.62 L448.12,189.42 L447.93,190.23 L447.75,191.04 L447.59,191.84 L447.45,192.65 L447.33,193.46 L447.23,194.27 L447.15,195.07 L447.1,195.88 L447.07,196.69 L447.05,197.49 L447.05,198.3 L447.06,199.11 L447.1,199.91 L447.19,200.72 L447.33,201.53 L447.52,202.33 L447.75,203.14 L448.02,203.95 L448.31,204.76 L448.61,205.56Z" fill="#14AD7C" class="vl"/>
<circle cx="450.05" cy="205.56" r="1.22" class="pp"/>
<circle cx="450.05" cy="176.51" r="1.22" class="pp"/>
<circle cx="450.05" cy="180.66" r="1.22" class="pp"/>
<circle cx="450.05" cy="185.85" r="1.22" class="pp"/>
<circle cx="450.05" cy="203.28" r="1.22" class="pp"/>
<circle cx="450.55" cy="200.09" r="1.22" class="pp"/>
<circle cx="449.55" cy="197.25" r="1.22" class="pp"/>
<circle cx="450.3" cy="194.36" r="1.22" class="pp"/>
<circle cx="449.8" cy="191.1" r="1.22" class="pp"/>
<circle cx="450.05" cy="186.25" r="1.22" class="pp"/>
<path d="M459.67,206.6 L459.96,205.56 L460.22,204.53 L460.44,203.49 L460.61,202.45 L460.72,201.41 L460.8,200.38 L460.84,199.34 L460.85,198.3 L460.85,197.26 L460.85,196.22 L460.82,195.19 L460.76,194.15 L460.63,193.11 L460.44,192.07 L460.17,191.04 L459.85,190 L459.49,188.96 L459.12,187.93 L458.95,186.89 L458.95,185.85 L458.95,184.81 L458.95,183.78 L458.95,182.74 L458.95,181.7 L458.95,180.66 L458.95,179.62 L458.95,178.59 L458.95,177.55 L458.95,176.51 L458.95,175.47 L458.95,174.44 L458.95,173.4 L458.95,172.36 L458.95,171.32 L458.95,170.29 L458.95,169.25 L456.75,169.25 L456.75,170.29 L456.75,171.32 L456.75,172.36 L456.75,173.4 L456.75,174.44 L456.75,175.47 L456.75,176.51 L456.75,177.55 L456.75,178.59 L456.75,179.62 L456.75,180.66 L456.75,181.7 L456.75,182.74 L456.75,183.78 L456.75,184.81 L456.75,185.85 L456.75,186.89 L456.59,187.93 L456.22,188.96 L455.85,190 L455.53,191.04 L455.26,192.07 L455.07,193.11 L454.95,194.15 L454.88,195.19 L454.86,196.22 L454.85,197.26 L454.85,198.3 L454.87,199.34 L454.91,200.38 L454.98,201.41 L455.1,202.45 L455.26,203.49 L455.48,204.53 L455.74,205.56 L456.03,206.6Z" fill="#F06A12" class="vl"/>
<circle cx="457.85" cy="206.6" r="1.22" class="pp"/>
<circle cx="457.85" cy="169.25" r="1.22" class="pp"/>
<circle cx="457.85" cy="174.44" r="1.22" class="pp"/>
<circle cx="457.85" cy="179.62" r="1.22" class="pp"/>
<circle cx="457.85" cy="184.81" r="1.22" class="pp"/>
<circle cx="457.85" cy="204.56" r="1.22" class="pp"/>
<circle cx="458.35" cy="201.34" r="1.22" class="pp"/>
<circle cx="457.35" cy="198.44" r="1.22" class="pp"/>
<circle cx="458.1" cy="195.58" r="1.22" class="pp"/>
<circle cx="457.6" cy="192.6" r="1.22" class="pp"/>
<circle cx="457.85" cy="188.65" r="1.22" class="pp"/>
<rect x="464.73" y="134.1" width="16.57" height="8.4" fill="#fff" class="sb"/>
<text x="473.02" y="140.4" class="st">DP2</text>
<line x1="464.43" y1="210.2" x2="481.6" y2="210.2" class="ax"/>
<line x1="469.12" y1="210.2" x2="469.12" y2="211.6" class="tk"/>
<text class="xl" transform="translate(469.27,216.4) scale(1,1.12)">P</text>
<line x1="476.92" y1="210.2" x2="476.92" y2="211.6" class="tk"/>
<text class="xl" transform="translate(476.92,216.4) scale(1,1.12)">BF</text>
<path d="M469.92,202.45 L469.92,201.92 L469.92,201.38 L469.92,200.85 L469.92,200.32 L469.92,199.78 L469.92,199.25 L469.92,198.72 L469.92,198.18 L469.92,197.65 L469.92,197.12 L469.92,196.59 L469.92,196.05 L470.06,195.52 L470.22,194.99 L470.38,194.45 L470.54,193.92 L470.71,193.39 L470.86,192.85 L471.01,192.32 L471.15,191.79 L471.27,191.25 L471.37,190.72 L471.45,190.19 L471.52,189.65 L471.57,189.12 L471.6,188.59 L471.61,188.05 L471.62,187.52 L471.61,186.99 L471.58,186.46 L471.52,185.92 L471.42,185.39 L471.27,184.86 L471.09,184.32 L470.87,183.79 L470.63,183.26 L467.6,183.26 L467.36,183.79 L467.14,184.32 L466.96,184.86 L466.81,185.39 L466.71,185.92 L466.65,186.46 L466.62,186.99 L466.62,187.52 L466.62,188.05 L466.63,188.59 L466.66,189.12 L466.71,189.65 L466.78,190.19 L466.86,190.72 L466.96,191.25 L467.08,191.79 L467.22,192.32 L467.37,192.85 L467.52,193.39 L467.69,193.92 L467.85,194.45 L468.01,194.99 L468.17,195.52 L468.31,196.05 L468.32,196.59 L468.32,197.12 L468.32,197.65 L468.32,198.18 L468.32,198.72 L468.32,199.25 L468.32,199.78 L468.32,200.32 L468.32,200.85 L468.32,201.38 L468.32,201.92 L468.32,202.45Z" fill="#14AD7C" class="vl"/>
<circle cx="469.12" cy="202.45" r="1.22" class="pp"/>
<circle cx="469.12" cy="183.26" r="1.22" class="pp"/>
<circle cx="469.12" cy="195.54" r="1.22" class="pp"/>
<circle cx="469.62" cy="192.34" r="1.22" class="pp"/>
<circle cx="468.62" cy="190.21" r="1.22" class="pp"/>
<circle cx="469.37" cy="188.33" r="1.22" class="pp"/>
<circle cx="468.87" cy="186.5" r="1.22" class="pp"/>
<circle cx="469.12" cy="184.53" r="1.22" class="pp"/>
<line x1="476.92" y1="197.26" x2="476.92" y2="196.66" class="tl2"/>
<path d="M477.3,196.66 L477.42,196.05 L477.56,195.45 L477.72,194.84 L477.89,194.24 L478.09,193.63 L478.29,193.03 L478.5,192.42 L478.7,191.82 L478.9,191.21 L479.09,190.61 L479.25,190 L479.4,189.39 L479.51,188.79 L479.6,188.18 L479.66,187.58 L479.7,186.97 L479.72,186.37 L479.72,185.76 L479.71,185.16 L479.68,184.55 L479.63,183.95 L479.54,183.34 L479.43,182.74 L479.28,182.13 L479.1,181.53 L478.9,180.92 L478.68,180.32 L478.45,179.71 L478.23,179.11 L478.01,178.5 L477.81,177.9 L477.62,177.29 L477.46,176.69 L477.33,176.08 L477.22,175.47 L476.62,175.47 L476.51,176.08 L476.37,176.69 L476.21,177.29 L476.03,177.9 L475.83,178.5 L475.61,179.11 L475.38,179.71 L475.16,180.32 L474.94,180.92 L474.74,181.53 L474.56,182.13 L474.41,182.74 L474.29,183.34 L474.21,183.95 L474.15,184.55 L474.13,185.16 L474.12,185.76 L474.12,186.37 L474.14,186.97 L474.17,187.58 L474.24,188.18 L474.32,188.79 L474.44,189.39 L474.58,190 L474.75,190.61 L474.93,191.21 L475.13,191.82 L475.34,192.42 L475.55,193.03 L475.75,193.63 L475.94,194.24 L476.12,194.84 L476.28,195.45 L476.42,196.05 L476.53,196.66Z" fill="#F06A12" class="vl"/>
<circle cx="476.92" cy="197.26" r="1.22" class="pp"/>
<circle cx="476.92" cy="175.47" r="1.22" class="pp"/>
<circle cx="476.92" cy="193.06" r="1.22" class="pp"/>
<circle cx="477.42" cy="189.73" r="1.22" class="pp"/>
<circle cx="476.42" cy="187.3" r="1.22" class="pp"/>
<circle cx="477.17" cy="185.01" r="1.22" class="pp"/>
<circle cx="476.67" cy="182.63" r="1.22" class="pp"/>
<circle cx="476.92" cy="179.45" r="1.22" class="pp"/>
<rect x="483.8" y="134.1" width="16.57" height="8.4" fill="#fff" class="sb"/>
<text x="492.08" y="140.4" class="st">SBI2</text>
<line x1="483.5" y1="210.2" x2="500.67" y2="210.2" class="ax"/>
<line x1="488.18" y1="210.2" x2="488.18" y2="211.6" class="tk"/>
<text class="xl" transform="translate(488.33,216.4) scale(1,1.12)">P</text>
<line x1="495.98" y1="210.2" x2="495.98" y2="211.6" class="tk"/>
<text class="xl" transform="translate(495.98,216.4) scale(1,1.12)">BF</text>
<path d="M489.7,194.15 L489.86,193.66 L490.01,193.17 L490.15,192.68 L490.26,192.19 L490.36,191.7 L490.45,191.21 L490.51,190.72 L490.57,190.23 L490.6,189.74 L490.63,189.25 L490.65,188.76 L490.67,188.27 L490.67,187.78 L490.68,187.29 L490.68,186.8 L490.68,186.31 L490.68,185.82 L490.68,185.33 L490.68,184.84 L490.68,184.35 L490.68,183.86 L490.68,183.37 L490.67,182.88 L490.67,182.39 L490.65,181.9 L490.63,181.41 L490.6,180.92 L490.57,180.43 L490.51,179.94 L490.45,179.45 L490.36,178.96 L490.26,178.47 L490.15,177.98 L490.01,177.49 L489.86,177 L489.7,176.51 L486.67,176.51 L486.5,177 L486.35,177.49 L486.22,177.98 L486.1,178.47 L486,178.96 L485.92,179.45 L485.85,179.94 L485.8,180.43 L485.76,180.92 L485.73,181.41 L485.71,181.9 L485.7,182.39 L485.69,182.88 L485.68,183.37 L485.68,183.86 L485.68,184.35 L485.68,184.84 L485.68,185.33 L485.68,185.82 L485.68,186.31 L485.68,186.8 L485.68,187.29 L485.69,187.78 L485.7,188.27 L485.71,188.76 L485.73,189.25 L485.76,189.74 L485.8,190.23 L485.85,190.72 L485.92,191.21 L486,191.7 L486.1,192.19 L486.22,192.68 L486.35,193.17 L486.5,193.66 L486.67,194.15Z" fill="#14AD7C" class="vl"/>
<circle cx="488.18" cy="194.15" r="1.22" class="pp"/>
<circle cx="488.18" cy="176.51" r="1.22" class="pp"/>
<circle cx="488.18" cy="192.29" r="1.22" class="pp"/>
<circle cx="488.68" cy="189.37" r="1.22" class="pp"/>
<circle cx="487.68" cy="186.67" r="1.22" class="pp"/>
<circle cx="488.43" cy="183.99" r="1.22" class="pp"/>
<circle cx="487.93" cy="181.29" r="1.22" class="pp"/>
<circle cx="488.18" cy="178.37" r="1.22" class="pp"/>
<path d="M497.56,196.22 L497.73,195.74 L497.89,195.25 L498.03,194.76 L498.15,194.27 L498.25,193.78 L498.34,193.29 L498.41,192.8 L498.46,192.31 L498.5,191.82 L498.53,191.33 L498.56,190.84 L498.57,190.35 L498.58,189.86 L498.58,189.37 L498.58,188.88 L498.58,188.39 L498.58,187.9 L498.58,187.41 L498.58,186.92 L498.58,186.43 L498.58,185.94 L498.58,185.45 L498.58,184.96 L498.57,184.47 L498.56,183.98 L498.53,183.49 L498.5,183 L498.46,182.51 L498.41,182.02 L498.34,181.53 L498.25,181.04 L498.15,180.55 L498.03,180.06 L497.89,179.57 L497.73,179.08 L497.56,178.59 L494.41,178.59 L494.24,179.08 L494.08,179.57 L493.94,180.06 L493.82,180.55 L493.72,181.04 L493.63,181.53 L493.56,182.02 L493.51,182.51 L493.46,183 L493.44,183.49 L493.41,183.98 L493.4,184.47 L493.39,184.96 L493.39,185.45 L493.39,185.94 L493.39,186.43 L493.38,186.92 L493.38,187.41 L493.38,187.9 L493.39,188.39 L493.39,188.88 L493.39,189.37 L493.39,189.86 L493.4,190.35 L493.41,190.84 L493.44,191.33 L493.46,191.82 L493.51,192.31 L493.56,192.8 L493.63,193.29 L493.72,193.78 L493.82,194.27 L493.94,194.76 L494.08,195.25 L494.24,195.74 L494.41,196.22Z" fill="#F06A12" class="vl"/>
<circle cx="495.98" cy="196.22" r="1.22" class="pp"/>
<circle cx="495.98" cy="178.59" r="1.22" class="pp"/>
<circle cx="495.98" cy="194.37" r="1.22" class="pp"/>
<circle cx="496.48" cy="191.45" r="1.22" class="pp"/>
<circle cx="495.48" cy="188.75" r="1.22" class="pp"/>
<circle cx="496.23" cy="186.06" r="1.22" class="pp"/>
<circle cx="495.73" cy="183.36" r="1.22" class="pp"/>
<circle cx="495.98" cy="180.44" r="1.22" class="pp"/>
<rect x="502.87" y="134.1" width="16.57" height="8.4" fill="#fff" class="sb"/>
<text x="511.15" y="140.4" class="st">DP5</text>
<line x1="502.57" y1="210.2" x2="519.73" y2="210.2" class="ax"/>
<line x1="507.25" y1="210.2" x2="507.25" y2="211.6" class="tk"/>
<text class="xl" transform="translate(507.4,216.4) scale(1,1.12)">P</text>
<line x1="515.05" y1="210.2" x2="515.05" y2="211.6" class="tk"/>
<text class="xl" transform="translate(515.05,216.4) scale(1,1.12)">BF</text>
<path d="M508.89,196.22 L509.19,195.36 L509.46,194.5 L509.69,193.63 L509.86,192.77 L509.94,191.9 L509.94,191.04 L509.85,190.17 L509.71,189.31 L509.5,188.44 L509.26,187.58 L509,186.71 L508.72,185.85 L508.46,184.99 L508.22,184.12 L508,183.26 L507.95,182.39 L507.95,181.53 L507.95,180.66 L507.95,179.8 L507.95,178.93 L507.95,178.07 L507.95,177.2 L507.95,176.34 L507.95,175.47 L507.95,174.61 L507.95,173.75 L507.95,172.88 L507.95,172.02 L507.95,171.15 L507.95,170.29 L507.95,169.42 L507.95,168.56 L507.95,167.69 L507.95,166.83 L507.95,165.96 L507.95,165.1 L506.55,165.1 L506.55,165.96 L506.55,166.83 L506.55,167.69 L506.55,168.56 L506.55,169.42 L506.55,170.29 L506.55,171.15 L506.55,172.02 L506.55,172.88 L506.55,173.75 L506.55,174.61 L506.55,175.47 L506.55,176.34 L506.55,177.2 L506.55,178.07 L506.55,178.93 L506.55,179.8 L506.55,180.66 L506.55,181.53 L506.55,182.39 L506.5,183.26 L506.28,184.12 L506.04,184.99 L505.77,185.85 L505.5,186.71 L505.24,187.58 L504.99,188.44 L504.79,189.31 L504.64,190.17 L504.56,191.04 L504.56,191.9 L504.64,192.77 L504.8,193.63 L505.03,194.5 L505.31,195.36 L505.61,196.22Z" fill="#14AD7C" class="vl"/>
<circle cx="507.25" cy="196.22" r="1.22" class="pp"/>
<circle cx="507.25" cy="165.1" r="1.22" class="pp"/>
<circle cx="507.25" cy="173.4" r="1.22" class="pp"/>
<circle cx="507.25" cy="180.66" r="1.22" class="pp"/>
<circle cx="507.25" cy="194.95" r="1.22" class="pp"/>
<circle cx="507.75" cy="192.93" r="1.22" class="pp"/>
<circle cx="506.75" cy="191.15" r="1.22" class="pp"/>
<circle cx="507.5" cy="189.31" r="1.22" class="pp"/>
<circle cx="507" cy="187.14" r="1.22" class="pp"/>
<circle cx="507.25" cy="183.59" r="1.22" class="pp"/>
<line x1="515.05" y1="205.56" x2="515.05" y2="198.65" class="tl2"/>
<path d="M515.37,198.65 L515.48,198.07 L515.62,197.49 L515.78,196.92 L515.97,196.34 L516.17,195.76 L516.38,195.19 L516.59,194.61 L516.79,194.03 L516.98,193.46 L517.15,192.88 L517.29,192.31 L517.4,191.73 L517.48,191.15 L517.53,190.58 L517.55,190 L517.55,189.42 L517.54,188.85 L517.49,188.27 L517.4,187.69 L517.26,187.12 L517.08,186.54 L516.85,185.97 L516.59,185.39 L516.33,184.81 L513.77,184.81 L513.51,185.39 L513.25,185.97 L513.03,186.54 L512.84,187.12 L512.7,187.69 L512.61,188.27 L512.56,188.85 L512.55,189.42 L512.56,190 L512.58,190.58 L512.62,191.15 L512.7,191.73 L512.81,192.31 L512.95,192.88 L513.12,193.46 L513.31,194.03 L513.51,194.61 L513.73,195.19 L513.94,195.76 L514.14,196.34 L514.32,196.92 L514.48,197.49 L514.62,198.07 L514.74,198.65Z" fill="#F06A12" class="vl"/>
<circle cx="515.05" cy="205.56" r="1.22" class="pp"/>
<circle cx="515.05" cy="184.81" r="1.22" class="pp"/>
<circle cx="515.05" cy="196.13" r="1.22" class="pp"/>
<circle cx="515.55" cy="193.33" r="1.22" class="pp"/>
<circle cx="514.55" cy="191.43" r="1.22" class="pp"/>
<circle cx="515.3" cy="189.74" r="1.22" class="pp"/>
<circle cx="514.8" cy="188.05" r="1.22" class="pp"/>
<circle cx="515.05" cy="186.13" r="1.22" class="pp"/>
<rect x="521.93" y="134.1" width="16.57" height="8.4" fill="#0AD6F0" class="sb"/>
<text x="530.22" y="140.4" class="st">SBI5</text>
<line x1="521.63" y1="210.2" x2="538.8" y2="210.2" class="ax"/>
<line x1="526.32" y1="210.2" x2="526.32" y2="211.6" class="tk"/>
<text class="xl" transform="translate(526.47,216.4) scale(1,1.12)">P</text>
<line x1="534.12" y1="210.2" x2="534.12" y2="211.6" class="tk"/>
<text class="xl" transform="translate(534.12,216.4) scale(1,1.12)">BF</text>
<path d="M527.12,198.3 L527.12,196.86 L527.12,195.42 L527.28,193.98 L527.62,192.54 L528,191.1 L528.38,189.65 L528.74,188.21 L529.05,186.77 L529.29,185.33 L529.45,183.89 L529.54,182.45 L529.56,181.01 L529.56,179.57 L529.53,178.13 L529.45,176.69 L529.32,175.24 L529.14,173.8 L528.91,172.36 L528.64,170.92 L528.34,169.48 L528.02,168.04 L527.71,166.6 L527.42,165.16 L527.16,163.72 L527.12,162.28 L527.12,160.83 L527.12,159.39 L527.12,157.95 L527.12,156.51 L527.12,155.07 L527.12,153.63 L527.12,152.19 L527.12,150.75 L527.12,149.31 L527.12,147.87 L527.12,146.43 L525.52,146.43 L525.52,147.87 L525.52,149.31 L525.52,150.75 L525.52,152.19 L525.52,153.63 L525.52,155.07 L525.52,156.51 L525.52,157.95 L525.52,159.39 L525.52,160.83 L525.52,162.28 L525.47,163.72 L525.21,165.16 L524.92,166.6 L524.61,168.04 L524.29,169.48 L523.99,170.92 L523.72,172.36 L523.49,173.8 L523.31,175.24 L523.18,176.69 L523.1,178.13 L523.07,179.57 L523.07,181.01 L523.09,182.45 L523.18,183.89 L523.34,185.33 L523.58,186.77 L523.89,188.21 L524.25,189.65 L524.63,191.1 L525.01,192.54 L525.35,193.98 L525.52,195.42 L525.52,196.86 L525.52,198.3Z" fill="#14AD7C" class="vl"/>
<circle cx="526.32" cy="198.3" r="1.22" class="pp"/>
<circle cx="526.32" cy="146.43" r="1.22" class="pp"/>
<circle cx="526.32" cy="155.76" r="1.22" class="pp"/>
<circle cx="526.32" cy="163.03" r="1.22" class="pp"/>
<circle cx="526.32" cy="190.97" r="1.22" class="pp"/>
<circle cx="526.82" cy="185.49" r="1.22" class="pp"/>
<circle cx="525.82" cy="181.33" r="1.22" class="pp"/>
<circle cx="526.57" cy="177.28" r="1.22" class="pp"/>
<circle cx="526.07" cy="172.86" r="1.22" class="pp"/>
<circle cx="526.32" cy="166.48" r="1.22" class="pp"/>
<path d="M535.12,204.53 L535.12,203.52 L535.12,202.51 L535.12,201.5 L535.12,200.49 L535.12,199.48 L535.12,198.47 L535.12,197.46 L535.12,196.46 L535.12,195.45 L535.12,194.44 L535.12,193.43 L535.12,192.42 L535.12,191.41 L535.12,190.4 L535.13,189.39 L535.4,188.39 L535.68,187.38 L535.96,186.37 L536.21,185.36 L536.43,184.35 L536.6,183.34 L536.74,182.33 L536.83,181.33 L536.88,180.32 L536.91,179.31 L536.92,178.3 L536.92,177.29 L536.91,176.28 L536.89,175.27 L536.83,174.26 L536.73,173.26 L536.58,172.25 L536.37,171.24 L536.11,170.23 L535.81,169.22 L535.49,168.21 L532.74,168.21 L532.43,169.22 L532.13,170.23 L531.87,171.24 L531.66,172.25 L531.51,173.26 L531.4,174.26 L531.35,175.27 L531.32,176.28 L531.32,177.29 L531.32,178.3 L531.33,179.31 L531.35,180.32 L531.41,181.33 L531.5,182.33 L531.63,183.34 L531.81,184.35 L532.03,185.36 L532.28,186.37 L532.56,187.38 L532.84,188.39 L533.11,189.39 L533.12,190.4 L533.12,191.41 L533.12,192.42 L533.12,193.43 L533.12,194.44 L533.12,195.45 L533.12,196.46 L533.12,197.46 L533.12,198.47 L533.12,199.48 L533.12,200.49 L533.12,201.5 L533.12,202.51 L533.12,203.52 L533.12,204.53Z" fill="#F06A12" class="vl"/>
<circle cx="534.12" cy="204.53" r="1.22" class="pp"/>
<circle cx="534.12" cy="168.21" r="1.22" class="pp"/>
<circle cx="534.12" cy="197.26" r="1.22" class="pp"/>
<circle cx="534.12" cy="200.38" r="1.22" class="pp"/>
<circle cx="534.12" cy="188.18" r="1.22" class="pp"/>
<circle cx="534.62" cy="183.7" r="1.22" class="pp"/>
<circle cx="533.62" cy="180.41" r="1.22" class="pp"/>
<circle cx="534.37" cy="177.31" r="1.22" class="pp"/>
<circle cx="533.87" cy="174.19" r="1.22" class="pp"/>
<circle cx="534.12" cy="170.68" r="1.22" class="pp"/>
<text x="9.7" y="225" class="pt">Valerate</text>
<text class="yl" font-size="5.8" transform="translate(9.7,270.9) rotate(-90)" x="0" y="0">Valerate change vs NSC (%)</text>
<line x1="26.3" y1="236.6" x2="26.3" y2="304.6" class="ax"/>
<line x1="24.9" y1="301.7" x2="26.3" y2="301.7" class="tk"/>
<text x="24.3" y="303.9" class="tl">-100</text>
<line x1="24.9" y1="277.9" x2="26.3" y2="277.9" class="tk"/>
<text x="24.3" y="280.1" class="tl">0</text>
<line x1="24.9" y1="254.1" x2="26.3" y2="254.1" class="tk"/>
<text x="24.3" y="256.3" class="tl">100</text>
<rect x="26.6" y="227.9" width="15.57" height="8.4" fill="#fff" class="sb"/>
<text x="34.38" y="234.2" class="st">NSC</text>
<line x1="26.3" y1="304.6" x2="42.47" y2="304.6" class="ax"/>
<line x1="30.71" y1="304.6" x2="30.71" y2="306" class="tk"/>
<text class="xl" transform="translate(30.86,310.8) scale(1,1.12)">P</text>
<line x1="38.06" y1="304.6" x2="38.06" y2="306" class="tk"/>
<text class="xl" transform="translate(38.06,310.8) scale(1,1.12)">BF</text>
<line x1="28.31" y1="277.9" x2="33.11" y2="277.9" stroke="#333" stroke-width="0.7"/>
<circle cx="30.91" cy="278.1" r="1.3" class="pt0"/>
<line x1="35.66" y1="277.9" x2="40.46" y2="277.9" stroke="#333" stroke-width="0.7"/>
<circle cx="38.26" cy="278.1" r="1.3" class="pt0"/>
<rect x="44.67" y="227.9" width="15.57" height="8.4" fill="#fff" class="sb"/>
<text x="52.45" y="234.2" class="st">IN</text>
<line x1="44.37" y1="304.6" x2="60.53" y2="304.6" class="ax"/>
<line x1="48.78" y1="304.6" x2="48.78" y2="306" class="tk"/>
<text class="xl" transform="translate(48.93,310.8) scale(1,1.12)">P</text>
<line x1="56.12" y1="304.6" x2="56.12" y2="306" class="tk"/>
<text class="xl" transform="translate(56.12,310.8) scale(1,1.12)">BF</text>
<path d="M49.38,279.09 L49.38,278.81 L49.38,278.53 L49.38,278.26 L49.38,277.98 L49.38,277.7 L49.38,277.42 L49.42,277.15 L49.55,276.87 L49.69,276.59 L49.84,276.31 L50,276.04 L50.16,275.76 L50.31,275.48 L50.47,275.2 L50.62,274.92 L50.75,274.65 L50.88,274.37 L50.99,274.09 L51.08,273.81 L51.15,273.54 L51.2,273.26 L51.24,272.98 L51.26,272.7 L51.27,272.43 L51.28,272.15 L51.27,271.87 L51.23,271.59 L51.15,271.32 L51.03,271.04 L50.86,270.76 L50.66,270.48 L50.43,270.2 L50.19,269.93 L49.94,269.65 L49.7,269.37 L49.49,269.09 L48.06,269.09 L47.85,269.37 L47.61,269.65 L47.37,269.93 L47.12,270.2 L46.89,270.48 L46.69,270.76 L46.53,271.04 L46.4,271.32 L46.33,271.59 L46.29,271.87 L46.28,272.15 L46.28,272.43 L46.29,272.7 L46.31,272.98 L46.35,273.26 L46.4,273.54 L46.48,273.81 L46.57,274.09 L46.67,274.37 L46.8,274.65 L46.93,274.92 L47.08,275.2 L47.24,275.48 L47.4,275.76 L47.55,276.04 L47.71,276.31 L47.86,276.59 L48,276.87 L48.13,277.15 L48.18,277.42 L48.18,277.7 L48.18,277.98 L48.18,278.26 L48.18,278.53 L48.18,278.81 L48.18,279.09Z" fill="#14AD7C" class="vl"/>
<circle cx="48.78" cy="279.09" r="1.1" class="pp"/>
<circle cx="48.78" cy="269.09" r="1.1" class="pp"/>
<circle cx="48.78" cy="277.24" r="1.1" class="pp"/>
<circle cx="49.28" cy="275.96" r="1.1" class="pp"/>
<circle cx="48.28" cy="275.17" r="1.1" class="pp"/>
<circle cx="49.03" cy="274.53" r="1.1" class="pp"/>
<circle cx="48.53" cy="273.98" r="1.1" class="pp"/>
<circle cx="48.78" cy="273.47" r="1.1" class="pp"/>
<circle cx="49.28" cy="272.98" r="1.1" class="pp"/>
<circle cx="48.28" cy="272.5" r="1.1" class="pp"/>
<circle cx="49.03" cy="272.03" r="1.1" class="pp"/>
<circle cx="48.53" cy="271.55" r="1.1" class="pp"/>
<circle cx="48.78" cy="271.04" r="1.1" class="pp"/>
<circle cx="49.28" cy="270.47" r="1.1" class="pp"/>
<circle cx="48.28" cy="269.71" r="1.1" class="pp"/>
<line x1="56.12" y1="286.47" x2="56.12" y2="284.76" class="tl2"/>
<line x1="56.12" y1="267.71" x2="56.12" y2="266" class="tl2"/>
<path d="M56.51,284.76 L56.66,284.19 L56.82,283.63 L57.02,283.06 L57.23,282.49 L57.46,281.92 L57.69,281.35 L57.91,280.78 L58.11,280.21 L58.28,279.65 L58.42,279.08 L58.52,278.51 L58.58,277.94 L58.62,277.37 L58.62,276.8 L58.62,276.23 L58.6,275.67 L58.56,275.1 L58.49,274.53 L58.39,273.96 L58.25,273.39 L58.1,272.82 L57.91,272.25 L57.72,271.69 L57.51,271.12 L57.3,270.55 L57.1,269.98 L56.92,269.41 L56.75,268.84 L56.61,268.27 L56.48,267.71 L55.76,267.71 L55.64,268.27 L55.5,268.84 L55.33,269.41 L55.14,269.98 L54.94,270.55 L54.74,271.12 L54.53,271.69 L54.33,272.25 L54.15,272.82 L53.99,273.39 L53.86,273.96 L53.76,274.53 L53.69,275.1 L53.65,275.67 L53.63,276.23 L53.62,276.8 L53.63,277.37 L53.67,277.94 L53.73,278.51 L53.83,279.08 L53.97,279.65 L54.14,280.21 L54.34,280.78 L54.56,281.35 L54.79,281.92 L55.01,282.49 L55.23,283.06 L55.42,283.63 L55.59,284.19 L55.74,284.76Z" fill="#F06A12" class="vl"/>
<circle cx="56.12" cy="286.47" r="1.1" class="pp"/>
<circle cx="56.12" cy="266" r="1.1" class="pp"/>
<circle cx="56.12" cy="283.52" r="1.1" class="pp"/>
<circle cx="56.62" cy="281.51" r="1.1" class="pp"/>
<circle cx="55.62" cy="280.23" r="1.1" class="pp"/>
<circle cx="56.37" cy="279.18" r="1.1" class="pp"/>
<circle cx="55.87" cy="278.23" r="1.1" class="pp"/>
<circle cx="56.12" cy="277.33" r="1.1" class="pp"/>
<circle cx="56.62" cy="276.43" r="1.1" class="pp"/>
<circle cx="55.62" cy="275.54" r="1.1" class="pp"/>
<circle cx="56.37" cy="274.62" r="1.1" class="pp"/>
<circle cx="55.87" cy="273.64" r="1.1" class="pp"/>
<circle cx="56.12" cy="272.55" r="1.1" class="pp"/>
<circle cx="56.62" cy="271.21" r="1.1" class="pp"/>
<circle cx="55.62" cy="269.07" r="1.1" class="pp"/>
<rect x="62.73" y="227.9" width="15.57" height="8.4" fill="#fff" class="sb"/>
<text x="70.52" y="234.2" class="st">DP2</text>
<line x1="62.43" y1="304.6" x2="78.6" y2="304.6" class="ax"/>
<line x1="66.84" y1="304.6" x2="66.84" y2="306" class="tk"/>
<text class="xl" transform="translate(66.99,310.8) scale(1,1.12)">P</text>
<line x1="74.19" y1="304.6" x2="74.19" y2="306" class="tk"/>
<text class="xl" transform="translate(74.19,310.8) scale(1,1.12)">BF</text>
<path d="M67.63,274.09 L67.82,273.95 L68.02,273.81 L68.22,273.68 L68.4,273.54 L68.58,273.4 L68.73,273.26 L68.86,273.12 L68.97,272.98 L69.05,272.84 L69.12,272.7 L69.16,272.56 L69.2,272.43 L69.22,272.29 L69.23,272.15 L69.24,272.01 L69.24,271.87 L69.24,271.73 L69.24,271.59 L69.24,271.45 L69.24,271.32 L69.24,271.18 L69.24,271.04 L69.23,270.9 L69.22,270.76 L69.19,270.62 L69.16,270.48 L69.1,270.34 L69.02,270.2 L68.91,270.07 L68.77,269.93 L68.61,269.79 L68.42,269.65 L68.21,269.51 L67.98,269.37 L67.76,269.23 L67.55,269.09 L66.13,269.09 L65.92,269.23 L65.7,269.37 L65.48,269.51 L65.27,269.65 L65.08,269.79 L64.91,269.93 L64.78,270.07 L64.67,270.2 L64.59,270.34 L64.53,270.48 L64.49,270.62 L64.47,270.76 L64.45,270.9 L64.45,271.04 L64.44,271.18 L64.44,271.32 L64.44,271.45 L64.44,271.59 L64.44,271.73 L64.44,271.87 L64.45,272.01 L64.45,272.15 L64.47,272.29 L64.49,272.43 L64.52,272.56 L64.57,272.7 L64.63,272.84 L64.72,272.98 L64.83,273.12 L64.96,273.26 L65.11,273.4 L65.28,273.54 L65.47,273.68 L65.67,273.81 L65.86,273.95 L66.06,274.09Z" fill="#14AD7C" class="vl"/>
<circle cx="66.84" cy="274.09" r="1.1" class="pp"/>
<circle cx="66.84" cy="269.09" r="1.1" class="pp"/>
<circle cx="66.84" cy="273.73" r="1.1" class="pp"/>
<circle cx="67.34" cy="273.26" r="1.1" class="pp"/>
<circle cx="66.34" cy="272.88" r="1.1" class="pp"/>
<circle cx="67.09" cy="272.55" r="1.1" class="pp"/>
<circle cx="66.59" cy="272.22" r="1.1" class="pp"/>
<circle cx="66.84" cy="271.9" r="1.1" class="pp"/>
<circle cx="67.34" cy="271.59" r="1.1" class="pp"/>
<circle cx="66.34" cy="271.27" r="1.1" class="pp"/>
<circle cx="67.09" cy="270.95" r="1.1" class="pp"/>
<circle cx="66.59" cy="270.63" r="1.1" class="pp"/>
<circle cx="66.84" cy="270.3" r="1.1" class="pp"/>
<circle cx="67.34" cy="269.94" r="1.1" class="pp"/>
<circle cx="66.34" cy="269.47" r="1.1" class="pp"/>
<line x1="74.19" y1="291.47" x2="74.19" y2="274.07" class="tl2"/>
<path d="M75.01,274.07 L75.87,273.44 L76.41,272.82 L76.58,272.2 L76.59,271.58 L76.58,270.96 L76.44,270.34 L75.86,269.72 L74.9,269.09 L73.48,269.09 L72.52,269.72 L71.94,270.34 L71.8,270.96 L71.79,271.58 L71.81,272.2 L71.97,272.82 L72.51,273.44 L73.37,274.07Z" fill="#F06A12" class="vl"/>
<circle cx="74.19" cy="291.47" r="1.1" class="pp"/>
<circle cx="74.19" cy="269.09" r="1.1" class="pp"/>
<circle cx="74.19" cy="274.21" r="1.1" class="pp"/>
<circle cx="74.69" cy="273.5" r="1.1" class="pp"/>
<circle cx="73.69" cy="273.07" r="1.1" class="pp"/>
<circle cx="74.44" cy="272.7" r="1.1" class="pp"/>
<circle cx="73.94" cy="272.36" r="1.1" class="pp"/>
<circle cx="74.19" cy="272.02" r="1.1" class="pp"/>
<circle cx="74.69" cy="271.69" r="1.1" class="pp"/>
<circle cx="73.69" cy="271.35" r="1.1" class="pp"/>
<circle cx="74.44" cy="271.02" r="1.1" class="pp"/>
<circle cx="73.94" cy="270.69" r="1.1" class="pp"/>
<circle cx="74.19" cy="270.34" r="1.1" class="pp"/>
<circle cx="74.69" cy="269.96" r="1.1" class="pp"/>
<circle cx="73.69" cy="269.48" r="1.1" class="pp"/>
<rect x="80.8" y="227.9" width="15.57" height="8.4" fill="#fff" class="sb"/>
<text x="88.58" y="234.2" class="st">SBI2</text>
<line x1="80.5" y1="304.6" x2="96.67" y2="304.6" class="ax"/>
<line x1="84.91" y1="304.6" x2="84.91" y2="306" class="tk"/>
<text class="xl" transform="translate(85.06,310.8) scale(1,1.12)">P</text>
<line x1="92.26" y1="304.6" x2="92.26" y2="306" class="tk"/>
<text class="xl" transform="translate(92.26,310.8) scale(1,1.12)">BF</text>
<path d="M86.13,269.33 L86.33,269.13 L86.51,268.94 L86.68,268.74 L86.82,268.54 L86.95,268.34 L87.05,268.14 L87.13,267.94 L87.19,267.75 L87.24,267.55 L87.27,267.35 L87.29,267.15 L87.3,266.95 L87.3,266.75 L87.31,266.56 L87.31,266.36 L87.31,266.16 L87.31,265.96 L87.31,265.76 L87.31,265.56 L87.31,265.37 L87.3,265.17 L87.29,264.97 L87.28,264.77 L87.26,264.57 L87.22,264.37 L87.17,264.18 L87.1,263.98 L87.01,263.78 L86.9,263.58 L86.77,263.38 L86.61,263.18 L86.44,262.99 L86.25,262.79 L86.06,262.59 L85.86,262.39 L85.67,262.19 L84.15,262.19 L83.96,262.39 L83.76,262.59 L83.57,262.79 L83.38,262.99 L83.21,263.18 L83.05,263.38 L82.92,263.58 L82.81,263.78 L82.72,263.98 L82.65,264.18 L82.6,264.37 L82.56,264.57 L82.54,264.77 L82.52,264.97 L82.52,265.17 L82.51,265.37 L82.51,265.56 L82.51,265.76 L82.51,265.96 L82.51,266.16 L82.51,266.36 L82.51,266.56 L82.51,266.75 L82.52,266.95 L82.53,267.15 L82.55,267.35 L82.58,267.55 L82.63,267.75 L82.69,267.94 L82.77,268.14 L82.87,268.34 L83,268.54 L83.14,268.74 L83.31,268.94 L83.49,269.13 L83.68,269.33Z" fill="#14AD7C" class="vl"/>
<circle cx="84.91" cy="269.33" r="1.1" class="pp"/>
<circle cx="84.91" cy="262.19" r="1.1" class="pp"/>
<circle cx="84.91" cy="268.93" r="1.1" class="pp"/>
<circle cx="85.41" cy="268.32" r="1.1" class="pp"/>
<circle cx="84.41" cy="267.8" r="1.1" class="pp"/>
<circle cx="85.16" cy="267.32" r="1.1" class="pp"/>
<circle cx="84.66" cy="266.84" r="1.1" class="pp"/>
<circle cx="84.91" cy="266.37" r="1.1" class="pp"/>
<circle cx="85.41" cy="265.9" r="1.1" class="pp"/>
<circle cx="84.41" cy="265.43" r="1.1" class="pp"/>
<circle cx="85.16" cy="264.96" r="1.1" class="pp"/>
<circle cx="84.66" cy="264.48" r="1.1" class="pp"/>
<circle cx="84.91" cy="263.99" r="1.1" class="pp"/>
<circle cx="85.41" cy="263.44" r="1.1" class="pp"/>
<circle cx="84.41" cy="262.74" r="1.1" class="pp"/>
<line x1="92.26" y1="293.37" x2="92.26" y2="270.34" class="tl2"/>
<path d="M92.97,270.34 L93.79,269.49 L94.39,268.64 L94.62,267.78 L94.66,266.93 L94.66,266.08 L94.63,265.23 L94.41,264.37 L93.84,263.52 L93.02,262.67 L91.5,262.67 L90.67,263.52 L90.1,264.37 L89.89,265.23 L89.86,266.08 L89.86,266.93 L89.9,267.78 L90.13,268.64 L90.73,269.49 L91.55,270.34Z" fill="#F06A12" class="vl"/>
<circle cx="92.26" cy="293.37" r="1.1" class="pp"/>
<circle cx="92.26" cy="262.67" r="1.1" class="pp"/>
<circle cx="92.26" cy="270.35" r="1.1" class="pp"/>
<circle cx="92.76" cy="269.34" r="1.1" class="pp"/>
<circle cx="91.76" cy="268.7" r="1.1" class="pp"/>
<circle cx="92.51" cy="268.15" r="1.1" class="pp"/>
<circle cx="92.01" cy="267.63" r="1.1" class="pp"/>
<circle cx="92.26" cy="267.12" r="1.1" class="pp"/>
<circle cx="92.76" cy="266.61" r="1.1" class="pp"/>
<circle cx="91.76" cy="266.11" r="1.1" class="pp"/>
<circle cx="92.51" cy="265.6" r="1.1" class="pp"/>
<circle cx="92.01" cy="265.09" r="1.1" class="pp"/>
<circle cx="92.26" cy="264.56" r="1.1" class="pp"/>
<circle cx="92.76" cy="263.98" r="1.1" class="pp"/>
<circle cx="91.76" cy="263.25" r="1.1" class="pp"/>
<rect x="98.87" y="227.9" width="15.57" height="8.4" fill="#fff" class="sb"/>
<text x="106.65" y="234.2" class="st">DP5</text>
<line x1="98.57" y1="304.6" x2="114.73" y2="304.6" class="ax"/>
<line x1="102.98" y1="304.6" x2="102.98" y2="306" class="tk"/>
<text class="xl" transform="translate(103.13,310.8) scale(1,1.12)">P</text>
<line x1="110.32" y1="304.6" x2="110.32" y2="306" class="tk"/>
<text class="xl" transform="translate(110.32,310.8) scale(1,1.12)">BF</text>
<path d="M104.04,263.86 L104.24,263.65 L104.44,263.43 L104.63,263.22 L104.81,263.01 L104.96,262.8 L105.09,262.59 L105.2,262.38 L105.28,262.17 L105.35,261.95 L105.39,261.74 L105.43,261.53 L105.45,261.32 L105.46,261.11 L105.47,260.9 L105.47,260.68 L105.48,260.47 L105.48,260.26 L105.48,260.05 L105.48,259.84 L105.48,259.63 L105.47,259.42 L105.47,259.2 L105.46,258.99 L105.45,258.78 L105.43,258.57 L105.39,258.36 L105.35,258.15 L105.28,257.93 L105.2,257.72 L105.09,257.51 L104.96,257.3 L104.81,257.09 L104.63,256.88 L104.44,256.67 L104.24,256.45 L104.04,256.24 L101.91,256.24 L101.71,256.45 L101.51,256.67 L101.32,256.88 L101.15,257.09 L100.99,257.3 L100.86,257.51 L100.76,257.72 L100.67,257.93 L100.61,258.15 L100.56,258.36 L100.52,258.57 L100.5,258.78 L100.49,258.99 L100.48,259.2 L100.48,259.42 L100.48,259.63 L100.48,259.84 L100.48,260.05 L100.48,260.26 L100.48,260.47 L100.48,260.68 L100.48,260.9 L100.49,261.11 L100.5,261.32 L100.52,261.53 L100.56,261.74 L100.61,261.95 L100.67,262.17 L100.76,262.38 L100.86,262.59 L100.99,262.8 L101.15,263.01 L101.32,263.22 L101.51,263.43 L101.71,263.65 L101.91,263.86Z" fill="#14AD7C" class="vl"/>
<circle cx="102.98" cy="263.86" r="1.1" class="pp"/>
<circle cx="102.98" cy="256.24" r="1.1" class="pp"/>
<circle cx="102.98" cy="263.37" r="1.1" class="pp"/>
<circle cx="103.48" cy="262.68" r="1.1" class="pp"/>
<circle cx="102.48" cy="262.1" r="1.1" class="pp"/>
<circle cx="103.23" cy="261.57" r="1.1" class="pp"/>
<circle cx="102.73" cy="261.06" r="1.1" class="pp"/>
<circle cx="102.98" cy="260.56" r="1.1" class="pp"/>
<circle cx="103.48" cy="260.05" r="1.1" class="pp"/>
<circle cx="102.48" cy="259.54" r="1.1" class="pp"/>
<circle cx="103.23" cy="259.04" r="1.1" class="pp"/>
<circle cx="102.73" cy="258.53" r="1.1" class="pp"/>
<circle cx="102.98" cy="258" r="1.1" class="pp"/>
<circle cx="103.48" cy="257.42" r="1.1" class="pp"/>
<circle cx="102.48" cy="256.73" r="1.1" class="pp"/>
<line x1="110.32" y1="301.7" x2="110.32" y2="265.08" class="tl2"/>
<path d="M110.99,265.08 L112.07,263.82 L112.7,262.56 L112.82,261.29 L112.82,260.03 L112.75,258.77 L112.26,257.5 L111.21,256.24 L109.44,256.24 L108.39,257.5 L107.9,258.77 L107.82,260.03 L107.83,261.29 L107.95,262.56 L108.58,263.82 L109.66,265.08Z" fill="#F06A12" class="vl"/>
<circle cx="110.32" cy="301.7" r="1.1" class="pp"/>
<circle cx="110.32" cy="256.24" r="1.1" class="pp"/>
<circle cx="110.32" cy="275.52" r="1.1" class="pp"/>
<circle cx="110.32" cy="265.16" r="1.1" class="pp"/>
<circle cx="110.82" cy="263.89" r="1.1" class="pp"/>
<circle cx="109.82" cy="263.13" r="1.1" class="pp"/>
<circle cx="110.57" cy="262.5" r="1.1" class="pp"/>
<circle cx="110.07" cy="261.9" r="1.1" class="pp"/>
<circle cx="110.32" cy="261.31" r="1.1" class="pp"/>
<circle cx="110.82" cy="260.72" r="1.1" class="pp"/>
<circle cx="109.82" cy="260.14" r="1.1" class="pp"/>
<circle cx="110.57" cy="259.55" r="1.1" class="pp"/>
<circle cx="110.07" cy="258.96" r="1.1" class="pp"/>
<circle cx="110.32" cy="258.36" r="1.1" class="pp"/>
<circle cx="110.82" cy="257.69" r="1.1" class="pp"/>
<circle cx="109.82" cy="256.86" r="1.1" class="pp"/>
<rect x="116.93" y="227.9" width="15.57" height="8.4" fill="#fff" class="sb"/>
<text x="124.72" y="234.2" class="st">SBI5</text>
<line x1="116.63" y1="304.6" x2="132.8" y2="304.6" class="ax"/>
<line x1="121.04" y1="304.6" x2="121.04" y2="306" class="tk"/>
<text class="xl" transform="translate(121.19,310.8) scale(1,1.12)">P</text>
<line x1="128.39" y1="304.6" x2="128.39" y2="306" class="tk"/>
<text class="xl" transform="translate(128.39,310.8) scale(1,1.12)">BF</text>
<path d="M122.34,252.2 L122.56,251.9 L122.76,251.6 L122.95,251.3 L123.12,251.01 L123.27,250.71 L123.39,250.41 L123.49,250.11 L123.57,249.82 L123.63,249.52 L123.67,249.22 L123.7,248.92 L123.72,248.63 L123.73,248.33 L123.74,248.03 L123.74,247.73 L123.74,247.44 L123.74,247.14 L123.74,246.84 L123.74,246.54 L123.74,246.25 L123.74,245.95 L123.73,245.65 L123.72,245.35 L123.71,245.06 L123.68,244.76 L123.64,244.46 L123.59,244.16 L123.51,243.87 L123.42,243.57 L123.3,243.27 L123.15,242.97 L122.99,242.68 L122.8,242.38 L122.6,242.08 L122.38,241.78 L122.17,241.49 L119.92,241.49 L119.7,241.78 L119.49,242.08 L119.28,242.38 L119.1,242.68 L118.93,242.97 L118.79,243.27 L118.67,243.57 L118.57,243.87 L118.5,244.16 L118.44,244.46 L118.4,244.76 L118.38,245.06 L118.36,245.35 L118.35,245.65 L118.35,245.95 L118.34,246.25 L118.34,246.54 L118.34,246.84 L118.34,247.14 L118.34,247.44 L118.34,247.73 L118.35,248.03 L118.35,248.33 L118.36,248.63 L118.38,248.92 L118.41,249.22 L118.45,249.52 L118.51,249.82 L118.59,250.11 L118.69,250.41 L118.81,250.71 L118.96,251.01 L119.13,251.3 L119.32,251.6 L119.53,251.9 L119.74,252.2Z" fill="#14AD7C" class="vl"/>
<circle cx="121.04" cy="252.2" r="1.1" class="pp"/>
<circle cx="121.04" cy="241.49" r="1.1" class="pp"/>
<circle cx="121.04" cy="251.56" r="1.1" class="pp"/>
<circle cx="121.54" cy="250.61" r="1.1" class="pp"/>
<circle cx="120.54" cy="249.81" r="1.1" class="pp"/>
<circle cx="121.29" cy="249.06" r="1.1" class="pp"/>
<circle cx="120.79" cy="248.34" r="1.1" class="pp"/>
<circle cx="121.04" cy="247.62" r="1.1" class="pp"/>
<circle cx="121.54" cy="246.91" r="1.1" class="pp"/>
<circle cx="120.54" cy="246.19" r="1.1" class="pp"/>
<circle cx="121.29" cy="245.47" r="1.1" class="pp"/>
<circle cx="120.79" cy="244.75" r="1.1" class="pp"/>
<circle cx="121.04" cy="244" r="1.1" class="pp"/>
<circle cx="121.54" cy="243.18" r="1.1" class="pp"/>
<circle cx="120.54" cy="242.19" r="1.1" class="pp"/>
<line x1="128.39" y1="295.04" x2="128.39" y2="253.62" class="tl2"/>
<path d="M129.19,253.62 L130.09,252.09 L130.76,250.56 L131.04,249.02 L131.09,247.49 L131.09,245.96 L131.07,244.42 L130.89,242.89 L130.34,241.35 L129.46,239.82 L127.32,239.82 L126.44,241.35 L125.89,242.89 L125.71,244.42 L125.69,245.96 L125.69,247.49 L125.74,249.02 L126.02,250.56 L126.69,252.09 L127.59,253.62Z" fill="#F06A12" class="vl"/>
<circle cx="128.39" cy="295.04" r="1.1" class="pp"/>
<circle cx="128.39" cy="239.82" r="1.1" class="pp"/>
<circle cx="128.39" cy="258.86" r="1.1" class="pp"/>
<circle cx="128.39" cy="253.65" r="1.1" class="pp"/>
<circle cx="128.89" cy="251.78" r="1.1" class="pp"/>
<circle cx="127.89" cy="250.61" r="1.1" class="pp"/>
<circle cx="128.64" cy="249.6" r="1.1" class="pp"/>
<circle cx="128.14" cy="248.65" r="1.1" class="pp"/>
<circle cx="128.39" cy="247.73" r="1.1" class="pp"/>
<circle cx="128.89" cy="246.8" r="1.1" class="pp"/>
<circle cx="127.89" cy="245.88" r="1.1" class="pp"/>
<circle cx="128.64" cy="244.95" r="1.1" class="pp"/>
<circle cx="128.14" cy="244.02" r="1.1" class="pp"/>
<circle cx="128.39" cy="243.06" r="1.1" class="pp"/>
<circle cx="128.89" cy="242.02" r="1.1" class="pp"/>
<circle cx="127.89" cy="240.74" r="1.1" class="pp"/>
<text x="150.9" y="225" class="pt">Gas production</text>
<text class="yl" font-size="5.8" transform="translate(141,270.9) rotate(-90)" x="0" y="0">Gas production change vs NSC (%)</text>
<line x1="152.3" y1="236.6" x2="152.3" y2="304.6" class="ax"/>
<line x1="150.9" y1="301" x2="152.3" y2="301" class="tk"/>
<text x="150.3" y="303.2" class="tl">0</text>
<line x1="150.9" y1="284.44" x2="152.3" y2="284.44" class="tk"/>
<text x="150.3" y="286.64" class="tl">30</text>
<line x1="150.9" y1="267.88" x2="152.3" y2="267.88" class="tk"/>
<text x="150.3" y="270.08" class="tl">60</text>
<line x1="150.9" y1="251.32" x2="152.3" y2="251.32" class="tk"/>
<text x="150.3" y="253.52" class="tl">90</text>
<rect x="152.6" y="227.9" width="16.73" height="8.4" fill="#fff" class="sb"/>
<text x="160.97" y="234.2" class="st">NSC</text>
<line x1="152.3" y1="304.6" x2="169.63" y2="304.6" class="ax"/>
<line x1="157.03" y1="304.6" x2="157.03" y2="306" class="tk"/>
<text class="xl" transform="translate(157.18,310.8) scale(1,1.12)">P</text>
<line x1="164.91" y1="304.6" x2="164.91" y2="306" class="tk"/>
<text class="xl" transform="translate(164.91,310.8) scale(1,1.12)">BF</text>
<line x1="154.63" y1="301" x2="159.43" y2="301" stroke="#333" stroke-width="0.7"/>
<circle cx="157.23" cy="301.2" r="1.3" class="pt0"/>
<line x1="162.51" y1="301" x2="167.31" y2="301" stroke="#333" stroke-width="0.7"/>
<circle cx="165.11" cy="301.2" r="1.3" class="pt0"/>
<rect x="171.83" y="227.9" width="16.73" height="8.4" fill="#fff" class="sb"/>
<text x="180.2" y="234.2" class="st">IN</text>
<line x1="171.53" y1="304.6" x2="188.87" y2="304.6" class="ax"/>
<line x1="176.26" y1="304.6" x2="176.26" y2="306" class="tk"/>
<text class="xl" transform="translate(176.41,310.8) scale(1,1.12)">P</text>
<line x1="184.14" y1="304.6" x2="184.14" y2="306" class="tk"/>
<text class="xl" transform="translate(184.14,310.8) scale(1,1.12)">BF</text>
<path d="M177.78,284.44 L178.16,283.73 L178.54,283.03 L178.87,282.32 L179.12,281.62 L179.25,280.91 L179.25,280.21 L179.19,279.5 L179.07,278.8 L178.91,278.09 L178.7,277.39 L178.47,276.68 L178.21,275.98 L177.96,275.27 L177.7,274.57 L177.46,273.86 L177.36,273.15 L177.36,272.45 L177.36,271.74 L177.36,271.04 L177.36,270.33 L177.36,269.63 L177.36,268.92 L177.36,268.22 L177.36,267.51 L177.36,266.81 L177.36,266.1 L177.36,265.4 L177.36,264.69 L177.36,263.99 L177.36,263.28 L177.36,262.57 L177.36,261.87 L177.36,261.16 L177.36,260.46 L177.36,259.75 L177.36,259.05 L175.16,259.05 L175.16,259.75 L175.16,260.46 L175.16,261.16 L175.16,261.87 L175.16,262.57 L175.16,263.28 L175.16,263.99 L175.16,264.69 L175.16,265.4 L175.16,266.1 L175.16,266.81 L175.16,267.51 L175.16,268.22 L175.16,268.92 L175.16,269.63 L175.16,270.33 L175.16,271.04 L175.16,271.74 L175.16,272.45 L175.16,273.15 L175.06,273.86 L174.82,274.57 L174.56,275.27 L174.31,275.98 L174.05,276.68 L173.82,277.39 L173.61,278.09 L173.45,278.8 L173.33,279.5 L173.27,280.21 L173.28,280.91 L173.41,281.62 L173.65,282.32 L173.98,283.03 L174.36,283.73 L174.74,284.44Z" fill="#14AD7C" class="vl"/>
<circle cx="176.26" cy="284.44" r="1.1" class="pp"/>
<circle cx="176.26" cy="259.05" r="1.1" class="pp"/>
<circle cx="176.26" cy="262.36" r="1.1" class="pp"/>
<circle cx="176.26" cy="266.22" r="1.1" class="pp"/>
<circle cx="176.26" cy="270.09" r="1.1" class="pp"/>
<circle cx="176.26" cy="283.8" r="1.1" class="pp"/>
<circle cx="176.76" cy="282.78" r="1.1" class="pp"/>
<circle cx="175.76" cy="281.94" r="1.1" class="pp"/>
<circle cx="176.51" cy="281.18" r="1.1" class="pp"/>
<circle cx="176.01" cy="280.45" r="1.1" class="pp"/>
<circle cx="176.26" cy="279.73" r="1.1" class="pp"/>
<circle cx="176.76" cy="278.98" r="1.1" class="pp"/>
<circle cx="175.76" cy="278.19" r="1.1" class="pp"/>
<circle cx="176.51" cy="277.34" r="1.1" class="pp"/>
<circle cx="176.01" cy="276.38" r="1.1" class="pp"/>
<circle cx="176.26" cy="275.23" r="1.1" class="pp"/>
<circle cx="176.76" cy="273.69" r="1.1" class="pp"/>
<circle cx="175.76" cy="270.88" r="1.1" class="pp"/>
<path d="M185.27,296.58 L185.54,295.68 L185.83,294.77 L186.12,293.87 L186.39,292.97 L186.62,292.06 L186.82,291.16 L186.97,290.25 L187.07,289.35 L187.12,288.44 L187.14,287.54 L187.14,286.63 L187.1,285.73 L187.03,284.82 L186.89,283.92 L186.7,283.01 L186.46,282.11 L186.17,281.2 L185.86,280.3 L185.55,279.4 L185.25,278.49 L185.24,277.59 L185.24,276.68 L185.24,275.78 L185.24,274.87 L185.24,273.97 L185.24,273.06 L185.24,272.16 L185.24,271.25 L185.24,270.35 L185.24,269.44 L185.24,268.54 L185.24,267.63 L185.24,266.73 L185.24,265.83 L185.24,264.92 L185.24,264.02 L183.04,264.02 L183.04,264.92 L183.04,265.83 L183.04,266.73 L183.04,267.63 L183.04,268.54 L183.04,269.44 L183.04,270.35 L183.04,271.25 L183.04,272.16 L183.04,273.06 L183.04,273.97 L183.04,274.87 L183.04,275.78 L183.04,276.68 L183.04,277.59 L183.03,278.49 L182.73,279.4 L182.41,280.3 L182.11,281.2 L181.82,282.11 L181.58,283.01 L181.39,283.92 L181.25,284.82 L181.17,285.73 L181.14,286.63 L181.14,287.54 L181.16,288.44 L181.21,289.35 L181.31,290.25 L181.46,291.16 L181.66,292.06 L181.89,292.97 L182.16,293.87 L182.45,294.77 L182.73,295.68 L183.01,296.58Z" fill="#F06A12" class="vl"/>
<circle cx="184.14" cy="296.58" r="1.1" class="pp"/>
<circle cx="184.14" cy="264.02" r="1.1" class="pp"/>
<circle cx="184.14" cy="267.88" r="1.1" class="pp"/>
<circle cx="184.14" cy="272.3" r="1.1" class="pp"/>
<circle cx="184.14" cy="276.16" r="1.1" class="pp"/>
<circle cx="184.14" cy="295.27" r="1.1" class="pp"/>
<circle cx="184.64" cy="293.37" r="1.1" class="pp"/>
<circle cx="183.64" cy="291.87" r="1.1" class="pp"/>
<circle cx="184.39" cy="290.55" r="1.1" class="pp"/>
<circle cx="183.89" cy="289.33" r="1.1" class="pp"/>
<circle cx="184.14" cy="288.15" r="1.1" class="pp"/>
<circle cx="184.64" cy="286.98" r="1.1" class="pp"/>
<circle cx="183.64" cy="285.81" r="1.1" class="pp"/>
<circle cx="184.39" cy="284.61" r="1.1" class="pp"/>
<circle cx="183.89" cy="283.34" r="1.1" class="pp"/>
<circle cx="184.14" cy="281.91" r="1.1" class="pp"/>
<circle cx="184.64" cy="280.13" r="1.1" class="pp"/>
<circle cx="183.64" cy="277.17" r="1.1" class="pp"/>
<rect x="191.07" y="227.9" width="16.73" height="8.4" fill="#fff" class="sb"/>
<text x="199.43" y="234.2" class="st">DP2</text>
<line x1="190.77" y1="304.6" x2="208.1" y2="304.6" class="ax"/>
<line x1="195.49" y1="304.6" x2="195.49" y2="306" class="tk"/>
<text class="xl" transform="translate(195.64,310.8) scale(1,1.12)">P</text>
<line x1="203.37" y1="304.6" x2="203.37" y2="306" class="tk"/>
<text class="xl" transform="translate(203.37,310.8) scale(1,1.12)">BF</text>
<path d="M196.81,292.72 L197.04,292.21 L197.27,291.71 L197.49,291.2 L197.69,290.7 L197.87,290.19 L198.02,289.68 L198.14,289.18 L198.25,288.67 L198.33,288.17 L198.38,287.66 L198.43,287.15 L198.46,286.65 L198.47,286.14 L198.49,285.64 L198.49,285.13 L198.49,284.62 L198.49,284.12 L198.49,283.61 L198.49,283.11 L198.49,282.6 L198.49,282.09 L198.49,281.59 L198.48,281.08 L198.47,280.58 L198.45,280.07 L198.41,279.56 L198.36,279.06 L198.28,278.55 L198.18,278.05 L198.05,277.54 L197.9,277.03 L197.71,276.53 L197.5,276.02 L197.27,275.52 L197.02,275.01 L196.77,274.5 L194.22,274.5 L193.96,275.01 L193.72,275.52 L193.49,276.02 L193.27,276.53 L193.09,277.03 L192.93,277.54 L192.81,278.05 L192.71,278.55 L192.63,279.06 L192.58,279.56 L192.54,280.07 L192.52,280.58 L192.5,281.08 L192.5,281.59 L192.49,282.09 L192.49,282.6 L192.49,283.11 L192.49,283.61 L192.49,284.12 L192.49,284.62 L192.5,285.13 L192.5,285.64 L192.51,286.14 L192.53,286.65 L192.56,287.15 L192.6,287.66 L192.66,288.17 L192.74,288.67 L192.84,289.18 L192.97,289.68 L193.12,290.19 L193.3,290.7 L193.5,291.2 L193.72,291.71 L193.94,292.21 L194.18,292.72Z" fill="#14AD7C" class="vl"/>
<circle cx="195.49" cy="292.72" r="1.1" class="pp"/>
<circle cx="195.49" cy="274.5" r="1.1" class="pp"/>
<circle cx="195.49" cy="291.57" r="1.1" class="pp"/>
<circle cx="195.99" cy="289.9" r="1.1" class="pp"/>
<circle cx="194.99" cy="288.52" r="1.1" class="pp"/>
<circle cx="195.74" cy="287.25" r="1.1" class="pp"/>
<circle cx="195.24" cy="286.02" r="1.1" class="pp"/>
<circle cx="195.49" cy="284.8" r="1.1" class="pp"/>
<circle cx="195.99" cy="283.59" r="1.1" class="pp"/>
<circle cx="194.99" cy="282.38" r="1.1" class="pp"/>
<circle cx="195.74" cy="281.16" r="1.1" class="pp"/>
<circle cx="195.24" cy="279.94" r="1.1" class="pp"/>
<circle cx="195.49" cy="278.68" r="1.1" class="pp"/>
<circle cx="195.99" cy="277.32" r="1.1" class="pp"/>
<circle cx="194.99" cy="275.66" r="1.1" class="pp"/>
<line x1="203.37" y1="298.24" x2="203.37" y2="296.86" class="tl2"/>
<line x1="203.37" y1="282.14" x2="203.37" y2="281.68" class="tl2"/>
<path d="M203.68,296.86 L203.79,296.4 L203.92,295.94 L204.08,295.48 L204.26,295.02 L204.46,294.56 L204.67,294.1 L204.89,293.64 L205.12,293.18 L205.33,292.72 L205.53,292.26 L205.71,291.8 L205.86,291.34 L205.98,290.88 L206.07,290.42 L206.13,289.96 L206.16,289.5 L206.17,289.04 L206.17,288.58 L206.15,288.12 L206.1,287.66 L206.01,287.2 L205.88,286.74 L205.71,286.28 L205.5,285.82 L205.27,285.36 L205.02,284.9 L204.77,284.44 L204.52,283.98 L204.29,283.52 L204.08,283.06 L203.9,282.6 L203.75,282.14 L202.99,282.14 L202.84,282.6 L202.67,283.06 L202.46,283.52 L202.23,283.98 L201.98,284.44 L201.73,284.9 L201.48,285.36 L201.24,285.82 L201.04,286.28 L200.87,286.74 L200.74,287.2 L200.65,287.66 L200.59,288.12 L200.57,288.58 L200.57,289.04 L200.58,289.5 L200.62,289.96 L200.68,290.42 L200.76,290.88 L200.89,291.34 L201.04,291.8 L201.22,292.26 L201.42,292.72 L201.63,293.18 L201.85,293.64 L202.07,294.1 L202.29,294.56 L202.49,295.02 L202.67,295.48 L202.82,295.94 L202.96,296.4 L203.07,296.86Z" fill="#F06A12" class="vl"/>
<circle cx="203.37" cy="298.24" r="1.1" class="pp"/>
<circle cx="203.37" cy="281.68" r="1.1" class="pp"/>
<circle cx="203.37" cy="295.39" r="1.1" class="pp"/>
<circle cx="203.87" cy="293.57" r="1.1" class="pp"/>
<circle cx="202.87" cy="292.44" r="1.1" class="pp"/>
<circle cx="203.62" cy="291.53" r="1.1" class="pp"/>
<circle cx="203.12" cy="290.72" r="1.1" class="pp"/>
<circle cx="203.37" cy="289.95" r="1.1" class="pp"/>
<circle cx="203.87" cy="289.21" r="1.1" class="pp"/>
<circle cx="202.87" cy="288.47" r="1.1" class="pp"/>
<circle cx="203.62" cy="287.73" r="1.1" class="pp"/>
<circle cx="203.12" cy="286.95" r="1.1" class="pp"/>
<circle cx="203.37" cy="286.1" r="1.1" class="pp"/>
<circle cx="203.87" cy="285.08" r="1.1" class="pp"/>
<circle cx="202.87" cy="283.53" r="1.1" class="pp"/>
<rect x="210.3" y="227.9" width="16.73" height="8.4" fill="#fff" class="sb"/>
<text x="218.67" y="234.2" class="st">SBI2</text>
<line x1="210" y1="304.6" x2="227.33" y2="304.6" class="ax"/>
<line x1="214.73" y1="304.6" x2="214.73" y2="306" class="tk"/>
<text class="xl" transform="translate(214.88,310.8) scale(1,1.12)">P</text>
<line x1="222.61" y1="304.6" x2="222.61" y2="306" class="tk"/>
<text class="xl" transform="translate(222.61,310.8) scale(1,1.12)">BF</text>
<path d="M216.36,287.75 L216.58,287.15 L216.76,286.56 L216.92,285.96 L217.06,285.36 L217.16,284.76 L217.24,284.16 L217.31,283.57 L217.35,282.97 L217.38,282.37 L217.4,281.77 L217.41,281.17 L217.42,280.58 L217.42,279.98 L217.43,279.38 L217.43,278.78 L217.43,278.18 L217.43,277.59 L217.43,276.99 L217.43,276.39 L217.43,275.79 L217.43,275.19 L217.43,274.6 L217.43,274 L217.42,273.4 L217.42,272.8 L217.41,272.2 L217.39,271.61 L217.36,271.01 L217.32,270.41 L217.27,269.81 L217.19,269.21 L217.08,268.62 L216.95,268.02 L216.78,267.42 L216.59,266.82 L216.36,266.22 L213.09,266.22 L212.87,266.82 L212.67,267.42 L212.51,268.02 L212.37,268.62 L212.27,269.21 L212.19,269.81 L212.13,270.41 L212.09,271.01 L212.06,271.61 L212.05,272.2 L212.04,272.8 L212.03,273.4 L212.03,274 L212.03,274.6 L212.03,275.19 L212.03,275.79 L212.03,276.39 L212.03,276.99 L212.03,277.59 L212.03,278.18 L212.03,278.78 L212.03,279.38 L212.03,279.98 L212.03,280.58 L212.04,281.17 L212.05,281.77 L212.07,282.37 L212.11,282.97 L212.15,283.57 L212.21,284.16 L212.29,284.76 L212.4,285.36 L212.53,285.96 L212.69,286.56 L212.88,287.15 L213.09,287.75Z" fill="#14AD7C" class="vl"/>
<circle cx="214.73" cy="287.75" r="1.1" class="pp"/>
<circle cx="214.73" cy="266.22" r="1.1" class="pp"/>
<circle cx="214.73" cy="286.62" r="1.1" class="pp"/>
<circle cx="215.23" cy="284.78" r="1.1" class="pp"/>
<circle cx="214.23" cy="283.14" r="1.1" class="pp"/>
<circle cx="214.98" cy="281.58" r="1.1" class="pp"/>
<circle cx="214.48" cy="280.04" r="1.1" class="pp"/>
<circle cx="214.73" cy="278.5" r="1.1" class="pp"/>
<circle cx="215.23" cy="276.97" r="1.1" class="pp"/>
<circle cx="214.23" cy="275.43" r="1.1" class="pp"/>
<circle cx="214.98" cy="273.9" r="1.1" class="pp"/>
<circle cx="214.48" cy="272.36" r="1.1" class="pp"/>
<circle cx="214.73" cy="270.8" r="1.1" class="pp"/>
<circle cx="215.23" cy="269.17" r="1.1" class="pp"/>
<circle cx="214.23" cy="267.35" r="1.1" class="pp"/>
<path d="M224.06,288.3 L224.22,287.97 L224.36,287.63 L224.49,287.29 L224.6,286.95 L224.7,286.62 L224.78,286.28 L224.84,285.94 L224.89,285.61 L224.93,285.27 L224.96,284.93 L224.98,284.59 L224.99,284.26 L225,283.92 L225,283.58 L225.01,283.24 L225.01,282.91 L225.01,282.57 L225.01,282.23 L225.01,281.89 L225.01,281.56 L225.01,281.22 L225,280.88 L225,280.55 L224.99,280.21 L224.98,279.87 L224.96,279.53 L224.93,279.2 L224.89,278.86 L224.84,278.52 L224.78,278.18 L224.7,277.85 L224.6,277.51 L224.49,277.17 L224.36,276.83 L224.22,276.5 L224.06,276.16 L221.15,276.16 L220.99,276.5 L220.85,276.83 L220.72,277.17 L220.61,277.51 L220.51,277.85 L220.43,278.18 L220.37,278.52 L220.32,278.86 L220.28,279.2 L220.25,279.53 L220.23,279.87 L220.22,280.21 L220.21,280.55 L220.21,280.88 L220.21,281.22 L220.21,281.56 L220.21,281.89 L220.21,282.23 L220.21,282.57 L220.21,282.91 L220.21,283.24 L220.21,283.58 L220.21,283.92 L220.22,284.26 L220.23,284.59 L220.25,284.93 L220.28,285.27 L220.32,285.61 L220.37,285.94 L220.43,286.28 L220.51,286.62 L220.61,286.95 L220.72,287.29 L220.85,287.63 L220.99,287.97 L221.15,288.3Z" fill="#F06A12" class="vl"/>
<circle cx="222.61" cy="288.3" r="1.1" class="pp"/>
<circle cx="222.61" cy="276.16" r="1.1" class="pp"/>
<circle cx="222.61" cy="287.67" r="1.1" class="pp"/>
<circle cx="223.11" cy="286.61" r="1.1" class="pp"/>
<circle cx="222.11" cy="285.68" r="1.1" class="pp"/>
<circle cx="222.86" cy="284.8" r="1.1" class="pp"/>
<circle cx="222.36" cy="283.94" r="1.1" class="pp"/>
<circle cx="222.61" cy="283.08" r="1.1" class="pp"/>
<circle cx="223.11" cy="282.23" r="1.1" class="pp"/>
<circle cx="222.11" cy="281.38" r="1.1" class="pp"/>
<circle cx="222.86" cy="280.53" r="1.1" class="pp"/>
<circle cx="222.36" cy="279.67" r="1.1" class="pp"/>
<circle cx="222.61" cy="278.79" r="1.1" class="pp"/>
<circle cx="223.11" cy="277.86" r="1.1" class="pp"/>
<circle cx="222.11" cy="276.8" r="1.1" class="pp"/>
<rect x="229.53" y="227.9" width="16.73" height="8.4" fill="#fff" class="sb"/>
<text x="237.9" y="234.2" class="st">DP5</text>
<line x1="229.23" y1="304.6" x2="246.57" y2="304.6" class="ax"/>
<line x1="233.96" y1="304.6" x2="233.96" y2="306" class="tk"/>
<text class="xl" transform="translate(234.11,310.8) scale(1,1.12)">P</text>
<line x1="241.84" y1="304.6" x2="241.84" y2="306" class="tk"/>
<text class="xl" transform="translate(241.84,310.8) scale(1,1.12)">BF</text>
<path d="M235.6,287.2 L235.81,286.68 L236.01,286.16 L236.17,285.64 L236.3,285.11 L236.41,284.59 L236.49,284.07 L236.55,283.55 L236.59,283.03 L236.62,282.51 L236.64,281.99 L236.65,281.47 L236.66,280.94 L236.66,280.42 L236.66,279.9 L236.66,279.38 L236.66,278.86 L236.66,278.34 L236.66,277.82 L236.66,277.29 L236.66,276.77 L236.66,276.25 L236.66,275.73 L236.66,275.21 L236.65,274.69 L236.64,274.17 L236.63,273.65 L236.6,273.12 L236.57,272.6 L236.51,272.08 L236.43,271.56 L236.32,271.04 L236.19,270.52 L236.02,270 L235.81,269.47 L235.58,268.95 L235.33,268.43 L232.59,268.43 L232.34,268.95 L232.11,269.47 L231.9,270 L231.73,270.52 L231.6,271.04 L231.49,271.56 L231.41,272.08 L231.36,272.6 L231.32,273.12 L231.29,273.65 L231.28,274.17 L231.27,274.69 L231.26,275.21 L231.26,275.73 L231.26,276.25 L231.26,276.77 L231.26,277.29 L231.26,277.82 L231.26,278.34 L231.26,278.86 L231.26,279.38 L231.26,279.9 L231.26,280.42 L231.27,280.94 L231.27,281.47 L231.28,281.99 L231.3,282.51 L231.33,283.03 L231.37,283.55 L231.43,284.07 L231.51,284.59 L231.62,285.11 L231.75,285.64 L231.91,286.16 L232.11,286.68 L232.32,287.2Z" fill="#14AD7C" class="vl"/>
<circle cx="233.96" cy="287.2" r="1.1" class="pp"/>
<circle cx="233.96" cy="268.43" r="1.1" class="pp"/>
<circle cx="233.96" cy="286.23" r="1.1" class="pp"/>
<circle cx="234.46" cy="284.64" r="1.1" class="pp"/>
<circle cx="233.46" cy="283.24" r="1.1" class="pp"/>
<circle cx="234.21" cy="281.89" r="1.1" class="pp"/>
<circle cx="233.71" cy="280.56" r="1.1" class="pp"/>
<circle cx="233.96" cy="279.24" r="1.1" class="pp"/>
<circle cx="234.46" cy="277.92" r="1.1" class="pp"/>
<circle cx="233.46" cy="276.59" r="1.1" class="pp"/>
<circle cx="234.21" cy="275.27" r="1.1" class="pp"/>
<circle cx="233.71" cy="273.94" r="1.1" class="pp"/>
<circle cx="233.96" cy="272.59" r="1.1" class="pp"/>
<circle cx="234.46" cy="271.17" r="1.1" class="pp"/>
<circle cx="233.46" cy="269.52" r="1.1" class="pp"/>
<line x1="241.84" y1="266.99" x2="241.84" y2="263.46" class="tl2"/>
<path d="M242.84,288.86 L243.06,288.15 L243.28,287.45 L243.51,286.74 L243.73,286.03 L243.94,285.33 L244.13,284.62 L244.29,283.92 L244.42,283.21 L244.52,282.51 L244.59,281.8 L244.62,281.1 L244.64,280.39 L244.64,279.69 L244.63,278.98 L244.6,278.28 L244.55,277.57 L244.47,276.87 L244.36,276.16 L244.22,275.45 L244.06,274.75 L243.88,274.04 L243.68,273.34 L243.47,272.63 L243.26,271.93 L243.06,271.22 L242.86,270.52 L242.68,269.81 L242.51,269.11 L242.37,268.4 L242.24,267.7 L242.14,266.99 L241.54,266.99 L241.43,267.7 L241.31,268.4 L241.17,269.11 L241,269.81 L240.82,270.52 L240.62,271.22 L240.42,271.93 L240.2,272.63 L240,273.34 L239.8,274.04 L239.62,274.75 L239.46,275.45 L239.32,276.16 L239.21,276.87 L239.13,277.57 L239.08,278.28 L239.05,278.98 L239.04,279.69 L239.04,280.39 L239.05,281.1 L239.09,281.8 L239.16,282.51 L239.26,283.21 L239.39,283.92 L239.55,284.62 L239.74,285.33 L239.95,286.03 L240.17,286.74 L240.4,287.45 L240.62,288.15 L240.84,288.86Z" fill="#F06A12" class="vl"/>
<circle cx="241.84" cy="288.86" r="1.1" class="pp"/>
<circle cx="241.84" cy="263.46" r="1.1" class="pp"/>
<circle cx="241.84" cy="287.5" r="1.1" class="pp"/>
<circle cx="242.34" cy="285.6" r="1.1" class="pp"/>
<circle cx="241.34" cy="284.12" r="1.1" class="pp"/>
<circle cx="242.09" cy="282.83" r="1.1" class="pp"/>
<circle cx="241.59" cy="281.61" r="1.1" class="pp"/>
<circle cx="241.84" cy="280.43" r="1.1" class="pp"/>
<circle cx="242.34" cy="279.25" r="1.1" class="pp"/>
<circle cx="241.34" cy="278.07" r="1.1" class="pp"/>
<circle cx="242.09" cy="276.85" r="1.1" class="pp"/>
<circle cx="241.59" cy="275.54" r="1.1" class="pp"/>
<circle cx="241.84" cy="274.07" r="1.1" class="pp"/>
<circle cx="242.34" cy="272.23" r="1.1" class="pp"/>
<circle cx="241.34" cy="269.21" r="1.1" class="pp"/>
<rect x="248.77" y="227.9" width="16.73" height="8.4" fill="#fff" class="sb"/>
<text x="257.13" y="234.2" class="st">SBI5</text>
<line x1="248.47" y1="304.6" x2="265.8" y2="304.6" class="ax"/>
<line x1="253.19" y1="304.6" x2="253.19" y2="306" class="tk"/>
<text class="xl" transform="translate(253.34,310.8) scale(1,1.12)">P</text>
<line x1="261.07" y1="304.6" x2="261.07" y2="306" class="tk"/>
<text class="xl" transform="translate(261.07,310.8) scale(1,1.12)">BF</text>
<path d="M254.9,270.09 L255.16,269.24 L255.41,268.4 L255.62,267.56 L255.8,266.71 L255.94,265.87 L256.05,265.03 L256.13,264.18 L256.19,263.34 L256.23,262.5 L256.26,261.65 L256.28,260.81 L256.28,259.97 L256.29,259.12 L256.29,258.28 L256.29,257.44 L256.29,256.59 L256.29,255.75 L256.29,254.91 L256.29,254.06 L256.29,253.22 L256.29,252.38 L256.29,251.53 L256.29,250.69 L256.29,249.85 L256.28,249 L256.27,248.16 L256.24,247.32 L256.2,246.47 L256.15,245.63 L256.07,244.79 L255.96,243.94 L255.82,243.1 L255.64,242.26 L255.42,241.41 L255.17,240.57 L254.89,239.73 L251.5,239.73 L251.22,240.57 L250.97,241.41 L250.75,242.26 L250.57,243.1 L250.43,243.94 L250.32,244.79 L250.24,245.63 L250.18,246.47 L250.15,247.32 L250.12,248.16 L250.11,249 L250.1,249.85 L250.1,250.69 L250.09,251.53 L250.09,252.38 L250.09,253.22 L250.09,254.06 L250.09,254.91 L250.09,255.75 L250.09,256.59 L250.09,257.44 L250.1,258.28 L250.1,259.12 L250.1,259.97 L250.11,260.81 L250.13,261.65 L250.16,262.5 L250.2,263.34 L250.26,264.18 L250.34,265.03 L250.45,265.87 L250.59,266.71 L250.77,267.56 L250.98,268.4 L251.22,269.24 L251.49,270.09Z" fill="#14AD7C" class="vl"/>
<circle cx="253.19" cy="270.09" r="1.1" class="pp"/>
<circle cx="253.19" cy="239.73" r="1.1" class="pp"/>
<circle cx="253.19" cy="268.41" r="1.1" class="pp"/>
<circle cx="253.69" cy="265.78" r="1.1" class="pp"/>
<circle cx="252.69" cy="263.48" r="1.1" class="pp"/>
<circle cx="253.44" cy="261.31" r="1.1" class="pp"/>
<circle cx="252.94" cy="259.16" r="1.1" class="pp"/>
<circle cx="253.19" cy="257.02" r="1.1" class="pp"/>
<circle cx="253.69" cy="254.89" r="1.1" class="pp"/>
<circle cx="252.69" cy="252.75" r="1.1" class="pp"/>
<circle cx="253.44" cy="250.62" r="1.1" class="pp"/>
<circle cx="252.94" cy="248.47" r="1.1" class="pp"/>
<circle cx="253.19" cy="246.3" r="1.1" class="pp"/>
<circle cx="253.69" cy="244.02" r="1.1" class="pp"/>
<circle cx="252.69" cy="241.41" r="1.1" class="pp"/>
<line x1="261.07" y1="241.72" x2="261.07" y2="240.83" class="tl2"/>
<path d="M261.63,272.85 L261.81,271.96 L262.02,271.07 L262.25,270.18 L262.5,269.29 L262.75,268.4 L262.99,267.51 L263.22,266.62 L263.43,265.73 L263.61,264.84 L263.76,263.95 L263.87,263.07 L263.96,262.18 L264.02,261.29 L264.05,260.4 L264.07,259.51 L264.07,258.62 L264.07,257.73 L264.07,256.84 L264.06,255.95 L264.04,255.06 L263.99,254.17 L263.92,253.28 L263.82,252.39 L263.69,251.5 L263.53,250.61 L263.33,249.73 L263.11,248.84 L262.88,247.95 L262.63,247.06 L262.38,246.17 L262.14,245.28 L261.92,244.39 L261.72,243.5 L261.55,242.61 L261.41,241.72 L260.73,241.72 L260.6,242.61 L260.43,243.5 L260.23,244.39 L260.01,245.28 L259.77,246.17 L259.52,247.06 L259.27,247.95 L259.03,248.84 L258.81,249.73 L258.62,250.61 L258.45,251.5 L258.32,252.39 L258.22,253.28 L258.15,254.17 L258.11,255.06 L258.08,255.95 L258.07,256.84 L258.07,257.73 L258.07,258.62 L258.08,259.51 L258.1,260.4 L258.13,261.29 L258.19,262.18 L258.27,263.07 L258.39,263.95 L258.54,264.84 L258.71,265.73 L258.92,266.62 L259.15,267.51 L259.4,268.4 L259.65,269.29 L259.89,270.18 L260.13,271.07 L260.34,271.96 L260.52,272.85Z" fill="#F06A12" class="vl"/>
<circle cx="261.07" cy="272.85" r="1.1" class="pp"/>
<circle cx="261.07" cy="240.83" r="1.1" class="pp"/>
<circle cx="261.07" cy="269.99" r="1.1" class="pp"/>
<circle cx="261.57" cy="266.95" r="1.1" class="pp"/>
<circle cx="260.57" cy="264.78" r="1.1" class="pp"/>
<circle cx="261.32" cy="262.92" r="1.1" class="pp"/>
<circle cx="260.82" cy="261.17" r="1.1" class="pp"/>
<circle cx="261.07" cy="259.48" r="1.1" class="pp"/>
<circle cx="261.57" cy="257.8" r="1.1" class="pp"/>
<circle cx="260.57" cy="256.12" r="1.1" class="pp"/>
<circle cx="261.32" cy="254.42" r="1.1" class="pp"/>
<circle cx="260.82" cy="252.67" r="1.1" class="pp"/>
<circle cx="261.07" cy="250.76" r="1.1" class="pp"/>
<circle cx="261.57" cy="248.51" r="1.1" class="pp"/>
<circle cx="260.57" cy="245.14" r="1.1" class="pp"/>
<text x="276.3" y="225" class="pt" font-style="italic">14_Holdemanella biformis</text>
<text class="yl" font-size="5.8" transform="translate(282.8,270.9) rotate(-90)" x="0" y="0">log2(fold change vs NSC)</text>
<line x1="290.4" y1="236.6" x2="290.4" y2="304.6" class="ax"/>
<line x1="289" y1="284.2" x2="290.4" y2="284.2" class="tk"/>
<text x="288.4" y="286.4" class="tl">0</text>
<line x1="289" y1="257.8" x2="290.4" y2="257.8" class="tk"/>
<text x="288.4" y="260" class="tl">5</text>
<rect x="290.7" y="227.9" width="17.15" height="8.4" fill="#fff" class="sb"/>
<text x="299.27" y="234.2" class="st">NSC</text>
<line x1="290.4" y1="304.6" x2="308.15" y2="304.6" class="ax"/>
<line x1="295.24" y1="304.6" x2="295.24" y2="306" class="tk"/>
<text class="xl" transform="translate(295.39,310.8) scale(1,1.12)">P</text>
<line x1="303.31" y1="304.6" x2="303.31" y2="306" class="tk"/>
<text class="xl" transform="translate(303.31,310.8) scale(1,1.12)">BF</text>
<line x1="292.84" y1="284.2" x2="297.64" y2="284.2" stroke="#333" stroke-width="0.7"/>
<circle cx="295.44" cy="284.4" r="1.3" class="pt0"/>
<line x1="300.91" y1="284.2" x2="305.71" y2="284.2" stroke="#333" stroke-width="0.7"/>
<circle cx="303.51" cy="284.4" r="1.3" class="pt0"/>
<rect x="310.35" y="227.9" width="17.15" height="8.4" fill="#fff" class="sb"/>
<text x="318.92" y="234.2" class="st">IN</text>
<line x1="310.05" y1="304.6" x2="327.8" y2="304.6" class="ax"/>
<line x1="314.89" y1="304.6" x2="314.89" y2="306" class="tk"/>
<text class="xl" transform="translate(315.04,310.8) scale(1,1.12)">P</text>
<line x1="322.96" y1="304.6" x2="322.96" y2="306" class="tk"/>
<text class="xl" transform="translate(322.96,310.8) scale(1,1.12)">BF</text>
<line x1="314.89" y1="301.62" x2="314.89" y2="298.16" class="tl2"/>
<path d="M315.29,298.16 L315.44,296.43 L315.62,294.7 L315.83,292.97 L316.07,291.24 L316.32,289.51 L316.59,287.78 L316.85,286.05 L317.11,284.32 L317.34,282.59 L317.55,280.86 L317.73,279.13 L317.88,277.39 L318,275.66 L318.08,273.93 L318.14,272.2 L318.17,270.47 L318.19,268.74 L318.19,267.01 L318.19,265.28 L318.19,263.55 L318.18,261.82 L318.17,260.09 L318.14,258.36 L318.1,256.63 L318.04,254.9 L317.96,253.17 L317.85,251.43 L317.72,249.7 L317.57,247.97 L317.4,246.24 L317.2,244.51 L317,242.78 L316.78,241.05 L316.55,239.32 L313.23,239.32 L313.01,241.05 L312.79,242.78 L312.58,244.51 L312.39,246.24 L312.21,247.97 L312.06,249.7 L311.93,251.43 L311.83,253.17 L311.74,254.9 L311.68,256.63 L311.64,258.36 L311.61,260.09 L311.6,261.82 L311.59,263.55 L311.59,265.28 L311.59,267.01 L311.6,268.74 L311.61,270.47 L311.65,272.2 L311.7,273.93 L311.79,275.66 L311.9,277.39 L312.05,279.13 L312.23,280.86 L312.44,282.59 L312.67,284.32 L312.93,286.05 L313.19,287.78 L313.46,289.51 L313.71,291.24 L313.95,292.97 L314.16,294.7 L314.34,296.43 L314.49,298.16Z" fill="#14AD7C" class="vl"/>
<circle cx="314.89" cy="301.62" r="1.22" class="pp"/>
<circle cx="314.89" cy="239.32" r="1.22" class="pp"/>
<circle cx="314.89" cy="287.15" r="1.22" class="pp"/>
<circle cx="315.39" cy="277.13" r="1.22" class="pp"/>
<circle cx="314.39" cy="269.37" r="1.22" class="pp"/>
<circle cx="315.14" cy="261.85" r="1.22" class="pp"/>
<circle cx="314.64" cy="254.18" r="1.22" class="pp"/>
<circle cx="314.89" cy="245.37" r="1.22" class="pp"/>
<line x1="322.96" y1="263.3" x2="322.96" y2="244.6" class="tl2"/>
<path d="M324.72,284.2 L325.56,283.1 L325.79,282 L325.61,280.9 L325.4,279.8 L325.18,278.7 L324.96,277.6 L324.76,276.5 L324.56,275.4 L324.38,274.3 L324.22,273.2 L324.06,272.1 L323.92,271 L323.8,269.9 L323.69,268.8 L323.59,267.7 L323.51,266.6 L323.43,265.5 L323.36,264.4 L323.3,263.3 L322.61,263.3 L322.56,264.4 L322.49,265.5 L322.41,266.6 L322.33,267.7 L322.23,268.8 L322.12,269.9 L321.99,271 L321.86,272.1 L321.7,273.2 L321.54,274.3 L321.35,275.4 L321.16,276.5 L320.95,277.6 L320.74,278.7 L320.52,279.8 L320.31,280.9 L320.13,282 L320.35,283.1 L321.2,284.2Z" fill="#F06A12" class="vl"/>
<circle cx="322.96" cy="284.2" r="1.22" class="pp"/>
<circle cx="322.96" cy="244.6" r="1.22" class="pp"/>
<circle cx="322.96" cy="255.16" r="1.22" class="pp"/>
<circle cx="322.96" cy="268.36" r="1.22" class="pp"/>
<circle cx="322.96" cy="282.97" r="1.22" class="pp"/>
<circle cx="323.46" cy="281.01" r="1.22" class="pp"/>
<circle cx="322.46" cy="278.78" r="1.22" class="pp"/>
<circle cx="323.21" cy="276" r="1.22" class="pp"/>
<circle cx="322.71" cy="272.07" r="1.22" class="pp"/>
<circle cx="322.96" cy="264.35" r="1.22" class="pp"/>
<rect x="330" y="227.9" width="17.15" height="8.4" fill="#fff" class="sb"/>
<text x="338.57" y="234.2" class="st">DP2</text>
<line x1="329.7" y1="304.6" x2="347.45" y2="304.6" class="ax"/>
<line x1="334.54" y1="304.6" x2="334.54" y2="306" class="tk"/>
<text class="xl" transform="translate(334.69,310.8) scale(1,1.12)">P</text>
<line x1="342.61" y1="304.6" x2="342.61" y2="306" class="tk"/>
<text class="xl" transform="translate(342.61,310.8) scale(1,1.12)">BF</text>
<path d="M335.77,284.2 L335.89,283.98 L336.01,283.76 L336.13,283.54 L336.24,283.32 L336.35,283.1 L336.45,282.88 L336.55,282.66 L336.63,282.44 L336.71,282.22 L336.78,282 L336.84,281.78 L336.89,281.56 L336.93,281.34 L336.96,281.12 L336.99,280.9 L337.01,280.68 L337.02,280.46 L337.03,280.24 L337.04,280.02 L337.04,279.8 L337.04,279.58 L337.04,279.36 L337.04,279.14 L337.03,278.92 L337.02,278.7 L337,278.48 L336.96,278.26 L336.9,278.04 L336.83,277.82 L336.74,277.6 L336.63,277.38 L336.5,277.16 L336.35,276.94 L336.19,276.72 L336.02,276.5 L335.85,276.28 L333.23,276.28 L333.06,276.5 L332.89,276.72 L332.73,276.94 L332.58,277.16 L332.45,277.38 L332.34,277.6 L332.25,277.82 L332.18,278.04 L332.13,278.26 L332.09,278.48 L332.06,278.7 L332.05,278.92 L332.04,279.14 L332.04,279.36 L332.04,279.58 L332.04,279.8 L332.04,280.02 L332.05,280.24 L332.06,280.46 L332.07,280.68 L332.09,280.9 L332.12,281.12 L332.15,281.34 L332.19,281.56 L332.24,281.78 L332.3,282 L332.37,282.22 L332.45,282.44 L332.53,282.66 L332.63,282.88 L332.73,283.1 L332.84,283.32 L332.95,283.54 L333.07,283.76 L333.19,283.98 L333.31,284.2Z" fill="#14AD7C" class="vl"/>
<circle cx="334.54" cy="284.2" r="1.22" class="pp"/>
<circle cx="334.54" cy="276.28" r="1.22" class="pp"/>
<circle cx="334.54" cy="283.25" r="1.22" class="pp"/>
<circle cx="335.04" cy="281.86" r="1.22" class="pp"/>
<circle cx="334.04" cy="280.68" r="1.22" class="pp"/>
<circle cx="334.79" cy="279.54" r="1.22" class="pp"/>
<circle cx="334.29" cy="278.4" r="1.22" class="pp"/>
<circle cx="334.54" cy="277.14" r="1.22" class="pp"/>
<line x1="342.61" y1="280.97" x2="342.61" y2="276.28" class="tl2"/>
<path d="M343.23,286.84 L343.44,286.55 L343.69,286.25 L343.96,285.96 L344.24,285.67 L344.51,285.37 L344.75,285.08 L344.94,284.79 L345.07,284.49 L345.11,284.2 L345.07,283.91 L344.94,283.61 L344.75,283.32 L344.51,283.03 L344.24,282.73 L343.96,282.44 L343.69,282.15 L343.44,281.85 L343.23,281.56 L343.06,281.27 L342.92,280.97 L342.3,280.97 L342.16,281.27 L341.99,281.56 L341.77,281.85 L341.53,282.15 L341.26,282.44 L340.98,282.73 L340.71,283.03 L340.47,283.32 L340.27,283.61 L340.15,283.91 L340.11,284.2 L340.15,284.49 L340.27,284.79 L340.47,285.08 L340.71,285.37 L340.98,285.67 L341.26,285.96 L341.53,286.25 L341.77,286.55 L341.99,286.84Z" fill="#F06A12" class="vl"/>
<circle cx="342.61" cy="286.84" r="1.22" class="pp"/>
<circle cx="342.61" cy="276.28" r="1.22" class="pp"/>
<circle cx="342.61" cy="286.01" r="1.22" class="pp"/>
<circle cx="343.11" cy="285.09" r="1.22" class="pp"/>
<circle cx="342.11" cy="284.41" r="1.22" class="pp"/>
<circle cx="342.86" cy="283.77" r="1.22" class="pp"/>
<circle cx="342.36" cy="283.05" r="1.22" class="pp"/>
<circle cx="342.61" cy="281.91" r="1.22" class="pp"/>
<rect x="349.65" y="227.9" width="17.15" height="8.4" fill="#0AD6F0" class="sb"/>
<text x="358.22" y="234.2" class="st">SBI2</text>
<line x1="349.35" y1="304.6" x2="367.1" y2="304.6" class="ax"/>
<line x1="354.19" y1="304.6" x2="354.19" y2="306" class="tk"/>
<text class="xl" transform="translate(354.34,310.8) scale(1,1.12)">P</text>
<line x1="362.26" y1="304.6" x2="362.26" y2="306" class="tk"/>
<text class="xl" transform="translate(362.26,310.8) scale(1,1.12)">BF</text>
<path d="M355.29,285.26 L355.29,284.61 L355.29,283.97 L355.29,283.32 L355.29,282.67 L355.29,282.03 L355.29,281.38 L355.29,280.74 L355.29,280.09 L355.29,279.45 L355.29,278.8 L355.29,278.16 L355.29,277.51 L355.4,276.87 L355.62,276.22 L355.82,275.58 L356.02,274.93 L356.2,274.29 L356.36,273.64 L356.49,272.99 L356.59,272.35 L356.67,271.7 L356.73,271.06 L356.76,270.41 L356.78,269.77 L356.79,269.12 L356.79,268.48 L356.79,267.83 L356.78,267.19 L356.77,266.54 L356.73,265.9 L356.67,265.25 L356.59,264.61 L356.47,263.96 L356.32,263.31 L356.15,262.67 L355.95,262.02 L352.44,262.02 L352.24,262.67 L352.06,263.31 L351.91,263.96 L351.8,264.61 L351.71,265.25 L351.65,265.9 L351.61,266.54 L351.6,267.19 L351.59,267.83 L351.59,268.48 L351.59,269.12 L351.6,269.77 L351.62,270.41 L351.65,271.06 L351.71,271.7 L351.79,272.35 L351.89,272.99 L352.02,273.64 L352.18,274.29 L352.36,274.93 L352.56,275.58 L352.77,276.22 L352.98,276.87 L353.09,277.51 L353.09,278.16 L353.09,278.8 L353.09,279.45 L353.09,280.09 L353.09,280.74 L353.09,281.38 L353.09,282.03 L353.09,282.67 L353.09,283.32 L353.09,283.97 L353.09,284.61 L353.09,285.26Z" fill="#14AD7C" class="vl"/>
<circle cx="354.19" cy="285.26" r="1.22" class="pp"/>
<circle cx="354.19" cy="262.02" r="1.22" class="pp"/>
<circle cx="354.19" cy="276.83" r="1.22" class="pp"/>
<circle cx="354.69" cy="273.36" r="1.22" class="pp"/>
<circle cx="353.69" cy="270.83" r="1.22" class="pp"/>
<circle cx="354.44" cy="268.47" r="1.22" class="pp"/>
<circle cx="353.94" cy="266.1" r="1.22" class="pp"/>
<circle cx="354.19" cy="263.56" r="1.22" class="pp"/>
<line x1="362.26" y1="280.53" x2="362.26" y2="271" class="tl2"/>
<path d="M363.46,284.2 L363.62,283.83 L363.73,283.47 L363.76,283.1 L363.71,282.73 L363.59,282.37 L363.41,282 L363.21,281.63 L363,281.27 L362.81,280.9 L362.64,280.53 L361.87,280.53 L361.71,280.9 L361.52,281.27 L361.31,281.63 L361.1,282 L360.93,282.37 L360.81,282.73 L360.76,283.1 L360.79,283.47 L360.89,283.83 L361.06,284.2Z" fill="#F06A12" class="vl"/>
<circle cx="362.26" cy="284.2" r="1.22" class="pp"/>
<circle cx="362.26" cy="271" r="1.22" class="pp"/>
<circle cx="362.26" cy="277.86" r="1.22" class="pp"/>
<circle cx="362.26" cy="283.9" r="1.22" class="pp"/>
<circle cx="362.76" cy="283.38" r="1.22" class="pp"/>
<circle cx="361.76" cy="282.87" r="1.22" class="pp"/>
<circle cx="362.51" cy="282.34" r="1.22" class="pp"/>
<circle cx="362.01" cy="281.69" r="1.22" class="pp"/>
<circle cx="362.26" cy="280.59" r="1.22" class="pp"/>
<rect x="369.3" y="227.9" width="17.15" height="8.4" fill="#0AD6F0" class="sb"/>
<text x="377.88" y="234.2" class="st">DP5</text>
<line x1="369" y1="304.6" x2="386.75" y2="304.6" class="ax"/>
<line x1="373.84" y1="304.6" x2="373.84" y2="306" class="tk"/>
<text class="xl" transform="translate(373.99,310.8) scale(1,1.12)">P</text>
<line x1="381.91" y1="304.6" x2="381.91" y2="306" class="tk"/>
<text class="xl" transform="translate(381.91,310.8) scale(1,1.12)">BF</text>
<path d="M375.14,284.2 L375.14,283.32 L375.14,282.44 L375.14,281.56 L375.14,280.68 L375.14,279.8 L375.14,278.92 L375.14,278.04 L375.14,277.16 L375.14,276.28 L375.14,275.4 L375.27,274.52 L375.48,273.64 L375.68,272.76 L375.86,271.88 L376.03,271 L376.17,270.12 L376.29,269.24 L376.38,268.36 L376.44,267.48 L376.49,266.6 L376.52,265.72 L376.53,264.84 L376.54,263.96 L376.54,263.08 L376.54,262.2 L376.53,261.32 L376.52,260.44 L376.48,259.56 L376.43,258.68 L376.35,257.8 L376.25,256.92 L376.11,256.04 L375.95,255.16 L375.77,254.28 L375.56,253.4 L375.35,252.52 L372.33,252.52 L372.12,253.4 L371.91,254.28 L371.73,255.16 L371.57,256.04 L371.44,256.92 L371.33,257.8 L371.25,258.68 L371.2,259.56 L371.17,260.44 L371.15,261.32 L371.14,262.2 L371.14,263.08 L371.14,263.96 L371.15,264.84 L371.16,265.72 L371.19,266.6 L371.24,267.48 L371.3,268.36 L371.4,269.24 L371.51,270.12 L371.65,271 L371.82,271.88 L372,272.76 L372.2,273.64 L372.41,274.52 L372.54,275.4 L372.54,276.28 L372.54,277.16 L372.54,278.04 L372.54,278.92 L372.54,279.8 L372.54,280.68 L372.54,281.56 L372.54,282.44 L372.54,283.32 L372.54,284.2Z" fill="#14AD7C" class="vl"/>
<circle cx="373.84" cy="284.2" r="1.22" class="pp"/>
<circle cx="373.84" cy="252.52" r="1.22" class="pp"/>
<circle cx="373.84" cy="274.94" r="1.22" class="pp"/>
<circle cx="374.34" cy="269.91" r="1.22" class="pp"/>
<circle cx="373.34" cy="266.17" r="1.22" class="pp"/>
<circle cx="374.09" cy="262.64" r="1.22" class="pp"/>
<circle cx="373.59" cy="259.08" r="1.22" class="pp"/>
<circle cx="373.84" cy="255.13" r="1.22" class="pp"/>
<line x1="381.91" y1="281.05" x2="381.91" y2="261.5" class="tl2"/>
<path d="M383.56,284.2 L383.66,283.57 L383.48,282.94 L383.12,282.31 L382.7,281.68 L382.35,281.05 L381.47,281.05 L381.12,281.68 L380.7,282.31 L380.34,282.94 L380.16,283.57 L380.25,284.2Z" fill="#F06A12" class="vl"/>
<circle cx="381.91" cy="284.2" r="1.22" class="pp"/>
<circle cx="381.91" cy="261.5" r="1.22" class="pp"/>
<circle cx="381.91" cy="277.34" r="1.22" class="pp"/>
<circle cx="381.91" cy="282.09" r="1.22" class="pp"/>
<circle cx="381.91" cy="283.98" r="1.22" class="pp"/>
<circle cx="382.41" cy="283.54" r="1.22" class="pp"/>
<circle cx="381.41" cy="283.1" r="1.22" class="pp"/>
<circle cx="382.16" cy="282.61" r="1.22" class="pp"/>
<circle cx="381.66" cy="281.98" r="1.22" class="pp"/>
<circle cx="381.91" cy="280.8" r="1.22" class="pp"/>
<rect x="388.95" y="227.9" width="17.15" height="8.4" fill="#0AD6F0" class="sb"/>
<text x="397.52" y="234.2" class="st">SBI5</text>
<line x1="388.65" y1="304.6" x2="406.4" y2="304.6" class="ax"/>
<line x1="393.49" y1="304.6" x2="393.49" y2="306" class="tk"/>
<text class="xl" transform="translate(393.64,310.8) scale(1,1.12)">P</text>
<line x1="401.56" y1="304.6" x2="401.56" y2="306" class="tk"/>
<text class="xl" transform="translate(401.56,310.8) scale(1,1.12)">BF</text>
<path d="M394.69,286.84 L394.69,285.95 L394.69,285.05 L394.69,284.16 L394.69,283.26 L394.69,282.37 L394.69,281.47 L394.69,280.58 L394.69,279.68 L394.69,278.79 L394.69,277.89 L394.69,277 L394.69,276.1 L394.69,275.21 L394.72,274.31 L394.93,273.42 L395.14,272.53 L395.34,271.63 L395.53,270.74 L395.7,269.84 L395.84,268.95 L395.95,268.05 L396.04,267.16 L396.11,266.26 L396.15,265.37 L396.17,264.47 L396.19,263.58 L396.19,262.68 L396.19,261.79 L396.19,260.89 L396.16,260 L396.11,259.11 L396.01,258.21 L395.86,257.32 L395.66,256.42 L395.41,255.53 L395.13,254.63 L391.85,254.63 L391.57,255.53 L391.32,256.42 L391.12,257.32 L390.97,258.21 L390.87,259.11 L390.82,260 L390.8,260.89 L390.79,261.79 L390.79,262.68 L390.8,263.58 L390.81,264.47 L390.83,265.37 L390.88,266.26 L390.94,267.16 L391.03,268.05 L391.15,268.95 L391.29,269.84 L391.45,270.74 L391.64,271.63 L391.84,272.53 L392.05,273.42 L392.26,274.31 L392.29,275.21 L392.29,276.1 L392.29,277 L392.29,277.89 L392.29,278.79 L392.29,279.68 L392.29,280.58 L392.29,281.47 L392.29,282.37 L392.29,283.26 L392.29,284.16 L392.29,285.05 L392.29,285.95 L392.29,286.84Z" fill="#14AD7C" class="vl"/>
<circle cx="393.49" cy="286.84" r="1.22" class="pp"/>
<circle cx="393.49" cy="254.63" r="1.22" class="pp"/>
<circle cx="393.49" cy="274.43" r="1.22" class="pp"/>
<circle cx="393.99" cy="269.67" r="1.22" class="pp"/>
<circle cx="392.99" cy="266.27" r="1.22" class="pp"/>
<circle cx="393.74" cy="263.15" r="1.22" class="pp"/>
<circle cx="393.24" cy="260.06" r="1.22" class="pp"/>
<circle cx="393.49" cy="256.75" r="1.22" class="pp"/>
<line x1="401.56" y1="278.66" x2="401.56" y2="255.69" class="tl2"/>
<path d="M403.07,284.2 L403.42,283.41 L403.56,282.62 L403.42,281.82 L403.07,281.03 L402.62,280.24 L402.21,279.45 L401.9,278.66 L401.21,278.66 L400.91,279.45 L400.5,280.24 L400.05,281.03 L399.69,281.82 L399.56,282.62 L399.69,283.41 L400.05,284.2Z" fill="#F06A12" class="vl"/>
<circle cx="401.56" cy="284.2" r="1.22" class="pp"/>
<circle cx="401.56" cy="255.69" r="1.22" class="pp"/>
<circle cx="401.56" cy="270.47" r="1.22" class="pp"/>
<circle cx="401.56" cy="277.86" r="1.22" class="pp"/>
<circle cx="401.56" cy="283.77" r="1.22" class="pp"/>
<circle cx="402.06" cy="283.02" r="1.22" class="pp"/>
<circle cx="401.06" cy="282.32" r="1.22" class="pp"/>
<circle cx="401.81" cy="281.58" r="1.22" class="pp"/>
<circle cx="401.31" cy="280.68" r="1.22" class="pp"/>
<circle cx="401.56" cy="279.11" r="1.22" class="pp"/>
<text x="409.2" y="225" class="pt" font-style="italic">107_Intestinimonas butyriciproducens</text>
<text class="yl" font-size="5.8" transform="translate(415,270.9) rotate(-90)" x="0" y="0">log2(fold change vs NSC)</text>
<line x1="426.3" y1="236.6" x2="426.3" y2="304.6" class="ax"/>
<line x1="424.9" y1="299.8" x2="426.3" y2="299.8" class="tk"/>
<text x="424.3" y="302" class="tl">-2</text>
<line x1="424.9" y1="284.1" x2="426.3" y2="284.1" class="tk"/>
<text x="424.3" y="286.3" class="tl">-1</text>
<line x1="424.9" y1="268.4" x2="426.3" y2="268.4" class="tk"/>
<text x="424.3" y="270.6" class="tl">0</text>
<line x1="424.9" y1="252.7" x2="426.3" y2="252.7" class="tk"/>
<text x="424.3" y="254.9" class="tl">1</text>
<line x1="424.9" y1="237" x2="426.3" y2="237" class="tk"/>
<text x="424.3" y="239.2" class="tl">2</text>
<rect x="426.6" y="227.9" width="16.57" height="8.4" fill="#fff" class="sb"/>
<text x="434.88" y="234.2" class="st">NSC</text>
<line x1="426.3" y1="304.6" x2="443.47" y2="304.6" class="ax"/>
<line x1="430.98" y1="304.6" x2="430.98" y2="306" class="tk"/>
<text class="xl" transform="translate(431.13,310.8) scale(1,1.12)">P</text>
<line x1="438.78" y1="304.6" x2="438.78" y2="306" class="tk"/>
<text class="xl" transform="translate(438.78,310.8) scale(1,1.12)">BF</text>
<line x1="428.58" y1="268.4" x2="433.38" y2="268.4" stroke="#333" stroke-width="0.7"/>
<circle cx="431.18" cy="268.6" r="1.3" class="pt0"/>
<line x1="436.38" y1="268.4" x2="441.18" y2="268.4" stroke="#333" stroke-width="0.7"/>
<circle cx="438.98" cy="268.6" r="1.3" class="pt0"/>
<rect x="445.67" y="227.9" width="16.57" height="8.4" fill="#fff" class="sb"/>
<text x="453.95" y="234.2" class="st">IN</text>
<line x1="445.37" y1="304.6" x2="462.53" y2="304.6" class="ax"/>
<line x1="450.05" y1="304.6" x2="450.05" y2="306" class="tk"/>
<text class="xl" transform="translate(450.2,310.8) scale(1,1.12)">P</text>
<line x1="457.85" y1="304.6" x2="457.85" y2="306" class="tk"/>
<text class="xl" transform="translate(457.85,310.8) scale(1,1.12)">BF</text>
<path d="M450.95,302.94 L450.95,301.89 L450.95,300.85 L450.95,299.8 L450.95,298.75 L450.95,297.71 L450.95,296.66 L450.95,295.61 L450.95,294.57 L450.95,293.52 L450.95,292.47 L450.95,291.43 L450.95,290.38 L450.95,289.33 L450.95,288.29 L450.95,287.24 L450.95,286.19 L450.95,285.15 L450.95,284.1 L451,283.05 L451.18,282.01 L451.38,280.96 L451.59,279.91 L451.81,278.87 L452.03,277.82 L452.25,276.77 L452.45,275.73 L452.63,274.68 L452.79,273.63 L452.91,272.59 L453,271.54 L453.04,270.49 L453.02,269.45 L452.82,268.4 L452.45,267.35 L451.99,266.31 L451.51,265.26 L448.59,265.26 L448.11,266.31 L447.65,267.35 L447.28,268.4 L447.08,269.45 L447.05,270.49 L447.1,271.54 L447.18,272.59 L447.31,273.63 L447.46,274.68 L447.65,275.73 L447.85,276.77 L448.06,277.82 L448.28,278.87 L448.5,279.91 L448.71,280.96 L448.91,282.01 L449.1,283.05 L449.15,284.1 L449.15,285.15 L449.15,286.19 L449.15,287.24 L449.15,288.29 L449.15,289.33 L449.15,290.38 L449.15,291.43 L449.15,292.47 L449.15,293.52 L449.15,294.57 L449.15,295.61 L449.15,296.66 L449.15,297.71 L449.15,298.75 L449.15,299.8 L449.15,300.85 L449.15,301.89 L449.15,302.94Z" fill="#14AD7C" class="vl"/>
<circle cx="450.05" cy="302.94" r="1.22" class="pp"/>
<circle cx="450.05" cy="265.26" r="1.22" class="pp"/>
<circle cx="450.05" cy="298.23" r="1.22" class="pp"/>
<circle cx="450.05" cy="283.9" r="1.22" class="pp"/>
<circle cx="450.55" cy="278.35" r="1.22" class="pp"/>
<circle cx="449.55" cy="275.03" r="1.22" class="pp"/>
<circle cx="450.3" cy="272.33" r="1.22" class="pp"/>
<circle cx="449.8" cy="269.85" r="1.22" class="pp"/>
<circle cx="450.05" cy="267.19" r="1.22" class="pp"/>
<path d="M458.3,293.52 L458.3,292.81 L458.3,292.11 L458.3,291.4 L458.3,290.69 L458.3,289.99 L458.3,289.28 L458.3,288.57 L458.3,287.87 L458.3,287.16 L458.3,286.45 L458.3,285.75 L458.3,285.04 L458.3,284.34 L458.3,283.63 L458.3,282.92 L458.3,282.22 L458.3,281.51 L458.35,280.8 L458.43,280.1 L458.53,279.39 L458.63,278.68 L458.75,277.98 L458.88,277.27 L459.02,276.56 L459.17,275.86 L459.32,275.15 L459.48,274.44 L459.65,273.74 L459.81,273.03 L459.97,272.32 L460.12,271.62 L460.26,270.91 L460.37,270.21 L460.44,269.5 L460.26,268.79 L459.59,268.09 L456.12,268.09 L455.45,268.79 L455.26,269.5 L455.34,270.21 L455.45,270.91 L455.58,271.62 L455.73,272.32 L455.89,273.03 L456.06,273.74 L456.22,274.44 L456.38,275.15 L456.54,275.86 L456.68,276.56 L456.82,277.27 L456.95,277.98 L457.07,278.68 L457.17,279.39 L457.27,280.1 L457.36,280.8 L457.4,281.51 L457.4,282.22 L457.4,282.92 L457.4,283.63 L457.4,284.34 L457.4,285.04 L457.4,285.75 L457.4,286.45 L457.4,287.16 L457.4,287.87 L457.4,288.57 L457.4,289.28 L457.4,289.99 L457.4,290.69 L457.4,291.4 L457.4,292.11 L457.4,292.81 L457.4,293.52Z" fill="#F06A12" class="vl"/>
<circle cx="457.85" cy="293.52" r="1.22" class="pp"/>
<circle cx="457.85" cy="268.09" r="1.22" class="pp"/>
<circle cx="457.85" cy="281.75" r="1.22" class="pp"/>
<circle cx="457.85" cy="284.1" r="1.22" class="pp"/>
<circle cx="457.85" cy="281.01" r="1.22" class="pp"/>
<circle cx="458.35" cy="276.39" r="1.22" class="pp"/>
<circle cx="457.35" cy="273.88" r="1.22" class="pp"/>
<circle cx="458.1" cy="272" r="1.22" class="pp"/>
<circle cx="457.6" cy="270.41" r="1.22" class="pp"/>
<circle cx="457.85" cy="268.95" r="1.22" class="pp"/>
<rect x="464.73" y="227.9" width="16.57" height="8.4" fill="#fff" class="sb"/>
<text x="473.02" y="234.2" class="st">DP2</text>
<line x1="464.43" y1="304.6" x2="481.6" y2="304.6" class="ax"/>
<line x1="469.12" y1="304.6" x2="469.12" y2="306" class="tk"/>
<text class="xl" transform="translate(469.27,310.8) scale(1,1.12)">P</text>
<line x1="476.92" y1="304.6" x2="476.92" y2="306" class="tk"/>
<text class="xl" transform="translate(476.92,310.8) scale(1,1.12)">BF</text>
<path d="M471.32,268.4 L471.41,268.05 L471.49,267.7 L471.56,267.35 L471.62,267 L471.67,266.66 L471.71,266.31 L471.74,265.96 L471.76,265.61 L471.78,265.26 L471.79,264.91 L471.8,264.56 L471.81,264.21 L471.81,263.86 L471.81,263.52 L471.81,263.17 L471.82,262.82 L471.82,262.47 L471.82,262.12 L471.82,261.77 L471.82,261.42 L471.81,261.07 L471.81,260.72 L471.81,260.38 L471.8,260.03 L471.8,259.68 L471.78,259.33 L471.76,258.98 L471.74,258.63 L471.7,258.28 L471.65,257.93 L471.6,257.58 L471.52,257.24 L471.44,256.89 L471.34,256.54 L471.22,256.19 L471.09,255.84 L467.14,255.84 L467.01,256.19 L466.89,256.54 L466.79,256.89 L466.71,257.24 L466.63,257.58 L466.58,257.93 L466.53,258.28 L466.49,258.63 L466.47,258.98 L466.45,259.33 L466.43,259.68 L466.43,260.03 L466.42,260.38 L466.42,260.72 L466.42,261.07 L466.42,261.42 L466.42,261.77 L466.42,262.12 L466.42,262.47 L466.42,262.82 L466.42,263.17 L466.42,263.52 L466.42,263.86 L466.42,264.21 L466.43,264.56 L466.44,264.91 L466.45,265.26 L466.47,265.61 L466.49,265.96 L466.52,266.31 L466.56,266.66 L466.61,267 L466.67,267.35 L466.74,267.7 L466.82,268.05 L466.92,268.4Z" fill="#14AD7C" class="vl"/>
<circle cx="469.12" cy="268.4" r="1.22" class="pp"/>
<circle cx="469.12" cy="255.84" r="1.22" class="pp"/>
<circle cx="469.12" cy="267.25" r="1.22" class="pp"/>
<circle cx="469.62" cy="265.17" r="1.22" class="pp"/>
<circle cx="468.62" cy="263.17" r="1.22" class="pp"/>
<circle cx="469.37" cy="261.18" r="1.22" class="pp"/>
<circle cx="468.87" cy="259.18" r="1.22" class="pp"/>
<circle cx="469.12" cy="257.07" r="1.22" class="pp"/>
<line x1="476.92" y1="264.56" x2="476.92" y2="255.84" class="tl2"/>
<path d="M478.68,268.4 L478.84,268.05 L478.92,267.7 L478.89,267.35 L478.77,267 L478.58,266.66 L478.33,266.31 L478.06,265.96 L477.8,265.61 L477.57,265.26 L477.37,264.91 L477.22,264.56 L476.62,264.56 L476.46,264.91 L476.27,265.26 L476.03,265.61 L475.77,265.96 L475.5,266.31 L475.26,266.66 L475.06,267 L474.95,267.35 L474.92,267.7 L474.99,268.05 L475.15,268.4Z" fill="#F06A12" class="vl"/>
<circle cx="476.92" cy="268.4" r="1.22" class="pp"/>
<circle cx="476.92" cy="255.84" r="1.22" class="pp"/>
<circle cx="476.92" cy="260.55" r="1.22" class="pp"/>
<circle cx="476.92" cy="268.15" r="1.22" class="pp"/>
<circle cx="477.42" cy="267.68" r="1.22" class="pp"/>
<circle cx="476.42" cy="267.21" r="1.22" class="pp"/>
<circle cx="477.17" cy="266.71" r="1.22" class="pp"/>
<circle cx="476.67" cy="266.09" r="1.22" class="pp"/>
<circle cx="476.92" cy="265.02" r="1.22" class="pp"/>
<rect x="483.8" y="227.9" width="16.57" height="8.4" fill="#fff" class="sb"/>
<text x="492.08" y="234.2" class="st">SBI2</text>
<line x1="483.5" y1="304.6" x2="500.67" y2="304.6" class="ax"/>
<line x1="488.18" y1="304.6" x2="488.18" y2="306" class="tk"/>
<text class="xl" transform="translate(488.33,310.8) scale(1,1.12)">P</text>
<line x1="495.98" y1="304.6" x2="495.98" y2="306" class="tk"/>
<text class="xl" transform="translate(495.98,310.8) scale(1,1.12)">BF</text>
<path d="M490.39,268.4 L490.48,267.99 L490.55,267.57 L490.61,267.16 L490.65,266.74 L490.68,266.33 L490.68,265.91 L490.68,265.5 L490.67,265.09 L490.65,264.67 L490.63,264.26 L490.6,263.84 L490.57,263.43 L490.53,263.01 L490.49,262.6 L490.44,262.19 L490.39,261.77 L490.34,261.36 L490.28,260.94 L490.22,260.53 L490.16,260.11 L490.09,259.7 L490.02,259.29 L489.95,258.87 L489.88,258.46 L489.81,258.04 L489.74,257.63 L489.66,257.21 L489.59,256.8 L489.52,256.39 L489.45,255.97 L489.38,255.56 L489.31,255.14 L489.24,254.73 L489.18,254.31 L489.18,253.9 L489.18,253.48 L487.18,253.48 L487.18,253.9 L487.18,254.31 L487.12,254.73 L487.06,255.14 L486.99,255.56 L486.92,255.97 L486.84,256.39 L486.77,256.8 L486.7,257.21 L486.63,257.63 L486.55,258.04 L486.48,258.46 L486.41,258.87 L486.34,259.29 L486.27,259.7 L486.21,260.11 L486.14,260.53 L486.08,260.94 L486.02,261.36 L485.97,261.77 L485.92,262.19 L485.87,262.6 L485.83,263.01 L485.79,263.43 L485.76,263.84 L485.73,264.26 L485.71,264.67 L485.7,265.09 L485.69,265.5 L485.68,265.91 L485.69,266.33 L485.71,266.74 L485.75,267.16 L485.81,267.57 L485.89,267.99 L485.98,268.4Z" fill="#14AD7C" class="vl"/>
<circle cx="488.18" cy="268.4" r="1.22" class="pp"/>
<circle cx="488.18" cy="253.48" r="1.22" class="pp"/>
<circle cx="488.18" cy="267.36" r="1.22" class="pp"/>
<circle cx="488.68" cy="265.43" r="1.22" class="pp"/>
<circle cx="487.68" cy="263.47" r="1.22" class="pp"/>
<circle cx="488.43" cy="261.37" r="1.22" class="pp"/>
<circle cx="487.93" cy="258.94" r="1.22" class="pp"/>
<circle cx="488.18" cy="255.77" r="1.22" class="pp"/>
<line x1="495.98" y1="277.03" x2="495.98" y2="275.07" class="tl2"/>
<line x1="495.98" y1="260.03" x2="495.98" y2="253.48" class="tl2"/>
<path d="M496.4,275.07 L496.54,274.42 L496.72,273.76 L496.92,273.11 L497.15,272.46 L497.4,271.8 L497.65,271.15 L497.9,270.49 L498.11,269.84 L498.29,269.19 L498.42,268.53 L498.48,267.88 L498.47,267.22 L498.4,266.57 L498.26,265.91 L498.07,265.26 L497.85,264.61 L497.6,263.95 L497.35,263.3 L497.11,262.64 L496.88,261.99 L496.68,261.33 L496.51,260.68 L496.37,260.03 L495.6,260.03 L495.46,260.68 L495.29,261.33 L495.09,261.99 L494.86,262.64 L494.62,263.3 L494.37,263.95 L494.12,264.61 L493.9,265.26 L493.71,265.91 L493.57,266.57 L493.5,267.22 L493.49,267.88 L493.55,268.53 L493.68,269.19 L493.86,269.84 L494.07,270.49 L494.32,271.15 L494.57,271.8 L494.82,272.46 L495.05,273.11 L495.25,273.76 L495.43,274.42 L495.57,275.07Z" fill="#F06A12" class="vl"/>
<circle cx="495.98" cy="277.03" r="1.22" class="pp"/>
<circle cx="495.98" cy="253.48" r="1.22" class="pp"/>
<circle cx="495.98" cy="272.88" r="1.22" class="pp"/>
<circle cx="496.48" cy="270.19" r="1.22" class="pp"/>
<circle cx="495.48" cy="268.39" r="1.22" class="pp"/>
<circle cx="496.23" cy="266.74" r="1.22" class="pp"/>
<circle cx="495.73" cy="264.92" r="1.22" class="pp"/>
<circle cx="495.98" cy="262.1" r="1.22" class="pp"/>
<rect x="502.87" y="227.9" width="16.57" height="8.4" fill="#fff" class="sb"/>
<text x="511.15" y="234.2" class="st">DP5</text>
<line x1="502.57" y1="304.6" x2="519.73" y2="304.6" class="ax"/>
<line x1="507.25" y1="304.6" x2="507.25" y2="306" class="tk"/>
<text class="xl" transform="translate(507.4,310.8) scale(1,1.12)">P</text>
<line x1="515.05" y1="304.6" x2="515.05" y2="306" class="tk"/>
<text class="xl" transform="translate(515.05,310.8) scale(1,1.12)">BF</text>
<path d="M509.09,268.4 L509.25,267.75 L509.41,267.09 L509.55,266.44 L509.68,265.78 L509.78,265.13 L509.87,264.47 L509.92,263.82 L509.95,263.17 L509.95,262.51 L509.94,261.86 L509.92,261.2 L509.9,260.55 L509.86,259.9 L509.82,259.24 L509.77,258.59 L509.72,257.93 L509.66,257.28 L509.59,256.62 L509.52,255.97 L509.44,255.32 L509.36,254.66 L509.28,254.01 L509.19,253.35 L509.1,252.7 L509.01,252.05 L508.92,251.39 L508.83,250.74 L508.74,250.08 L508.65,249.43 L508.56,248.77 L508.48,248.12 L508.39,247.47 L508.31,246.81 L508.25,246.16 L508.25,245.5 L508.25,244.85 L506.25,244.85 L506.25,245.5 L506.25,246.16 L506.19,246.81 L506.11,247.47 L506.02,248.12 L505.93,248.77 L505.85,249.43 L505.76,250.08 L505.67,250.74 L505.57,251.39 L505.48,252.05 L505.39,252.7 L505.31,253.35 L505.22,254.01 L505.14,254.66 L505.05,255.32 L504.98,255.97 L504.91,256.62 L504.84,257.28 L504.78,257.93 L504.72,258.59 L504.68,259.24 L504.64,259.9 L504.6,260.55 L504.58,261.2 L504.56,261.86 L504.55,262.51 L504.55,263.17 L504.58,263.82 L504.63,264.47 L504.71,265.13 L504.82,265.78 L504.94,266.44 L505.09,267.09 L505.24,267.75 L505.41,268.4Z" fill="#14AD7C" class="vl"/>
<circle cx="507.25" cy="268.4" r="1.22" class="pp"/>
<circle cx="507.25" cy="244.85" r="1.22" class="pp"/>
<circle cx="507.25" cy="266.47" r="1.22" class="pp"/>
<circle cx="507.75" cy="263.33" r="1.22" class="pp"/>
<circle cx="506.75" cy="260.34" r="1.22" class="pp"/>
<circle cx="507.5" cy="257.17" r="1.22" class="pp"/>
<circle cx="507" cy="253.52" r="1.22" class="pp"/>
<circle cx="507.25" cy="248.62" r="1.22" class="pp"/>
<line x1="515.05" y1="287.24" x2="515.05" y2="278.23" class="tl2"/>
<line x1="515.05" y1="258.94" x2="515.05" y2="240.92" class="tl2"/>
<path d="M515.39,278.23 L515.63,276.95 L515.97,275.66 L516.39,274.37 L516.88,273.09 L517.36,271.8 L517.76,270.52 L518.01,269.23 L518.04,267.94 L517.85,266.66 L517.49,265.37 L517.02,264.08 L516.53,262.8 L516.08,261.51 L515.72,260.22 L515.45,258.94 L514.65,258.94 L514.39,260.22 L514.02,261.51 L513.57,262.8 L513.08,264.08 L512.61,265.37 L512.25,266.66 L512.07,267.94 L512.1,269.23 L512.34,270.52 L512.74,271.8 L513.22,273.09 L513.71,274.37 L514.14,275.66 L514.47,276.95 L514.71,278.23Z" fill="#F06A12" class="vl"/>
<circle cx="515.05" cy="287.24" r="1.22" class="pp"/>
<circle cx="515.05" cy="240.92" r="1.22" class="pp"/>
<circle cx="515.05" cy="275" r="1.22" class="pp"/>
<circle cx="515.55" cy="271.6" r="1.22" class="pp"/>
<circle cx="514.55" cy="269.39" r="1.22" class="pp"/>
<circle cx="515.3" cy="267.38" r="1.22" class="pp"/>
<circle cx="514.8" cy="265.16" r="1.22" class="pp"/>
<circle cx="515.05" cy="261.7" r="1.22" class="pp"/>
<rect x="521.93" y="227.9" width="16.57" height="8.4" fill="#0AD6F0" class="sb"/>
<text x="530.22" y="234.2" class="st">SBI5</text>
<line x1="521.63" y1="304.6" x2="538.8" y2="304.6" class="ax"/>
<line x1="526.32" y1="304.6" x2="526.32" y2="306" class="tk"/>
<text class="xl" transform="translate(526.47,310.8) scale(1,1.12)">P</text>
<line x1="534.12" y1="304.6" x2="534.12" y2="306" class="tk"/>
<text class="xl" transform="translate(534.12,310.8) scale(1,1.12)">BF</text>
<path d="M527.62,268.4 L527.62,267.75 L527.62,267.09 L527.62,266.44 L527.62,265.78 L527.62,265.13 L527.62,264.47 L527.62,263.82 L527.62,263.17 L527.74,262.51 L527.89,261.86 L528.05,261.2 L528.19,260.55 L528.32,259.9 L528.43,259.24 L528.53,258.59 L528.61,257.93 L528.68,257.28 L528.73,256.62 L528.76,255.97 L528.79,255.32 L528.8,254.66 L528.81,254.01 L528.81,253.35 L528.82,252.7 L528.81,252.05 L528.81,251.39 L528.8,250.74 L528.78,250.08 L528.75,249.43 L528.7,248.77 L528.64,248.12 L528.55,247.47 L528.45,246.81 L528.33,246.16 L528.19,245.5 L528.03,244.85 L524.6,244.85 L524.44,245.5 L524.3,246.16 L524.18,246.81 L524.08,247.47 L523.99,248.12 L523.93,248.77 L523.88,249.43 L523.85,250.08 L523.83,250.74 L523.82,251.39 L523.82,252.05 L523.82,252.7 L523.82,253.35 L523.82,254.01 L523.83,254.66 L523.84,255.32 L523.87,255.97 L523.9,256.62 L523.95,257.28 L524.02,257.93 L524.1,258.59 L524.2,259.24 L524.31,259.9 L524.44,260.55 L524.58,261.2 L524.74,261.86 L524.89,262.51 L525.02,263.17 L525.02,263.82 L525.02,264.47 L525.02,265.13 L525.02,265.78 L525.02,266.44 L525.02,267.09 L525.02,267.75 L525.02,268.4Z" fill="#14AD7C" class="vl"/>
<circle cx="526.32" cy="268.4" r="1.22" class="pp"/>
<circle cx="526.32" cy="244.85" r="1.22" class="pp"/>
<circle cx="526.32" cy="263.14" r="1.22" class="pp"/>
<circle cx="526.82" cy="258.95" r="1.22" class="pp"/>
<circle cx="525.82" cy="255.81" r="1.22" class="pp"/>
<circle cx="526.57" cy="252.86" r="1.22" class="pp"/>
<circle cx="526.07" cy="249.91" r="1.22" class="pp"/>
<circle cx="526.32" cy="246.75" r="1.22" class="pp"/>
<line x1="534.12" y1="258.83" x2="534.12" y2="239.35" class="tl2"/>
<path d="M534.87,276.25 L535.17,275.23 L535.52,274.2 L535.91,273.18 L536.3,272.15 L536.66,271.13 L536.93,270.1 L537.09,269.08 L537.11,268.05 L536.99,267.03 L536.75,266 L536.42,264.98 L536.04,263.95 L535.65,262.93 L535.28,261.9 L534.96,260.88 L534.7,259.85 L534.5,258.83 L533.74,258.83 L533.54,259.85 L533.28,260.88 L532.96,261.9 L532.59,262.93 L532.2,263.95 L531.81,264.98 L531.48,266 L531.24,267.03 L531.13,268.05 L531.15,269.08 L531.31,270.1 L531.58,271.13 L531.93,272.15 L532.32,273.18 L532.71,274.2 L533.07,275.23 L533.37,276.25Z" fill="#F06A12" class="vl"/>
<circle cx="534.12" cy="276.25" r="1.22" class="pp"/>
<circle cx="534.12" cy="239.35" r="1.22" class="pp"/>
<circle cx="534.12" cy="252.7" r="1.22" class="pp"/>
<circle cx="534.12" cy="273.77" r="1.22" class="pp"/>
<circle cx="534.62" cy="271.05" r="1.22" class="pp"/>
<circle cx="533.62" cy="269.02" r="1.22" class="pp"/>
<circle cx="534.37" cy="267.12" r="1.22" class="pp"/>
<circle cx="533.87" cy="264.96" r="1.22" class="pp"/>
<circle cx="534.12" cy="261.55" r="1.22" class="pp"/>
</svg>
</body></html>
